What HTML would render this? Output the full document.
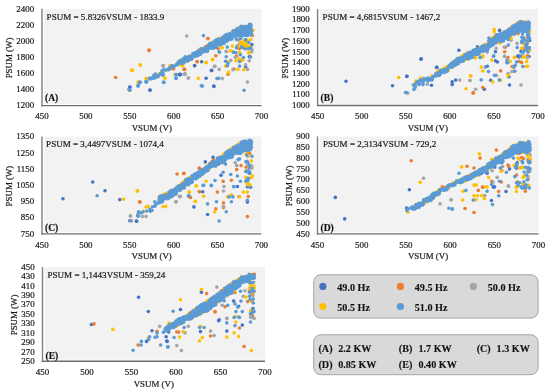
<!DOCTYPE html>
<html><head><meta charset="utf-8"><style>
html,body{margin:0;padding:0;background:#fff;width:550px;height:392px;overflow:hidden}
svg{display:block;will-change:transform}
.t{font-family:"Liberation Serif", serif;font-size:8.9px;fill:#1e1e1e;stroke:#1e1e1e;stroke-width:0.22px}
.lb{font-family:"Liberation Serif", serif;font-size:9.6px;font-weight:bold;fill:#111;stroke:#111;stroke-width:0.15px}
.lg{font-family:"Liberation Serif", serif;font-size:10.15px;font-weight:bold;fill:#111;stroke:#111;stroke-width:0.12px}
</style></head><body>
<svg width="550" height="392" viewBox="0 0 550 392">
<rect x="44.3" y="8.8" width="217.2" height="95.1" fill="#f2f2f2"/>
<circle cx="129.8" cy="87.0" r="1.8" fill="#4472C4"/>
<circle cx="149.9" cy="90.2" r="1.8" fill="#4472C4"/>
<circle cx="179.3" cy="74.6" r="1.8" fill="#4472C4"/>
<circle cx="201.6" cy="61.8" r="1.8" fill="#4472C4"/>
<circle cx="194.6" cy="65.6" r="1.8" fill="#4472C4"/>
<circle cx="211.8" cy="70.4" r="1.8" fill="#4472C4"/>
<circle cx="180.0" cy="74.3" r="1.8" fill="#4472C4"/>
<circle cx="206.1" cy="78.3" r="1.8" fill="#4472C4"/>
<circle cx="213.7" cy="86.0" r="1.8" fill="#4472C4"/>
<circle cx="194.6" cy="65.7" r="1.8" fill="#4472C4"/>
<circle cx="180.7" cy="74.6" r="1.8" fill="#4472C4"/>
<circle cx="214.0" cy="86.5" r="1.8" fill="#4472C4"/>
<circle cx="211.3" cy="70.6" r="1.8" fill="#4472C4"/>
<circle cx="245.6" cy="66.7" r="1.8" fill="#4472C4"/>
<circle cx="249.3" cy="56.7" r="1.8" fill="#4472C4"/>
<circle cx="251.8" cy="44.6" r="1.8" fill="#4472C4"/>
<circle cx="233.5" cy="52.2" r="1.8" fill="#4472C4"/>
<circle cx="240.6" cy="47.7" r="1.8" fill="#4472C4"/>
<circle cx="129.9" cy="87.2" r="1.8" fill="#4472C4"/>
<circle cx="179.5" cy="74.6" r="1.8" fill="#4472C4"/>
<circle cx="183.4" cy="59.9" r="1.8" fill="#4472C4"/>
<circle cx="150.1" cy="90.1" r="1.8" fill="#4472C4"/>
<circle cx="187.3" cy="60.9" r="1.8" fill="#4472C4"/>
<circle cx="205.1" cy="51.2" r="1.8" fill="#4472C4"/>
<circle cx="215.4" cy="47.3" r="1.8" fill="#4472C4"/>
<circle cx="237.3" cy="35.5" r="1.8" fill="#4472C4"/>
<circle cx="243.3" cy="47.2" r="1.8" fill="#4472C4"/>
<circle cx="245.6" cy="39.8" r="1.8" fill="#4472C4"/>
<circle cx="149.2" cy="50.5" r="1.8" fill="#ED7D31"/>
<circle cx="115.6" cy="77.5" r="1.8" fill="#ED7D31"/>
<circle cx="173.5" cy="68.8" r="1.8" fill="#ED7D31"/>
<circle cx="148.9" cy="50.1" r="1.8" fill="#ED7D31"/>
<circle cx="207.8" cy="38.5" r="1.8" fill="#ED7D31"/>
<circle cx="208.0" cy="38.6" r="1.8" fill="#ED7D31"/>
<circle cx="184.4" cy="69.4" r="1.8" fill="#ED7D31"/>
<circle cx="197.2" cy="61.8" r="1.8" fill="#ED7D31"/>
<circle cx="173.6" cy="68.8" r="1.8" fill="#ED7D31"/>
<circle cx="215.8" cy="55.7" r="1.8" fill="#ED7D31"/>
<circle cx="197.1" cy="61.6" r="1.8" fill="#ED7D31"/>
<circle cx="184.2" cy="69.4" r="1.8" fill="#ED7D31"/>
<circle cx="234.0" cy="69.1" r="1.8" fill="#ED7D31"/>
<circle cx="228.0" cy="74.2" r="1.8" fill="#ED7D31"/>
<circle cx="236.7" cy="56.0" r="1.8" fill="#ED7D31"/>
<circle cx="237.6" cy="39.5" r="1.8" fill="#ED7D31"/>
<circle cx="218.2" cy="48.7" r="1.8" fill="#ED7D31"/>
<circle cx="252.3" cy="35.4" r="1.8" fill="#ED7D31"/>
<circle cx="173.0" cy="68.6" r="1.8" fill="#ED7D31"/>
<circle cx="184.5" cy="69.2" r="1.8" fill="#ED7D31"/>
<circle cx="193.2" cy="53.8" r="1.8" fill="#ED7D31"/>
<circle cx="199.0" cy="50.0" r="1.8" fill="#ED7D31"/>
<circle cx="205.3" cy="47.0" r="1.8" fill="#ED7D31"/>
<circle cx="207.2" cy="45.9" r="1.8" fill="#ED7D31"/>
<circle cx="209.3" cy="44.6" r="1.8" fill="#ED7D31"/>
<circle cx="246.1" cy="48.8" r="1.8" fill="#ED7D31"/>
<circle cx="247.0" cy="40.9" r="1.8" fill="#ED7D31"/>
<circle cx="239.0" cy="48.4" r="1.8" fill="#ED7D31"/>
<circle cx="163.0" cy="65.9" r="1.8" fill="#A5A5A5"/>
<circle cx="158.2" cy="75.4" r="1.8" fill="#A5A5A5"/>
<circle cx="186.7" cy="36.0" r="1.8" fill="#A5A5A5"/>
<circle cx="163.4" cy="65.6" r="1.8" fill="#A5A5A5"/>
<circle cx="185.0" cy="73.9" r="1.8" fill="#A5A5A5"/>
<circle cx="214.4" cy="66.2" r="1.8" fill="#A5A5A5"/>
<circle cx="188.2" cy="78.1" r="1.8" fill="#A5A5A5"/>
<circle cx="185.2" cy="74.2" r="1.8" fill="#A5A5A5"/>
<circle cx="188.6" cy="78.0" r="1.8" fill="#A5A5A5"/>
<circle cx="215.0" cy="66.4" r="1.8" fill="#A5A5A5"/>
<circle cx="219.2" cy="69.4" r="1.8" fill="#A5A5A5"/>
<circle cx="222.2" cy="78.6" r="1.8" fill="#A5A5A5"/>
<circle cx="226.2" cy="51.8" r="1.8" fill="#A5A5A5"/>
<circle cx="230.7" cy="60.4" r="1.8" fill="#A5A5A5"/>
<circle cx="232.9" cy="69.7" r="1.8" fill="#A5A5A5"/>
<circle cx="249.3" cy="60.7" r="1.8" fill="#A5A5A5"/>
<circle cx="245.6" cy="64.9" r="1.8" fill="#A5A5A5"/>
<circle cx="247.5" cy="69.4" r="1.8" fill="#A5A5A5"/>
<circle cx="247.4" cy="82.1" r="1.8" fill="#A5A5A5"/>
<circle cx="235.2" cy="57.2" r="1.8" fill="#A5A5A5"/>
<circle cx="251.6" cy="51.8" r="1.8" fill="#A5A5A5"/>
<circle cx="226.3" cy="51.2" r="1.8" fill="#A5A5A5"/>
<circle cx="252.0" cy="50.0" r="1.8" fill="#A5A5A5"/>
<circle cx="157.7" cy="76.8" r="1.8" fill="#A5A5A5"/>
<circle cx="163.2" cy="65.9" r="1.8" fill="#A5A5A5"/>
<circle cx="184.5" cy="74.1" r="1.8" fill="#A5A5A5"/>
<circle cx="180.9" cy="60.4" r="1.8" fill="#A5A5A5"/>
<circle cx="180.9" cy="63.3" r="1.8" fill="#A5A5A5"/>
<circle cx="191.1" cy="59.2" r="1.8" fill="#A5A5A5"/>
<circle cx="195.1" cy="52.7" r="1.8" fill="#A5A5A5"/>
<circle cx="199.0" cy="54.2" r="1.8" fill="#A5A5A5"/>
<circle cx="200.9" cy="49.2" r="1.8" fill="#A5A5A5"/>
<circle cx="201.0" cy="53.7" r="1.8" fill="#A5A5A5"/>
<circle cx="202.7" cy="52.3" r="1.8" fill="#A5A5A5"/>
<circle cx="216.7" cy="39.8" r="1.8" fill="#A5A5A5"/>
<circle cx="218.8" cy="38.6" r="1.8" fill="#A5A5A5"/>
<circle cx="219.4" cy="45.4" r="1.8" fill="#A5A5A5"/>
<circle cx="224.9" cy="35.9" r="1.8" fill="#A5A5A5"/>
<circle cx="228.7" cy="39.8" r="1.8" fill="#A5A5A5"/>
<circle cx="231.4" cy="32.8" r="1.8" fill="#A5A5A5"/>
<circle cx="238.9" cy="27.8" r="1.8" fill="#A5A5A5"/>
<circle cx="241.2" cy="27.1" r="1.8" fill="#A5A5A5"/>
<circle cx="243.1" cy="34.9" r="1.8" fill="#A5A5A5"/>
<circle cx="246.8" cy="35.0" r="1.8" fill="#A5A5A5"/>
<circle cx="250.9" cy="35.2" r="1.8" fill="#A5A5A5"/>
<circle cx="242.6" cy="46.8" r="1.8" fill="#A5A5A5"/>
<circle cx="238.6" cy="40.3" r="1.8" fill="#A5A5A5"/>
<circle cx="237.1" cy="45.9" r="1.8" fill="#A5A5A5"/>
<circle cx="239.4" cy="44.0" r="1.8" fill="#A5A5A5"/>
<circle cx="132.3" cy="70.3" r="1.8" fill="#FFC000"/>
<circle cx="140.4" cy="64.9" r="1.8" fill="#FFC000"/>
<circle cx="129.5" cy="90.3" r="1.8" fill="#FFC000"/>
<circle cx="138.5" cy="81.9" r="1.8" fill="#FFC000"/>
<circle cx="146.3" cy="78.3" r="1.8" fill="#FFC000"/>
<circle cx="165.0" cy="78.3" r="1.8" fill="#FFC000"/>
<circle cx="159.6" cy="73.9" r="1.8" fill="#FFC000"/>
<circle cx="175.0" cy="74.6" r="1.8" fill="#FFC000"/>
<circle cx="131.6" cy="70.0" r="1.8" fill="#FFC000"/>
<circle cx="206.1" cy="62.4" r="1.8" fill="#FFC000"/>
<circle cx="212.5" cy="59.2" r="1.8" fill="#FFC000"/>
<circle cx="182.5" cy="65.6" r="1.8" fill="#FFC000"/>
<circle cx="198.2" cy="78.3" r="1.8" fill="#FFC000"/>
<circle cx="212.5" cy="59.7" r="1.8" fill="#FFC000"/>
<circle cx="206.1" cy="62.7" r="1.8" fill="#FFC000"/>
<circle cx="230.7" cy="50.7" r="1.8" fill="#FFC000"/>
<circle cx="225.5" cy="66.1" r="1.8" fill="#FFC000"/>
<circle cx="235.9" cy="60.7" r="1.8" fill="#FFC000"/>
<circle cx="237.9" cy="69.4" r="1.8" fill="#FFC000"/>
<circle cx="228.5" cy="72.4" r="1.8" fill="#FFC000"/>
<circle cx="242.6" cy="60.4" r="1.8" fill="#FFC000"/>
<circle cx="243.8" cy="69.7" r="1.8" fill="#FFC000"/>
<circle cx="239.6" cy="52.2" r="1.8" fill="#FFC000"/>
<circle cx="238.9" cy="59.0" r="1.8" fill="#FFC000"/>
<circle cx="241.1" cy="59.7" r="1.8" fill="#FFC000"/>
<circle cx="249.0" cy="53.0" r="1.8" fill="#FFC000"/>
<circle cx="246.2" cy="34.9" r="1.8" fill="#FFC000"/>
<circle cx="250.8" cy="39.5" r="1.8" fill="#FFC000"/>
<circle cx="240.6" cy="43.1" r="1.8" fill="#FFC000"/>
<circle cx="242.0" cy="44.0" r="1.8" fill="#FFC000"/>
<circle cx="246.2" cy="45.1" r="1.8" fill="#FFC000"/>
<circle cx="232.4" cy="46.1" r="1.8" fill="#FFC000"/>
<circle cx="230.4" cy="50.7" r="1.8" fill="#FFC000"/>
<circle cx="250.8" cy="47.7" r="1.8" fill="#FFC000"/>
<circle cx="222.2" cy="47.7" r="1.8" fill="#FFC000"/>
<circle cx="248.8" cy="52.8" r="1.8" fill="#FFC000"/>
<circle cx="252.9" cy="30.3" r="1.8" fill="#FFC000"/>
<circle cx="227.7" cy="61.9" r="1.8" fill="#FFC000"/>
<circle cx="138.1" cy="82.3" r="1.8" fill="#FFC000"/>
<circle cx="146.3" cy="78.5" r="1.8" fill="#FFC000"/>
<circle cx="158.8" cy="74.6" r="1.8" fill="#FFC000"/>
<circle cx="161.0" cy="72.5" r="1.8" fill="#FFC000"/>
<circle cx="165.9" cy="70.3" r="1.8" fill="#FFC000"/>
<circle cx="169.7" cy="65.9" r="1.8" fill="#FFC000"/>
<circle cx="181.7" cy="65.4" r="1.8" fill="#FFC000"/>
<circle cx="176.3" cy="74.6" r="1.8" fill="#FFC000"/>
<circle cx="164.8" cy="78.1" r="1.8" fill="#FFC000"/>
<circle cx="140.3" cy="65.0" r="1.8" fill="#FFC000"/>
<circle cx="132.4" cy="70.5" r="1.8" fill="#FFC000"/>
<circle cx="129.5" cy="90.5" r="1.8" fill="#FFC000"/>
<circle cx="178.8" cy="61.4" r="1.8" fill="#FFC000"/>
<circle cx="179.2" cy="63.9" r="1.8" fill="#FFC000"/>
<circle cx="184.8" cy="62.0" r="1.8" fill="#FFC000"/>
<circle cx="188.9" cy="56.0" r="1.8" fill="#FFC000"/>
<circle cx="203.2" cy="48.3" r="1.8" fill="#FFC000"/>
<circle cx="211.1" cy="43.0" r="1.8" fill="#FFC000"/>
<circle cx="212.9" cy="42.1" r="1.8" fill="#FFC000"/>
<circle cx="217.3" cy="46.1" r="1.8" fill="#FFC000"/>
<circle cx="221.1" cy="38.1" r="1.8" fill="#FFC000"/>
<circle cx="223.2" cy="43.0" r="1.8" fill="#FFC000"/>
<circle cx="232.7" cy="31.5" r="1.8" fill="#FFC000"/>
<circle cx="241.1" cy="35.2" r="1.8" fill="#FFC000"/>
<circle cx="243.1" cy="26.4" r="1.8" fill="#FFC000"/>
<circle cx="249.5" cy="24.7" r="1.8" fill="#FFC000"/>
<circle cx="239.9" cy="46.3" r="1.8" fill="#FFC000"/>
<circle cx="245.8" cy="46.1" r="1.8" fill="#FFC000"/>
<circle cx="244.0" cy="40.5" r="1.8" fill="#FFC000"/>
<circle cx="249.1" cy="47.8" r="1.8" fill="#FFC000"/>
<circle cx="248.4" cy="47.0" r="1.8" fill="#FFC000"/>
<circle cx="247.9" cy="41.0" r="1.8" fill="#FFC000"/>
<circle cx="245.8" cy="42.1" r="1.8" fill="#FFC000"/>
<circle cx="246.4" cy="44.7" r="1.8" fill="#FFC000"/>
<circle cx="241.3" cy="42.4" r="1.8" fill="#FFC000"/>
<circle cx="245.1" cy="42.7" r="1.8" fill="#FFC000"/>
<circle cx="244.7" cy="44.6" r="1.8" fill="#FFC000"/>
<circle cx="249.3" cy="46.5" r="1.8" fill="#FFC000"/>
<circle cx="243.8" cy="45.9" r="1.8" fill="#FFC000"/>
<circle cx="129.8" cy="89.9" r="1.8" fill="#5B9BD5"/>
<circle cx="140.0" cy="82.3" r="1.8" fill="#5B9BD5"/>
<circle cx="138.1" cy="85.8" r="1.8" fill="#5B9BD5"/>
<circle cx="146.3" cy="81.9" r="1.8" fill="#5B9BD5"/>
<circle cx="163.6" cy="82.3" r="1.8" fill="#5B9BD5"/>
<circle cx="175.9" cy="78.3" r="1.8" fill="#5B9BD5"/>
<circle cx="175.9" cy="74.6" r="1.8" fill="#5B9BD5"/>
<circle cx="129.0" cy="89.3" r="1.8" fill="#5B9BD5"/>
<circle cx="138.1" cy="85.5" r="1.8" fill="#5B9BD5"/>
<circle cx="139.4" cy="82.9" r="1.8" fill="#5B9BD5"/>
<circle cx="145.8" cy="81.6" r="1.8" fill="#5B9BD5"/>
<circle cx="203.5" cy="35.6" r="1.8" fill="#5B9BD5"/>
<circle cx="163.8" cy="82.4" r="1.8" fill="#5B9BD5"/>
<circle cx="176.1" cy="74.5" r="1.8" fill="#5B9BD5"/>
<circle cx="176.1" cy="78.3" r="1.8" fill="#5B9BD5"/>
<circle cx="217.0" cy="78.6" r="1.8" fill="#5B9BD5"/>
<circle cx="218.5" cy="78.3" r="1.8" fill="#5B9BD5"/>
<circle cx="201.3" cy="85.8" r="1.8" fill="#5B9BD5"/>
<circle cx="202.4" cy="86.1" r="1.8" fill="#5B9BD5"/>
<circle cx="225.5" cy="61.2" r="1.8" fill="#5B9BD5"/>
<circle cx="228.0" cy="63.4" r="1.8" fill="#5B9BD5"/>
<circle cx="227.4" cy="65.7" r="1.8" fill="#5B9BD5"/>
<circle cx="239.6" cy="61.6" r="1.8" fill="#5B9BD5"/>
<circle cx="239.6" cy="66.1" r="1.8" fill="#5B9BD5"/>
<circle cx="244.1" cy="90.3" r="1.8" fill="#5B9BD5"/>
<circle cx="219.5" cy="52.2" r="1.8" fill="#5B9BD5"/>
<circle cx="226.2" cy="56.7" r="1.8" fill="#5B9BD5"/>
<circle cx="233.7" cy="52.2" r="1.8" fill="#5B9BD5"/>
<circle cx="235.9" cy="52.7" r="1.8" fill="#5B9BD5"/>
<circle cx="240.4" cy="54.8" r="1.8" fill="#5B9BD5"/>
<circle cx="243.4" cy="57.5" r="1.8" fill="#5B9BD5"/>
<circle cx="250.5" cy="56.9" r="1.8" fill="#5B9BD5"/>
<circle cx="240.6" cy="38.5" r="1.8" fill="#5B9BD5"/>
<circle cx="241.6" cy="36.5" r="1.8" fill="#5B9BD5"/>
<circle cx="248.8" cy="42.6" r="1.8" fill="#5B9BD5"/>
<circle cx="227.3" cy="47.1" r="1.8" fill="#5B9BD5"/>
<circle cx="236.5" cy="47.7" r="1.8" fill="#5B9BD5"/>
<circle cx="244.7" cy="48.7" r="1.8" fill="#5B9BD5"/>
<circle cx="248.4" cy="48.7" r="1.8" fill="#5B9BD5"/>
<circle cx="219.2" cy="51.7" r="1.8" fill="#5B9BD5"/>
<circle cx="149.5" cy="78.3" r="1.8" fill="#5B9BD5"/>
<circle cx="152.4" cy="77.5" r="1.8" fill="#5B9BD5"/>
<circle cx="155.3" cy="74.6" r="1.8" fill="#5B9BD5"/>
<circle cx="155.3" cy="76.8" r="1.8" fill="#5B9BD5"/>
<circle cx="158.2" cy="76.1" r="1.8" fill="#5B9BD5"/>
<circle cx="161.1" cy="73.9" r="1.8" fill="#5B9BD5"/>
<circle cx="162.5" cy="71.0" r="1.8" fill="#5B9BD5"/>
<circle cx="164.0" cy="69.5" r="1.8" fill="#5B9BD5"/>
<circle cx="168.4" cy="68.8" r="1.8" fill="#5B9BD5"/>
<circle cx="171.3" cy="66.6" r="1.8" fill="#5B9BD5"/>
<circle cx="172.7" cy="65.9" r="1.8" fill="#5B9BD5"/>
<circle cx="177.1" cy="63.7" r="1.8" fill="#5B9BD5"/>
<circle cx="179.3" cy="61.5" r="1.8" fill="#5B9BD5"/>
<circle cx="150.5" cy="79.0" r="1.8" fill="#5B9BD5"/>
<circle cx="153.0" cy="78.0" r="1.8" fill="#5B9BD5"/>
<circle cx="157.0" cy="77.0" r="1.8" fill="#5B9BD5"/>
<circle cx="160.0" cy="74.0" r="1.8" fill="#5B9BD5"/>
<circle cx="166.0" cy="70.0" r="1.8" fill="#5B9BD5"/>
<circle cx="170.0" cy="68.0" r="1.8" fill="#5B9BD5"/>
<circle cx="174.0" cy="66.5" r="1.8" fill="#5B9BD5"/>
<circle cx="176.0" cy="65.0" r="1.8" fill="#5B9BD5"/>
<circle cx="178.0" cy="63.0" r="1.8" fill="#5B9BD5"/>
<circle cx="129.9" cy="89.9" r="1.8" fill="#5B9BD5"/>
<circle cx="140.3" cy="82.3" r="1.8" fill="#5B9BD5"/>
<circle cx="138.1" cy="86.1" r="1.8" fill="#5B9BD5"/>
<circle cx="146.3" cy="82.1" r="1.8" fill="#5B9BD5"/>
<circle cx="146.8" cy="81.2" r="1.8" fill="#5B9BD5"/>
<circle cx="150.1" cy="78.5" r="1.8" fill="#5B9BD5"/>
<circle cx="152.3" cy="78.5" r="1.8" fill="#5B9BD5"/>
<circle cx="154.5" cy="77.9" r="1.8" fill="#5B9BD5"/>
<circle cx="153.9" cy="75.2" r="1.8" fill="#5B9BD5"/>
<circle cx="155.5" cy="74.1" r="1.8" fill="#5B9BD5"/>
<circle cx="162.1" cy="70.8" r="1.8" fill="#5B9BD5"/>
<circle cx="162.6" cy="72.5" r="1.8" fill="#5B9BD5"/>
<circle cx="163.2" cy="74.1" r="1.8" fill="#5B9BD5"/>
<circle cx="162.6" cy="75.2" r="1.8" fill="#5B9BD5"/>
<circle cx="168.6" cy="69.7" r="1.8" fill="#5B9BD5"/>
<circle cx="170.3" cy="68.6" r="1.8" fill="#5B9BD5"/>
<circle cx="171.4" cy="67.0" r="1.8" fill="#5B9BD5"/>
<circle cx="171.9" cy="65.9" r="1.8" fill="#5B9BD5"/>
<circle cx="177.4" cy="64.8" r="1.8" fill="#5B9BD5"/>
<circle cx="178.5" cy="62.6" r="1.8" fill="#5B9BD5"/>
<circle cx="179.5" cy="61.5" r="1.8" fill="#5B9BD5"/>
<circle cx="180.6" cy="60.5" r="1.8" fill="#5B9BD5"/>
<circle cx="176.3" cy="78.1" r="1.8" fill="#5B9BD5"/>
<circle cx="163.7" cy="82.3" r="1.8" fill="#5B9BD5"/>
<circle cx="179.2" cy="61.5" r="1.8" fill="#5B9BD5"/>
<circle cx="179.0" cy="63.2" r="1.8" fill="#5B9BD5"/>
<circle cx="180.3" cy="61.1" r="1.8" fill="#5B9BD5"/>
<circle cx="180.9" cy="63.0" r="1.8" fill="#5B9BD5"/>
<circle cx="180.8" cy="62.7" r="1.8" fill="#5B9BD5"/>
<circle cx="182.0" cy="61.0" r="1.8" fill="#5B9BD5"/>
<circle cx="182.5" cy="61.8" r="1.8" fill="#5B9BD5"/>
<circle cx="181.8" cy="63.1" r="1.8" fill="#5B9BD5"/>
<circle cx="183.6" cy="60.3" r="1.8" fill="#5B9BD5"/>
<circle cx="183.4" cy="61.8" r="1.8" fill="#5B9BD5"/>
<circle cx="183.8" cy="62.7" r="1.8" fill="#5B9BD5"/>
<circle cx="185.2" cy="56.9" r="1.8" fill="#5B9BD5"/>
<circle cx="185.2" cy="58.2" r="1.8" fill="#5B9BD5"/>
<circle cx="185.7" cy="60.0" r="1.8" fill="#5B9BD5"/>
<circle cx="187.4" cy="57.5" r="1.8" fill="#5B9BD5"/>
<circle cx="186.7" cy="58.7" r="1.8" fill="#5B9BD5"/>
<circle cx="187.2" cy="59.8" r="1.8" fill="#5B9BD5"/>
<circle cx="188.9" cy="57.4" r="1.8" fill="#5B9BD5"/>
<circle cx="188.4" cy="59.0" r="1.8" fill="#5B9BD5"/>
<circle cx="188.9" cy="59.9" r="1.8" fill="#5B9BD5"/>
<circle cx="189.8" cy="56.4" r="1.8" fill="#5B9BD5"/>
<circle cx="190.4" cy="58.2" r="1.8" fill="#5B9BD5"/>
<circle cx="189.9" cy="59.4" r="1.8" fill="#5B9BD5"/>
<circle cx="191.7" cy="56.4" r="1.8" fill="#5B9BD5"/>
<circle cx="191.8" cy="58.2" r="1.8" fill="#5B9BD5"/>
<circle cx="191.8" cy="59.0" r="1.8" fill="#5B9BD5"/>
<circle cx="193.0" cy="53.6" r="1.8" fill="#5B9BD5"/>
<circle cx="193.8" cy="55.1" r="1.8" fill="#5B9BD5"/>
<circle cx="193.3" cy="55.5" r="1.8" fill="#5B9BD5"/>
<circle cx="195.2" cy="53.0" r="1.8" fill="#5B9BD5"/>
<circle cx="195.3" cy="54.4" r="1.8" fill="#5B9BD5"/>
<circle cx="195.0" cy="56.5" r="1.8" fill="#5B9BD5"/>
<circle cx="196.4" cy="52.6" r="1.8" fill="#5B9BD5"/>
<circle cx="197.0" cy="53.8" r="1.8" fill="#5B9BD5"/>
<circle cx="196.8" cy="55.5" r="1.8" fill="#5B9BD5"/>
<circle cx="198.4" cy="52.4" r="1.8" fill="#5B9BD5"/>
<circle cx="198.2" cy="53.9" r="1.8" fill="#5B9BD5"/>
<circle cx="197.8" cy="55.4" r="1.8" fill="#5B9BD5"/>
<circle cx="199.8" cy="51.7" r="1.8" fill="#5B9BD5"/>
<circle cx="199.7" cy="53.2" r="1.8" fill="#5B9BD5"/>
<circle cx="199.8" cy="54.4" r="1.8" fill="#5B9BD5"/>
<circle cx="201.0" cy="48.9" r="1.8" fill="#5B9BD5"/>
<circle cx="201.1" cy="50.7" r="1.8" fill="#5B9BD5"/>
<circle cx="201.7" cy="51.9" r="1.8" fill="#5B9BD5"/>
<circle cx="202.8" cy="49.2" r="1.8" fill="#5B9BD5"/>
<circle cx="203.1" cy="50.2" r="1.8" fill="#5B9BD5"/>
<circle cx="202.6" cy="51.3" r="1.8" fill="#5B9BD5"/>
<circle cx="204.3" cy="48.4" r="1.8" fill="#5B9BD5"/>
<circle cx="204.5" cy="49.6" r="1.8" fill="#5B9BD5"/>
<circle cx="204.3" cy="50.9" r="1.8" fill="#5B9BD5"/>
<circle cx="206.4" cy="47.2" r="1.8" fill="#5B9BD5"/>
<circle cx="206.1" cy="48.9" r="1.8" fill="#5B9BD5"/>
<circle cx="205.8" cy="50.4" r="1.8" fill="#5B9BD5"/>
<circle cx="206.1" cy="50.4" r="1.8" fill="#5B9BD5"/>
<circle cx="207.8" cy="46.5" r="1.8" fill="#5B9BD5"/>
<circle cx="207.9" cy="48.5" r="1.8" fill="#5B9BD5"/>
<circle cx="207.4" cy="49.5" r="1.8" fill="#5B9BD5"/>
<circle cx="207.5" cy="51.2" r="1.8" fill="#5B9BD5"/>
<circle cx="209.5" cy="43.8" r="1.8" fill="#5B9BD5"/>
<circle cx="209.2" cy="45.8" r="1.8" fill="#5B9BD5"/>
<circle cx="209.6" cy="47.0" r="1.8" fill="#5B9BD5"/>
<circle cx="209.2" cy="48.3" r="1.8" fill="#5B9BD5"/>
<circle cx="210.9" cy="43.5" r="1.8" fill="#5B9BD5"/>
<circle cx="210.6" cy="44.9" r="1.8" fill="#5B9BD5"/>
<circle cx="211.4" cy="46.9" r="1.8" fill="#5B9BD5"/>
<circle cx="210.8" cy="48.2" r="1.8" fill="#5B9BD5"/>
<circle cx="212.8" cy="42.8" r="1.8" fill="#5B9BD5"/>
<circle cx="212.4" cy="44.0" r="1.8" fill="#5B9BD5"/>
<circle cx="212.9" cy="45.7" r="1.8" fill="#5B9BD5"/>
<circle cx="212.9" cy="48.0" r="1.8" fill="#5B9BD5"/>
<circle cx="212.7" cy="47.8" r="1.8" fill="#5B9BD5"/>
<circle cx="214.4" cy="42.9" r="1.8" fill="#5B9BD5"/>
<circle cx="214.1" cy="44.4" r="1.8" fill="#5B9BD5"/>
<circle cx="214.0" cy="46.2" r="1.8" fill="#5B9BD5"/>
<circle cx="214.1" cy="47.5" r="1.8" fill="#5B9BD5"/>
<circle cx="213.9" cy="48.0" r="1.8" fill="#5B9BD5"/>
<circle cx="215.7" cy="42.3" r="1.8" fill="#5B9BD5"/>
<circle cx="216.1" cy="43.2" r="1.8" fill="#5B9BD5"/>
<circle cx="215.6" cy="45.0" r="1.8" fill="#5B9BD5"/>
<circle cx="216.2" cy="47.0" r="1.8" fill="#5B9BD5"/>
<circle cx="215.7" cy="47.0" r="1.8" fill="#5B9BD5"/>
<circle cx="217.7" cy="39.5" r="1.8" fill="#5B9BD5"/>
<circle cx="217.7" cy="41.3" r="1.8" fill="#5B9BD5"/>
<circle cx="217.4" cy="43.2" r="1.8" fill="#5B9BD5"/>
<circle cx="217.2" cy="44.6" r="1.8" fill="#5B9BD5"/>
<circle cx="217.1" cy="44.6" r="1.8" fill="#5B9BD5"/>
<circle cx="219.2" cy="39.7" r="1.8" fill="#5B9BD5"/>
<circle cx="219.3" cy="41.1" r="1.8" fill="#5B9BD5"/>
<circle cx="218.9" cy="42.6" r="1.8" fill="#5B9BD5"/>
<circle cx="219.3" cy="44.0" r="1.8" fill="#5B9BD5"/>
<circle cx="220.3" cy="39.4" r="1.8" fill="#5B9BD5"/>
<circle cx="220.3" cy="40.6" r="1.8" fill="#5B9BD5"/>
<circle cx="220.3" cy="42.9" r="1.8" fill="#5B9BD5"/>
<circle cx="220.8" cy="44.4" r="1.8" fill="#5B9BD5"/>
<circle cx="222.4" cy="38.4" r="1.8" fill="#5B9BD5"/>
<circle cx="222.3" cy="39.9" r="1.8" fill="#5B9BD5"/>
<circle cx="221.9" cy="41.6" r="1.8" fill="#5B9BD5"/>
<circle cx="222.5" cy="43.4" r="1.8" fill="#5B9BD5"/>
<circle cx="222.5" cy="43.5" r="1.8" fill="#5B9BD5"/>
<circle cx="224.1" cy="37.8" r="1.8" fill="#5B9BD5"/>
<circle cx="223.9" cy="39.4" r="1.8" fill="#5B9BD5"/>
<circle cx="223.5" cy="41.7" r="1.8" fill="#5B9BD5"/>
<circle cx="223.4" cy="42.8" r="1.8" fill="#5B9BD5"/>
<circle cx="224.2" cy="43.3" r="1.8" fill="#5B9BD5"/>
<circle cx="225.2" cy="35.5" r="1.8" fill="#5B9BD5"/>
<circle cx="225.1" cy="37.3" r="1.8" fill="#5B9BD5"/>
<circle cx="225.3" cy="38.9" r="1.8" fill="#5B9BD5"/>
<circle cx="225.7" cy="40.0" r="1.8" fill="#5B9BD5"/>
<circle cx="225.2" cy="40.1" r="1.8" fill="#5B9BD5"/>
<circle cx="226.6" cy="34.6" r="1.8" fill="#5B9BD5"/>
<circle cx="227.4" cy="36.4" r="1.8" fill="#5B9BD5"/>
<circle cx="227.1" cy="38.2" r="1.8" fill="#5B9BD5"/>
<circle cx="226.9" cy="39.5" r="1.8" fill="#5B9BD5"/>
<circle cx="227.3" cy="40.6" r="1.8" fill="#5B9BD5"/>
<circle cx="228.4" cy="35.6" r="1.8" fill="#5B9BD5"/>
<circle cx="229.0" cy="37.1" r="1.8" fill="#5B9BD5"/>
<circle cx="228.8" cy="38.8" r="1.8" fill="#5B9BD5"/>
<circle cx="228.4" cy="39.5" r="1.8" fill="#5B9BD5"/>
<circle cx="229.9" cy="34.4" r="1.8" fill="#5B9BD5"/>
<circle cx="230.6" cy="36.1" r="1.8" fill="#5B9BD5"/>
<circle cx="230.3" cy="37.9" r="1.8" fill="#5B9BD5"/>
<circle cx="230.6" cy="39.1" r="1.8" fill="#5B9BD5"/>
<circle cx="231.7" cy="34.4" r="1.8" fill="#5B9BD5"/>
<circle cx="232.1" cy="35.5" r="1.8" fill="#5B9BD5"/>
<circle cx="231.7" cy="37.3" r="1.8" fill="#5B9BD5"/>
<circle cx="231.9" cy="39.0" r="1.8" fill="#5B9BD5"/>
<circle cx="233.2" cy="30.8" r="1.8" fill="#5B9BD5"/>
<circle cx="233.4" cy="32.4" r="1.8" fill="#5B9BD5"/>
<circle cx="233.1" cy="34.4" r="1.8" fill="#5B9BD5"/>
<circle cx="233.2" cy="36.0" r="1.8" fill="#5B9BD5"/>
<circle cx="234.7" cy="30.9" r="1.8" fill="#5B9BD5"/>
<circle cx="235.2" cy="32.1" r="1.8" fill="#5B9BD5"/>
<circle cx="235.4" cy="33.8" r="1.8" fill="#5B9BD5"/>
<circle cx="235.2" cy="36.0" r="1.8" fill="#5B9BD5"/>
<circle cx="235.3" cy="35.9" r="1.8" fill="#5B9BD5"/>
<circle cx="236.9" cy="29.8" r="1.8" fill="#5B9BD5"/>
<circle cx="236.9" cy="31.3" r="1.8" fill="#5B9BD5"/>
<circle cx="236.9" cy="32.8" r="1.8" fill="#5B9BD5"/>
<circle cx="236.5" cy="35.1" r="1.8" fill="#5B9BD5"/>
<circle cx="236.8" cy="35.7" r="1.8" fill="#5B9BD5"/>
<circle cx="238.4" cy="29.9" r="1.8" fill="#5B9BD5"/>
<circle cx="238.1" cy="31.5" r="1.8" fill="#5B9BD5"/>
<circle cx="238.4" cy="33.5" r="1.8" fill="#5B9BD5"/>
<circle cx="238.0" cy="34.6" r="1.8" fill="#5B9BD5"/>
<circle cx="238.6" cy="35.8" r="1.8" fill="#5B9BD5"/>
<circle cx="240.1" cy="29.3" r="1.8" fill="#5B9BD5"/>
<circle cx="239.7" cy="30.8" r="1.8" fill="#5B9BD5"/>
<circle cx="239.6" cy="32.2" r="1.8" fill="#5B9BD5"/>
<circle cx="239.9" cy="34.1" r="1.8" fill="#5B9BD5"/>
<circle cx="239.9" cy="35.1" r="1.8" fill="#5B9BD5"/>
<circle cx="241.1" cy="26.3" r="1.8" fill="#5B9BD5"/>
<circle cx="241.7" cy="28.1" r="1.8" fill="#5B9BD5"/>
<circle cx="241.3" cy="29.8" r="1.8" fill="#5B9BD5"/>
<circle cx="241.2" cy="30.9" r="1.8" fill="#5B9BD5"/>
<circle cx="241.4" cy="32.9" r="1.8" fill="#5B9BD5"/>
<circle cx="241.5" cy="33.0" r="1.8" fill="#5B9BD5"/>
<circle cx="242.8" cy="26.8" r="1.8" fill="#5B9BD5"/>
<circle cx="243.0" cy="28.2" r="1.8" fill="#5B9BD5"/>
<circle cx="242.9" cy="30.1" r="1.8" fill="#5B9BD5"/>
<circle cx="243.3" cy="31.9" r="1.8" fill="#5B9BD5"/>
<circle cx="242.8" cy="33.3" r="1.8" fill="#5B9BD5"/>
<circle cx="242.6" cy="33.8" r="1.8" fill="#5B9BD5"/>
<circle cx="244.3" cy="26.8" r="1.8" fill="#5B9BD5"/>
<circle cx="244.9" cy="28.1" r="1.8" fill="#5B9BD5"/>
<circle cx="244.8" cy="30.1" r="1.8" fill="#5B9BD5"/>
<circle cx="244.5" cy="31.6" r="1.8" fill="#5B9BD5"/>
<circle cx="244.8" cy="33.1" r="1.8" fill="#5B9BD5"/>
<circle cx="244.9" cy="34.9" r="1.8" fill="#5B9BD5"/>
<circle cx="245.0" cy="34.8" r="1.8" fill="#5B9BD5"/>
<circle cx="246.0" cy="26.4" r="1.8" fill="#5B9BD5"/>
<circle cx="246.4" cy="27.6" r="1.8" fill="#5B9BD5"/>
<circle cx="246.3" cy="29.7" r="1.8" fill="#5B9BD5"/>
<circle cx="246.1" cy="31.2" r="1.8" fill="#5B9BD5"/>
<circle cx="245.9" cy="32.9" r="1.8" fill="#5B9BD5"/>
<circle cx="245.8" cy="34.7" r="1.8" fill="#5B9BD5"/>
<circle cx="246.4" cy="34.7" r="1.8" fill="#5B9BD5"/>
<circle cx="248.2" cy="26.4" r="1.8" fill="#5B9BD5"/>
<circle cx="248.0" cy="28.6" r="1.8" fill="#5B9BD5"/>
<circle cx="247.9" cy="30.1" r="1.8" fill="#5B9BD5"/>
<circle cx="247.8" cy="31.9" r="1.8" fill="#5B9BD5"/>
<circle cx="248.2" cy="33.0" r="1.8" fill="#5B9BD5"/>
<circle cx="248.0" cy="34.7" r="1.8" fill="#5B9BD5"/>
<circle cx="247.5" cy="35.6" r="1.8" fill="#5B9BD5"/>
<circle cx="249.8" cy="24.2" r="1.8" fill="#5B9BD5"/>
<circle cx="249.5" cy="26.0" r="1.8" fill="#5B9BD5"/>
<circle cx="249.1" cy="27.5" r="1.8" fill="#5B9BD5"/>
<circle cx="249.2" cy="29.5" r="1.8" fill="#5B9BD5"/>
<circle cx="249.0" cy="30.6" r="1.8" fill="#5B9BD5"/>
<circle cx="249.4" cy="32.1" r="1.8" fill="#5B9BD5"/>
<circle cx="249.5" cy="33.9" r="1.8" fill="#5B9BD5"/>
<circle cx="250.8" cy="25.4" r="1.8" fill="#5B9BD5"/>
<circle cx="250.8" cy="27.1" r="1.8" fill="#5B9BD5"/>
<circle cx="250.8" cy="28.7" r="1.8" fill="#5B9BD5"/>
<circle cx="251.2" cy="30.4" r="1.8" fill="#5B9BD5"/>
<circle cx="251.4" cy="31.8" r="1.8" fill="#5B9BD5"/>
<circle cx="251.0" cy="33.7" r="1.8" fill="#5B9BD5"/>
<circle cx="251.2" cy="33.7" r="1.8" fill="#5B9BD5"/>
<circle cx="183.2" cy="58.7" r="1.8" fill="#5B9BD5"/>
<circle cx="183.3" cy="62.7" r="1.8" fill="#5B9BD5"/>
<circle cx="185.4" cy="57.4" r="1.8" fill="#5B9BD5"/>
<circle cx="188.5" cy="59.9" r="1.8" fill="#5B9BD5"/>
<circle cx="197.3" cy="51.6" r="1.8" fill="#5B9BD5"/>
<circle cx="197.4" cy="55.8" r="1.8" fill="#5B9BD5"/>
<circle cx="207.2" cy="50.5" r="1.8" fill="#5B9BD5"/>
<circle cx="215.1" cy="40.6" r="1.8" fill="#5B9BD5"/>
<circle cx="223.0" cy="37.1" r="1.8" fill="#5B9BD5"/>
<circle cx="226.8" cy="41.1" r="1.8" fill="#5B9BD5"/>
<circle cx="229.2" cy="33.9" r="1.8" fill="#5B9BD5"/>
<circle cx="234.9" cy="30.7" r="1.8" fill="#5B9BD5"/>
<circle cx="234.9" cy="36.5" r="1.8" fill="#5B9BD5"/>
<circle cx="236.8" cy="28.9" r="1.8" fill="#5B9BD5"/>
<circle cx="245.0" cy="35.0" r="1.8" fill="#5B9BD5"/>
<circle cx="250.6" cy="24.5" r="1.8" fill="#5B9BD5"/>
<circle cx="245.6" cy="40.1" r="1.8" fill="#5B9BD5"/>
<circle cx="236.4" cy="39.4" r="1.8" fill="#5B9BD5"/>
<circle cx="250.9" cy="48.1" r="1.8" fill="#5B9BD5"/>
<circle cx="241.8" cy="46.7" r="1.8" fill="#5B9BD5"/>
<line x1="42" y1="8.8" x2="42" y2="106.3" stroke="#7f7f7f" stroke-width="1.4"/>
<line x1="41.3" y1="105.6" x2="261.5" y2="105.6" stroke="#6f6f6f" stroke-width="1.4"/>
<text x="34.1" y="108.30" text-anchor="end" class="t">1200</text>
<text x="34.1" y="92.17" text-anchor="end" class="t">1400</text>
<text x="34.1" y="76.03" text-anchor="end" class="t">1600</text>
<text x="34.1" y="59.90" text-anchor="end" class="t">1800</text>
<text x="34.1" y="43.77" text-anchor="end" class="t">2000</text>
<text x="34.1" y="27.63" text-anchor="end" class="t">2200</text>
<text x="34.1" y="11.50" text-anchor="end" class="t">2400</text>
<text x="42.00" y="119.20" text-anchor="middle" class="t">450</text>
<text x="85.90" y="119.20" text-anchor="middle" class="t">500</text>
<text x="129.80" y="119.20" text-anchor="middle" class="t">550</text>
<text x="173.70" y="119.20" text-anchor="middle" class="t">600</text>
<text x="217.60" y="119.20" text-anchor="middle" class="t">650</text>
<text x="261.50" y="119.20" text-anchor="middle" class="t">700</text>
<text x="151.75" y="131.10" text-anchor="middle" class="t">VSUM (V)</text>
<text transform="translate(12.20,58.00) rotate(-90)" text-anchor="middle" class="t">PSUM (W)</text>
<text x="46.6" y="19.9" class="t" style="font-size:9.05px" xml:space="preserve">PSUM = 5.8326VSUM - 1833.9</text>
<text x="45" y="101.10" class="lb">(A)</text>
<rect x="319.90000000000003" y="9" width="218.09999999999997" height="94.8" fill="#f2f2f2"/>
<circle cx="346.0" cy="81.2" r="1.8" fill="#4472C4"/>
<circle cx="406.8" cy="76.4" r="1.8" fill="#4472C4"/>
<circle cx="392.5" cy="85.8" r="1.8" fill="#4472C4"/>
<circle cx="420.9" cy="59.1" r="1.8" fill="#4472C4"/>
<circle cx="406.9" cy="76.3" r="1.8" fill="#4472C4"/>
<circle cx="436.9" cy="67.4" r="1.8" fill="#4472C4"/>
<circle cx="419.0" cy="84.3" r="1.8" fill="#4472C4"/>
<circle cx="431.5" cy="85.3" r="1.8" fill="#4472C4"/>
<circle cx="452.2" cy="81.8" r="1.8" fill="#4472C4"/>
<circle cx="452.2" cy="84.6" r="1.8" fill="#4472C4"/>
<circle cx="455.7" cy="80.1" r="1.8" fill="#4472C4"/>
<circle cx="458.9" cy="50.3" r="1.8" fill="#4472C4"/>
<circle cx="421.3" cy="58.9" r="1.8" fill="#4472C4"/>
<circle cx="436.6" cy="67.2" r="1.8" fill="#4472C4"/>
<circle cx="477.4" cy="46.8" r="1.8" fill="#4472C4"/>
<circle cx="499.6" cy="30.4" r="1.8" fill="#4472C4"/>
<circle cx="495.5" cy="51.8" r="1.8" fill="#4472C4"/>
<circle cx="521.0" cy="51.4" r="1.8" fill="#4472C4"/>
<circle cx="518.5" cy="55.9" r="1.8" fill="#4472C4"/>
<circle cx="495.5" cy="60.7" r="1.8" fill="#4472C4"/>
<circle cx="497.4" cy="62.0" r="1.8" fill="#4472C4"/>
<circle cx="487.2" cy="66.2" r="1.8" fill="#4472C4"/>
<circle cx="490.7" cy="80.2" r="1.8" fill="#4472C4"/>
<circle cx="509.5" cy="85.0" r="1.8" fill="#4472C4"/>
<circle cx="484.3" cy="89.2" r="1.8" fill="#4472C4"/>
<circle cx="507.0" cy="62.6" r="1.8" fill="#4472C4"/>
<circle cx="517.8" cy="56.3" r="1.8" fill="#4472C4"/>
<circle cx="519.1" cy="56.9" r="1.8" fill="#4472C4"/>
<circle cx="529.0" cy="56.5" r="1.8" fill="#4472C4"/>
<circle cx="508.9" cy="76.7" r="1.8" fill="#4472C4"/>
<circle cx="440.3" cy="73.8" r="1.8" fill="#4472C4"/>
<circle cx="457.8" cy="63.8" r="1.8" fill="#4472C4"/>
<circle cx="468.4" cy="58.7" r="1.8" fill="#4472C4"/>
<circle cx="478.1" cy="54.3" r="1.8" fill="#4472C4"/>
<circle cx="487.9" cy="48.7" r="1.8" fill="#4472C4"/>
<circle cx="492.1" cy="45.2" r="1.8" fill="#4472C4"/>
<circle cx="495.9" cy="42.8" r="1.8" fill="#4472C4"/>
<circle cx="514.2" cy="33.9" r="1.8" fill="#4472C4"/>
<circle cx="515.6" cy="32.7" r="1.8" fill="#4472C4"/>
<circle cx="526.2" cy="31.3" r="1.8" fill="#4472C4"/>
<circle cx="524.7" cy="49.8" r="1.8" fill="#4472C4"/>
<circle cx="529.6" cy="40.4" r="1.8" fill="#4472C4"/>
<circle cx="473.2" cy="92.9" r="1.8" fill="#ED7D31"/>
<circle cx="518.2" cy="33.6" r="1.8" fill="#ED7D31"/>
<circle cx="505.4" cy="47.2" r="1.8" fill="#ED7D31"/>
<circle cx="504.7" cy="51.8" r="1.8" fill="#ED7D31"/>
<circle cx="527.4" cy="55.9" r="1.8" fill="#ED7D31"/>
<circle cx="500.6" cy="70.9" r="1.8" fill="#ED7D31"/>
<circle cx="482.8" cy="87.5" r="1.8" fill="#ED7D31"/>
<circle cx="473.2" cy="92.9" r="1.8" fill="#ED7D31"/>
<circle cx="508.0" cy="57.6" r="1.8" fill="#ED7D31"/>
<circle cx="519.1" cy="61.4" r="1.8" fill="#ED7D31"/>
<circle cx="521.6" cy="62.6" r="1.8" fill="#ED7D31"/>
<circle cx="512.1" cy="66.5" r="1.8" fill="#ED7D31"/>
<circle cx="439.8" cy="71.2" r="1.8" fill="#ED7D31"/>
<circle cx="442.0" cy="70.4" r="1.8" fill="#ED7D31"/>
<circle cx="444.0" cy="69.3" r="1.8" fill="#ED7D31"/>
<circle cx="446.1" cy="67.8" r="1.8" fill="#ED7D31"/>
<circle cx="467.6" cy="53.1" r="1.8" fill="#ED7D31"/>
<circle cx="474.5" cy="50.4" r="1.8" fill="#ED7D31"/>
<circle cx="504.3" cy="32.3" r="1.8" fill="#ED7D31"/>
<circle cx="510.4" cy="28.5" r="1.8" fill="#ED7D31"/>
<circle cx="517.8" cy="22.9" r="1.8" fill="#ED7D31"/>
<circle cx="527.7" cy="22.2" r="1.8" fill="#ED7D31"/>
<circle cx="528.0" cy="35.1" r="1.8" fill="#ED7D31"/>
<circle cx="524.1" cy="48.9" r="1.8" fill="#ED7D31"/>
<circle cx="527.4" cy="37.2" r="1.8" fill="#ED7D31"/>
<circle cx="524.7" cy="49.3" r="1.8" fill="#ED7D31"/>
<circle cx="522.5" cy="38.3" r="1.8" fill="#ED7D31"/>
<circle cx="407.8" cy="93.1" r="1.8" fill="#A5A5A5"/>
<circle cx="427.3" cy="84.3" r="1.8" fill="#A5A5A5"/>
<circle cx="459.8" cy="80.1" r="1.8" fill="#A5A5A5"/>
<circle cx="469.8" cy="80.5" r="1.8" fill="#A5A5A5"/>
<circle cx="511.0" cy="40.3" r="1.8" fill="#A5A5A5"/>
<circle cx="517.2" cy="43.4" r="1.8" fill="#A5A5A5"/>
<circle cx="504.2" cy="47.0" r="1.8" fill="#A5A5A5"/>
<circle cx="496.1" cy="48.3" r="1.8" fill="#A5A5A5"/>
<circle cx="487.2" cy="52.1" r="1.8" fill="#A5A5A5"/>
<circle cx="504.7" cy="56.2" r="1.8" fill="#A5A5A5"/>
<circle cx="496.5" cy="75.4" r="1.8" fill="#A5A5A5"/>
<circle cx="470.0" cy="80.5" r="1.8" fill="#A5A5A5"/>
<circle cx="521.0" cy="85.0" r="1.8" fill="#A5A5A5"/>
<circle cx="475.7" cy="89.2" r="1.8" fill="#A5A5A5"/>
<circle cx="504.4" cy="56.5" r="1.8" fill="#A5A5A5"/>
<circle cx="527.4" cy="57.6" r="1.8" fill="#A5A5A5"/>
<circle cx="513.9" cy="67.5" r="1.8" fill="#A5A5A5"/>
<circle cx="511.8" cy="71.6" r="1.8" fill="#A5A5A5"/>
<circle cx="513.4" cy="71.3" r="1.8" fill="#A5A5A5"/>
<circle cx="508.2" cy="73.5" r="1.8" fill="#A5A5A5"/>
<circle cx="436.0" cy="73.4" r="1.8" fill="#A5A5A5"/>
<circle cx="437.6" cy="72.4" r="1.8" fill="#A5A5A5"/>
<circle cx="453.6" cy="61.4" r="1.8" fill="#A5A5A5"/>
<circle cx="457.6" cy="59.0" r="1.8" fill="#A5A5A5"/>
<circle cx="460.3" cy="57.7" r="1.8" fill="#A5A5A5"/>
<circle cx="472.4" cy="51.6" r="1.8" fill="#A5A5A5"/>
<circle cx="474.1" cy="55.8" r="1.8" fill="#A5A5A5"/>
<circle cx="483.6" cy="51.4" r="1.8" fill="#A5A5A5"/>
<circle cx="490.5" cy="40.3" r="1.8" fill="#A5A5A5"/>
<circle cx="492.3" cy="38.9" r="1.8" fill="#A5A5A5"/>
<circle cx="495.8" cy="35.5" r="1.8" fill="#A5A5A5"/>
<circle cx="501.9" cy="33.4" r="1.8" fill="#A5A5A5"/>
<circle cx="514.4" cy="25.6" r="1.8" fill="#A5A5A5"/>
<circle cx="519.6" cy="31.4" r="1.8" fill="#A5A5A5"/>
<circle cx="522.0" cy="31.6" r="1.8" fill="#A5A5A5"/>
<circle cx="525.8" cy="22.4" r="1.8" fill="#A5A5A5"/>
<circle cx="526.8" cy="47.4" r="1.8" fill="#A5A5A5"/>
<circle cx="524.4" cy="40.3" r="1.8" fill="#A5A5A5"/>
<circle cx="398.7" cy="77.5" r="1.8" fill="#FFC000"/>
<circle cx="414.6" cy="84.6" r="1.8" fill="#FFC000"/>
<circle cx="413.4" cy="84.9" r="1.8" fill="#FFC000"/>
<circle cx="470.7" cy="75.7" r="1.8" fill="#FFC000"/>
<circle cx="466.0" cy="88.8" r="1.8" fill="#FFC000"/>
<circle cx="494.2" cy="29.4" r="1.8" fill="#FFC000"/>
<circle cx="494.2" cy="31.8" r="1.8" fill="#FFC000"/>
<circle cx="492.0" cy="38.3" r="1.8" fill="#FFC000"/>
<circle cx="524.8" cy="29.4" r="1.8" fill="#FFC000"/>
<circle cx="511.0" cy="38.3" r="1.8" fill="#FFC000"/>
<circle cx="524.2" cy="44.4" r="1.8" fill="#FFC000"/>
<circle cx="528.0" cy="41.9" r="1.8" fill="#FFC000"/>
<circle cx="514.6" cy="57.2" r="1.8" fill="#FFC000"/>
<circle cx="522.9" cy="56.9" r="1.8" fill="#FFC000"/>
<circle cx="482.8" cy="55.9" r="1.8" fill="#FFC000"/>
<circle cx="475.1" cy="57.8" r="1.8" fill="#FFC000"/>
<circle cx="500.0" cy="43.2" r="1.8" fill="#FFC000"/>
<circle cx="475.1" cy="57.6" r="1.8" fill="#FFC000"/>
<circle cx="482.8" cy="56.9" r="1.8" fill="#FFC000"/>
<circle cx="491.7" cy="60.1" r="1.8" fill="#FFC000"/>
<circle cx="481.2" cy="67.1" r="1.8" fill="#FFC000"/>
<circle cx="482.8" cy="70.9" r="1.8" fill="#FFC000"/>
<circle cx="470.6" cy="76.0" r="1.8" fill="#FFC000"/>
<circle cx="492.7" cy="82.0" r="1.8" fill="#FFC000"/>
<circle cx="500.6" cy="80.5" r="1.8" fill="#FFC000"/>
<circle cx="510.2" cy="61.4" r="1.8" fill="#FFC000"/>
<circle cx="514.6" cy="57.6" r="1.8" fill="#FFC000"/>
<circle cx="522.3" cy="57.3" r="1.8" fill="#FFC000"/>
<circle cx="524.2" cy="56.9" r="1.8" fill="#FFC000"/>
<circle cx="526.7" cy="61.4" r="1.8" fill="#FFC000"/>
<circle cx="526.1" cy="66.5" r="1.8" fill="#FFC000"/>
<circle cx="527.6" cy="66.3" r="1.8" fill="#FFC000"/>
<circle cx="508.0" cy="75.4" r="1.8" fill="#FFC000"/>
<circle cx="475.5" cy="57.7" r="1.8" fill="#FFC000"/>
<circle cx="443.0" cy="69.1" r="1.8" fill="#FFC000"/>
<circle cx="451.3" cy="66.0" r="1.8" fill="#FFC000"/>
<circle cx="438.1" cy="70.9" r="1.8" fill="#FFC000"/>
<circle cx="443.3" cy="70.3" r="1.8" fill="#FFC000"/>
<circle cx="436.5" cy="75.4" r="1.8" fill="#FFC000"/>
<circle cx="416.0" cy="81.0" r="1.8" fill="#FFC000"/>
<circle cx="421.0" cy="78.0" r="1.8" fill="#FFC000"/>
<circle cx="432.0" cy="76.0" r="1.8" fill="#FFC000"/>
<circle cx="436.0" cy="74.5" r="1.8" fill="#FFC000"/>
<circle cx="446.0" cy="67.0" r="1.8" fill="#FFC000"/>
<circle cx="455.0" cy="63.0" r="1.8" fill="#FFC000"/>
<circle cx="438.1" cy="75.1" r="1.8" fill="#FFC000"/>
<circle cx="448.3" cy="66.4" r="1.8" fill="#FFC000"/>
<circle cx="448.3" cy="70.2" r="1.8" fill="#FFC000"/>
<circle cx="453.9" cy="65.9" r="1.8" fill="#FFC000"/>
<circle cx="461.5" cy="56.5" r="1.8" fill="#FFC000"/>
<circle cx="463.7" cy="55.0" r="1.8" fill="#FFC000"/>
<circle cx="466.1" cy="59.5" r="1.8" fill="#FFC000"/>
<circle cx="479.8" cy="47.8" r="1.8" fill="#FFC000"/>
<circle cx="482.4" cy="46.2" r="1.8" fill="#FFC000"/>
<circle cx="484.1" cy="45.0" r="1.8" fill="#FFC000"/>
<circle cx="485.8" cy="44.2" r="1.8" fill="#FFC000"/>
<circle cx="493.8" cy="36.6" r="1.8" fill="#FFC000"/>
<circle cx="505.9" cy="31.4" r="1.8" fill="#FFC000"/>
<circle cx="511.7" cy="26.7" r="1.8" fill="#FFC000"/>
<circle cx="512.0" cy="34.6" r="1.8" fill="#FFC000"/>
<circle cx="516.2" cy="24.2" r="1.8" fill="#FFC000"/>
<circle cx="520.0" cy="22.6" r="1.8" fill="#FFC000"/>
<circle cx="521.6" cy="22.4" r="1.8" fill="#FFC000"/>
<circle cx="524.1" cy="22.1" r="1.8" fill="#FFC000"/>
<circle cx="529.7" cy="31.5" r="1.8" fill="#FFC000"/>
<circle cx="529.7" cy="50.2" r="1.8" fill="#FFC000"/>
<circle cx="521.7" cy="48.3" r="1.8" fill="#FFC000"/>
<circle cx="523.6" cy="42.3" r="1.8" fill="#FFC000"/>
<circle cx="405.6" cy="92.5" r="1.8" fill="#5B9BD5"/>
<circle cx="414.6" cy="88.4" r="1.8" fill="#5B9BD5"/>
<circle cx="414.0" cy="89.4" r="1.8" fill="#5B9BD5"/>
<circle cx="406.3" cy="92.6" r="1.8" fill="#5B9BD5"/>
<circle cx="422.2" cy="80.5" r="1.8" fill="#5B9BD5"/>
<circle cx="424.1" cy="79.9" r="1.8" fill="#5B9BD5"/>
<circle cx="426.7" cy="79.9" r="1.8" fill="#5B9BD5"/>
<circle cx="429.9" cy="79.9" r="1.8" fill="#5B9BD5"/>
<circle cx="431.8" cy="79.2" r="1.8" fill="#5B9BD5"/>
<circle cx="422.9" cy="84.6" r="1.8" fill="#5B9BD5"/>
<circle cx="488.9" cy="38.0" r="1.8" fill="#5B9BD5"/>
<circle cx="508.0" cy="39.5" r="1.8" fill="#5B9BD5"/>
<circle cx="508.3" cy="45.1" r="1.8" fill="#5B9BD5"/>
<circle cx="517.2" cy="47.6" r="1.8" fill="#5B9BD5"/>
<circle cx="522.3" cy="41.9" r="1.8" fill="#5B9BD5"/>
<circle cx="526.1" cy="47.0" r="1.8" fill="#5B9BD5"/>
<circle cx="528.0" cy="52.1" r="1.8" fill="#5B9BD5"/>
<circle cx="528.7" cy="36.8" r="1.8" fill="#5B9BD5"/>
<circle cx="493.6" cy="55.9" r="1.8" fill="#5B9BD5"/>
<circle cx="520.5" cy="55.9" r="1.8" fill="#5B9BD5"/>
<circle cx="480.2" cy="57.2" r="1.8" fill="#5B9BD5"/>
<circle cx="472.5" cy="56.9" r="1.8" fill="#5B9BD5"/>
<circle cx="471.0" cy="55.5" r="1.8" fill="#5B9BD5"/>
<circle cx="480.2" cy="57.6" r="1.8" fill="#5B9BD5"/>
<circle cx="493.6" cy="56.3" r="1.8" fill="#5B9BD5"/>
<circle cx="485.3" cy="67.1" r="1.8" fill="#5B9BD5"/>
<circle cx="488.5" cy="71.6" r="1.8" fill="#5B9BD5"/>
<circle cx="494.5" cy="75.4" r="1.8" fill="#5B9BD5"/>
<circle cx="481.2" cy="79.9" r="1.8" fill="#5B9BD5"/>
<circle cx="499.3" cy="79.9" r="1.8" fill="#5B9BD5"/>
<circle cx="507.0" cy="60.1" r="1.8" fill="#5B9BD5"/>
<circle cx="507.6" cy="62.6" r="1.8" fill="#5B9BD5"/>
<circle cx="516.5" cy="62.0" r="1.8" fill="#5B9BD5"/>
<circle cx="515.3" cy="65.2" r="1.8" fill="#5B9BD5"/>
<circle cx="514.0" cy="66.5" r="1.8" fill="#5B9BD5"/>
<circle cx="522.9" cy="66.5" r="1.8" fill="#5B9BD5"/>
<circle cx="514.9" cy="71.3" r="1.8" fill="#5B9BD5"/>
<circle cx="523.5" cy="38.0" r="1.8" fill="#5B9BD5"/>
<circle cx="525.0" cy="40.0" r="1.8" fill="#5B9BD5"/>
<circle cx="527.0" cy="44.0" r="1.8" fill="#5B9BD5"/>
<circle cx="529.0" cy="48.0" r="1.8" fill="#5B9BD5"/>
<circle cx="526.0" cy="50.0" r="1.8" fill="#5B9BD5"/>
<circle cx="523.0" cy="53.0" r="1.8" fill="#5B9BD5"/>
<circle cx="529.5" cy="38.5" r="1.8" fill="#5B9BD5"/>
<circle cx="418.0" cy="81.5" r="1.8" fill="#5B9BD5"/>
<circle cx="420.0" cy="80.0" r="1.8" fill="#5B9BD5"/>
<circle cx="433.0" cy="77.0" r="1.8" fill="#5B9BD5"/>
<circle cx="435.0" cy="76.0" r="1.8" fill="#5B9BD5"/>
<circle cx="424.0" cy="78.5" r="1.8" fill="#5B9BD5"/>
<circle cx="428.0" cy="78.0" r="1.8" fill="#5B9BD5"/>
<circle cx="413.5" cy="85.0" r="1.8" fill="#5B9BD5"/>
<circle cx="416.0" cy="83.0" r="1.8" fill="#5B9BD5"/>
<circle cx="418.5" cy="82.5" r="1.8" fill="#5B9BD5"/>
<circle cx="421.0" cy="81.0" r="1.8" fill="#5B9BD5"/>
<circle cx="424.0" cy="80.0" r="1.8" fill="#5B9BD5"/>
<circle cx="427.0" cy="79.0" r="1.8" fill="#5B9BD5"/>
<circle cx="430.0" cy="78.5" r="1.8" fill="#5B9BD5"/>
<circle cx="433.0" cy="77.0" r="1.8" fill="#5B9BD5"/>
<circle cx="432.0" cy="80.0" r="1.8" fill="#5B9BD5"/>
<circle cx="428.0" cy="81.0" r="1.8" fill="#5B9BD5"/>
<circle cx="423.0" cy="82.5" r="1.8" fill="#5B9BD5"/>
<circle cx="419.0" cy="84.0" r="1.8" fill="#5B9BD5"/>
<circle cx="415.5" cy="86.5" r="1.8" fill="#5B9BD5"/>
<circle cx="438.0" cy="73.0" r="1.8" fill="#5B9BD5"/>
<circle cx="441.0" cy="71.0" r="1.8" fill="#5B9BD5"/>
<circle cx="439.0" cy="75.5" r="1.8" fill="#5B9BD5"/>
<circle cx="435.6" cy="74.4" r="1.8" fill="#5B9BD5"/>
<circle cx="436.3" cy="75.8" r="1.8" fill="#5B9BD5"/>
<circle cx="437.7" cy="74.1" r="1.8" fill="#5B9BD5"/>
<circle cx="437.7" cy="74.5" r="1.8" fill="#5B9BD5"/>
<circle cx="439.4" cy="73.8" r="1.8" fill="#5B9BD5"/>
<circle cx="439.6" cy="74.7" r="1.8" fill="#5B9BD5"/>
<circle cx="440.4" cy="70.2" r="1.8" fill="#5B9BD5"/>
<circle cx="440.8" cy="71.8" r="1.8" fill="#5B9BD5"/>
<circle cx="442.4" cy="70.2" r="1.8" fill="#5B9BD5"/>
<circle cx="442.2" cy="71.4" r="1.8" fill="#5B9BD5"/>
<circle cx="442.3" cy="71.9" r="1.8" fill="#5B9BD5"/>
<circle cx="444.1" cy="69.6" r="1.8" fill="#5B9BD5"/>
<circle cx="444.3" cy="71.7" r="1.8" fill="#5B9BD5"/>
<circle cx="444.2" cy="72.4" r="1.8" fill="#5B9BD5"/>
<circle cx="445.5" cy="69.9" r="1.8" fill="#5B9BD5"/>
<circle cx="446.0" cy="70.9" r="1.8" fill="#5B9BD5"/>
<circle cx="445.8" cy="71.7" r="1.8" fill="#5B9BD5"/>
<circle cx="447.2" cy="68.8" r="1.8" fill="#5B9BD5"/>
<circle cx="447.2" cy="70.3" r="1.8" fill="#5B9BD5"/>
<circle cx="447.1" cy="71.1" r="1.8" fill="#5B9BD5"/>
<circle cx="448.9" cy="66.0" r="1.8" fill="#5B9BD5"/>
<circle cx="449.0" cy="67.2" r="1.8" fill="#5B9BD5"/>
<circle cx="448.6" cy="67.6" r="1.8" fill="#5B9BD5"/>
<circle cx="450.7" cy="64.5" r="1.8" fill="#5B9BD5"/>
<circle cx="450.7" cy="66.1" r="1.8" fill="#5B9BD5"/>
<circle cx="450.8" cy="67.1" r="1.8" fill="#5B9BD5"/>
<circle cx="452.1" cy="63.8" r="1.8" fill="#5B9BD5"/>
<circle cx="451.8" cy="65.1" r="1.8" fill="#5B9BD5"/>
<circle cx="452.0" cy="67.0" r="1.8" fill="#5B9BD5"/>
<circle cx="453.9" cy="63.2" r="1.8" fill="#5B9BD5"/>
<circle cx="453.9" cy="64.4" r="1.8" fill="#5B9BD5"/>
<circle cx="453.8" cy="65.4" r="1.8" fill="#5B9BD5"/>
<circle cx="455.0" cy="62.6" r="1.8" fill="#5B9BD5"/>
<circle cx="454.9" cy="63.9" r="1.8" fill="#5B9BD5"/>
<circle cx="455.5" cy="65.1" r="1.8" fill="#5B9BD5"/>
<circle cx="456.7" cy="59.2" r="1.8" fill="#5B9BD5"/>
<circle cx="456.4" cy="60.5" r="1.8" fill="#5B9BD5"/>
<circle cx="456.5" cy="62.4" r="1.8" fill="#5B9BD5"/>
<circle cx="456.5" cy="63.5" r="1.8" fill="#5B9BD5"/>
<circle cx="458.0" cy="58.2" r="1.8" fill="#5B9BD5"/>
<circle cx="458.7" cy="59.7" r="1.8" fill="#5B9BD5"/>
<circle cx="458.1" cy="61.7" r="1.8" fill="#5B9BD5"/>
<circle cx="458.3" cy="62.3" r="1.8" fill="#5B9BD5"/>
<circle cx="459.6" cy="58.7" r="1.8" fill="#5B9BD5"/>
<circle cx="460.1" cy="60.6" r="1.8" fill="#5B9BD5"/>
<circle cx="459.7" cy="61.7" r="1.8" fill="#5B9BD5"/>
<circle cx="461.8" cy="57.6" r="1.8" fill="#5B9BD5"/>
<circle cx="461.9" cy="59.3" r="1.8" fill="#5B9BD5"/>
<circle cx="461.9" cy="60.8" r="1.8" fill="#5B9BD5"/>
<circle cx="461.6" cy="61.5" r="1.8" fill="#5B9BD5"/>
<circle cx="462.9" cy="57.5" r="1.8" fill="#5B9BD5"/>
<circle cx="463.5" cy="58.9" r="1.8" fill="#5B9BD5"/>
<circle cx="463.3" cy="60.7" r="1.8" fill="#5B9BD5"/>
<circle cx="463.2" cy="61.0" r="1.8" fill="#5B9BD5"/>
<circle cx="464.9" cy="54.9" r="1.8" fill="#5B9BD5"/>
<circle cx="464.4" cy="56.6" r="1.8" fill="#5B9BD5"/>
<circle cx="464.5" cy="57.8" r="1.8" fill="#5B9BD5"/>
<circle cx="464.4" cy="58.2" r="1.8" fill="#5B9BD5"/>
<circle cx="466.4" cy="54.2" r="1.8" fill="#5B9BD5"/>
<circle cx="466.7" cy="55.8" r="1.8" fill="#5B9BD5"/>
<circle cx="466.2" cy="56.9" r="1.8" fill="#5B9BD5"/>
<circle cx="466.2" cy="58.5" r="1.8" fill="#5B9BD5"/>
<circle cx="468.2" cy="53.9" r="1.8" fill="#5B9BD5"/>
<circle cx="467.9" cy="55.7" r="1.8" fill="#5B9BD5"/>
<circle cx="467.6" cy="56.9" r="1.8" fill="#5B9BD5"/>
<circle cx="467.9" cy="58.0" r="1.8" fill="#5B9BD5"/>
<circle cx="469.3" cy="53.7" r="1.8" fill="#5B9BD5"/>
<circle cx="469.4" cy="55.3" r="1.8" fill="#5B9BD5"/>
<circle cx="469.6" cy="57.1" r="1.8" fill="#5B9BD5"/>
<circle cx="469.4" cy="57.6" r="1.8" fill="#5B9BD5"/>
<circle cx="471.6" cy="53.4" r="1.8" fill="#5B9BD5"/>
<circle cx="471.1" cy="54.9" r="1.8" fill="#5B9BD5"/>
<circle cx="471.3" cy="56.1" r="1.8" fill="#5B9BD5"/>
<circle cx="471.1" cy="57.8" r="1.8" fill="#5B9BD5"/>
<circle cx="473.0" cy="50.5" r="1.8" fill="#5B9BD5"/>
<circle cx="472.8" cy="52.6" r="1.8" fill="#5B9BD5"/>
<circle cx="472.9" cy="53.7" r="1.8" fill="#5B9BD5"/>
<circle cx="473.2" cy="54.3" r="1.8" fill="#5B9BD5"/>
<circle cx="474.1" cy="50.1" r="1.8" fill="#5B9BD5"/>
<circle cx="474.7" cy="52.0" r="1.8" fill="#5B9BD5"/>
<circle cx="474.0" cy="53.4" r="1.8" fill="#5B9BD5"/>
<circle cx="474.3" cy="54.6" r="1.8" fill="#5B9BD5"/>
<circle cx="475.7" cy="50.1" r="1.8" fill="#5B9BD5"/>
<circle cx="475.9" cy="52.2" r="1.8" fill="#5B9BD5"/>
<circle cx="475.7" cy="53.6" r="1.8" fill="#5B9BD5"/>
<circle cx="475.8" cy="54.3" r="1.8" fill="#5B9BD5"/>
<circle cx="477.8" cy="49.9" r="1.8" fill="#5B9BD5"/>
<circle cx="477.3" cy="51.3" r="1.8" fill="#5B9BD5"/>
<circle cx="477.3" cy="53.5" r="1.8" fill="#5B9BD5"/>
<circle cx="477.7" cy="54.3" r="1.8" fill="#5B9BD5"/>
<circle cx="479.3" cy="50.0" r="1.8" fill="#5B9BD5"/>
<circle cx="479.4" cy="51.4" r="1.8" fill="#5B9BD5"/>
<circle cx="479.1" cy="53.0" r="1.8" fill="#5B9BD5"/>
<circle cx="479.4" cy="53.1" r="1.8" fill="#5B9BD5"/>
<circle cx="481.2" cy="47.1" r="1.8" fill="#5B9BD5"/>
<circle cx="481.1" cy="48.7" r="1.8" fill="#5B9BD5"/>
<circle cx="480.6" cy="49.8" r="1.8" fill="#5B9BD5"/>
<circle cx="480.8" cy="50.9" r="1.8" fill="#5B9BD5"/>
<circle cx="482.7" cy="46.4" r="1.8" fill="#5B9BD5"/>
<circle cx="482.7" cy="47.6" r="1.8" fill="#5B9BD5"/>
<circle cx="482.3" cy="49.9" r="1.8" fill="#5B9BD5"/>
<circle cx="482.1" cy="50.9" r="1.8" fill="#5B9BD5"/>
<circle cx="484.3" cy="45.9" r="1.8" fill="#5B9BD5"/>
<circle cx="484.1" cy="46.9" r="1.8" fill="#5B9BD5"/>
<circle cx="483.8" cy="48.5" r="1.8" fill="#5B9BD5"/>
<circle cx="484.1" cy="50.4" r="1.8" fill="#5B9BD5"/>
<circle cx="485.3" cy="45.5" r="1.8" fill="#5B9BD5"/>
<circle cx="486.0" cy="47.3" r="1.8" fill="#5B9BD5"/>
<circle cx="485.3" cy="48.7" r="1.8" fill="#5B9BD5"/>
<circle cx="485.8" cy="50.1" r="1.8" fill="#5B9BD5"/>
<circle cx="485.9" cy="50.4" r="1.8" fill="#5B9BD5"/>
<circle cx="487.6" cy="45.1" r="1.8" fill="#5B9BD5"/>
<circle cx="487.3" cy="46.2" r="1.8" fill="#5B9BD5"/>
<circle cx="487.2" cy="47.7" r="1.8" fill="#5B9BD5"/>
<circle cx="487.3" cy="49.9" r="1.8" fill="#5B9BD5"/>
<circle cx="488.8" cy="40.9" r="1.8" fill="#5B9BD5"/>
<circle cx="489.0" cy="43.0" r="1.8" fill="#5B9BD5"/>
<circle cx="489.0" cy="44.2" r="1.8" fill="#5B9BD5"/>
<circle cx="489.2" cy="45.7" r="1.8" fill="#5B9BD5"/>
<circle cx="489.0" cy="46.5" r="1.8" fill="#5B9BD5"/>
<circle cx="490.2" cy="40.6" r="1.8" fill="#5B9BD5"/>
<circle cx="490.3" cy="42.3" r="1.8" fill="#5B9BD5"/>
<circle cx="490.8" cy="43.9" r="1.8" fill="#5B9BD5"/>
<circle cx="490.0" cy="45.3" r="1.8" fill="#5B9BD5"/>
<circle cx="490.6" cy="46.2" r="1.8" fill="#5B9BD5"/>
<circle cx="491.6" cy="39.8" r="1.8" fill="#5B9BD5"/>
<circle cx="492.2" cy="41.2" r="1.8" fill="#5B9BD5"/>
<circle cx="492.3" cy="43.0" r="1.8" fill="#5B9BD5"/>
<circle cx="491.7" cy="44.5" r="1.8" fill="#5B9BD5"/>
<circle cx="492.2" cy="44.7" r="1.8" fill="#5B9BD5"/>
<circle cx="493.4" cy="38.8" r="1.8" fill="#5B9BD5"/>
<circle cx="493.3" cy="40.3" r="1.8" fill="#5B9BD5"/>
<circle cx="493.5" cy="41.6" r="1.8" fill="#5B9BD5"/>
<circle cx="493.7" cy="43.3" r="1.8" fill="#5B9BD5"/>
<circle cx="493.4" cy="44.3" r="1.8" fill="#5B9BD5"/>
<circle cx="495.2" cy="37.4" r="1.8" fill="#5B9BD5"/>
<circle cx="495.3" cy="38.9" r="1.8" fill="#5B9BD5"/>
<circle cx="495.2" cy="40.4" r="1.8" fill="#5B9BD5"/>
<circle cx="495.1" cy="41.7" r="1.8" fill="#5B9BD5"/>
<circle cx="495.2" cy="42.3" r="1.8" fill="#5B9BD5"/>
<circle cx="496.5" cy="34.8" r="1.8" fill="#5B9BD5"/>
<circle cx="497.0" cy="36.1" r="1.8" fill="#5B9BD5"/>
<circle cx="496.9" cy="38.0" r="1.8" fill="#5B9BD5"/>
<circle cx="497.1" cy="39.1" r="1.8" fill="#5B9BD5"/>
<circle cx="496.5" cy="40.8" r="1.8" fill="#5B9BD5"/>
<circle cx="498.0" cy="34.8" r="1.8" fill="#5B9BD5"/>
<circle cx="498.8" cy="36.3" r="1.8" fill="#5B9BD5"/>
<circle cx="498.4" cy="37.9" r="1.8" fill="#5B9BD5"/>
<circle cx="498.4" cy="39.9" r="1.8" fill="#5B9BD5"/>
<circle cx="498.2" cy="40.6" r="1.8" fill="#5B9BD5"/>
<circle cx="500.3" cy="34.3" r="1.8" fill="#5B9BD5"/>
<circle cx="500.3" cy="36.1" r="1.8" fill="#5B9BD5"/>
<circle cx="500.1" cy="38.1" r="1.8" fill="#5B9BD5"/>
<circle cx="500.1" cy="39.4" r="1.8" fill="#5B9BD5"/>
<circle cx="500.3" cy="40.4" r="1.8" fill="#5B9BD5"/>
<circle cx="501.6" cy="35.0" r="1.8" fill="#5B9BD5"/>
<circle cx="501.8" cy="36.4" r="1.8" fill="#5B9BD5"/>
<circle cx="501.4" cy="37.7" r="1.8" fill="#5B9BD5"/>
<circle cx="501.6" cy="39.3" r="1.8" fill="#5B9BD5"/>
<circle cx="501.4" cy="40.9" r="1.8" fill="#5B9BD5"/>
<circle cx="503.1" cy="34.0" r="1.8" fill="#5B9BD5"/>
<circle cx="503.1" cy="35.4" r="1.8" fill="#5B9BD5"/>
<circle cx="503.2" cy="37.0" r="1.8" fill="#5B9BD5"/>
<circle cx="503.2" cy="38.7" r="1.8" fill="#5B9BD5"/>
<circle cx="503.5" cy="40.8" r="1.8" fill="#5B9BD5"/>
<circle cx="503.2" cy="41.0" r="1.8" fill="#5B9BD5"/>
<circle cx="504.5" cy="32.1" r="1.8" fill="#5B9BD5"/>
<circle cx="504.6" cy="34.0" r="1.8" fill="#5B9BD5"/>
<circle cx="504.7" cy="35.4" r="1.8" fill="#5B9BD5"/>
<circle cx="505.0" cy="36.9" r="1.8" fill="#5B9BD5"/>
<circle cx="505.0" cy="38.1" r="1.8" fill="#5B9BD5"/>
<circle cx="506.3" cy="31.5" r="1.8" fill="#5B9BD5"/>
<circle cx="506.7" cy="32.8" r="1.8" fill="#5B9BD5"/>
<circle cx="506.6" cy="34.7" r="1.8" fill="#5B9BD5"/>
<circle cx="506.6" cy="36.2" r="1.8" fill="#5B9BD5"/>
<circle cx="506.7" cy="37.9" r="1.8" fill="#5B9BD5"/>
<circle cx="506.6" cy="38.1" r="1.8" fill="#5B9BD5"/>
<circle cx="508.1" cy="30.3" r="1.8" fill="#5B9BD5"/>
<circle cx="507.9" cy="31.7" r="1.8" fill="#5B9BD5"/>
<circle cx="508.4" cy="33.5" r="1.8" fill="#5B9BD5"/>
<circle cx="508.0" cy="35.5" r="1.8" fill="#5B9BD5"/>
<circle cx="507.7" cy="37.2" r="1.8" fill="#5B9BD5"/>
<circle cx="507.7" cy="36.4" r="1.8" fill="#5B9BD5"/>
<circle cx="509.9" cy="30.0" r="1.8" fill="#5B9BD5"/>
<circle cx="509.8" cy="31.3" r="1.8" fill="#5B9BD5"/>
<circle cx="509.6" cy="32.7" r="1.8" fill="#5B9BD5"/>
<circle cx="509.9" cy="34.4" r="1.8" fill="#5B9BD5"/>
<circle cx="509.4" cy="35.9" r="1.8" fill="#5B9BD5"/>
<circle cx="511.5" cy="28.5" r="1.8" fill="#5B9BD5"/>
<circle cx="510.9" cy="30.2" r="1.8" fill="#5B9BD5"/>
<circle cx="511.0" cy="32.0" r="1.8" fill="#5B9BD5"/>
<circle cx="511.0" cy="33.5" r="1.8" fill="#5B9BD5"/>
<circle cx="511.0" cy="34.8" r="1.8" fill="#5B9BD5"/>
<circle cx="512.7" cy="26.4" r="1.8" fill="#5B9BD5"/>
<circle cx="512.4" cy="27.5" r="1.8" fill="#5B9BD5"/>
<circle cx="513.1" cy="29.4" r="1.8" fill="#5B9BD5"/>
<circle cx="513.0" cy="30.7" r="1.8" fill="#5B9BD5"/>
<circle cx="512.8" cy="32.5" r="1.8" fill="#5B9BD5"/>
<circle cx="514.5" cy="25.3" r="1.8" fill="#5B9BD5"/>
<circle cx="514.8" cy="26.9" r="1.8" fill="#5B9BD5"/>
<circle cx="514.4" cy="28.7" r="1.8" fill="#5B9BD5"/>
<circle cx="514.3" cy="30.5" r="1.8" fill="#5B9BD5"/>
<circle cx="514.5" cy="31.9" r="1.8" fill="#5B9BD5"/>
<circle cx="514.4" cy="33.0" r="1.8" fill="#5B9BD5"/>
<circle cx="516.0" cy="25.3" r="1.8" fill="#5B9BD5"/>
<circle cx="516.0" cy="26.7" r="1.8" fill="#5B9BD5"/>
<circle cx="515.7" cy="29.0" r="1.8" fill="#5B9BD5"/>
<circle cx="515.7" cy="30.6" r="1.8" fill="#5B9BD5"/>
<circle cx="516.1" cy="32.1" r="1.8" fill="#5B9BD5"/>
<circle cx="515.7" cy="32.5" r="1.8" fill="#5B9BD5"/>
<circle cx="517.3" cy="24.6" r="1.8" fill="#5B9BD5"/>
<circle cx="517.3" cy="26.0" r="1.8" fill="#5B9BD5"/>
<circle cx="517.7" cy="27.5" r="1.8" fill="#5B9BD5"/>
<circle cx="518.0" cy="29.6" r="1.8" fill="#5B9BD5"/>
<circle cx="517.2" cy="31.4" r="1.8" fill="#5B9BD5"/>
<circle cx="517.4" cy="31.8" r="1.8" fill="#5B9BD5"/>
<circle cx="519.2" cy="24.0" r="1.8" fill="#5B9BD5"/>
<circle cx="519.0" cy="26.3" r="1.8" fill="#5B9BD5"/>
<circle cx="519.5" cy="27.5" r="1.8" fill="#5B9BD5"/>
<circle cx="519.3" cy="29.4" r="1.8" fill="#5B9BD5"/>
<circle cx="518.9" cy="30.7" r="1.8" fill="#5B9BD5"/>
<circle cx="518.9" cy="31.6" r="1.8" fill="#5B9BD5"/>
<circle cx="520.4" cy="21.6" r="1.8" fill="#5B9BD5"/>
<circle cx="520.7" cy="23.5" r="1.8" fill="#5B9BD5"/>
<circle cx="521.1" cy="25.4" r="1.8" fill="#5B9BD5"/>
<circle cx="521.0" cy="26.6" r="1.8" fill="#5B9BD5"/>
<circle cx="521.1" cy="28.0" r="1.8" fill="#5B9BD5"/>
<circle cx="520.5" cy="29.8" r="1.8" fill="#5B9BD5"/>
<circle cx="522.3" cy="22.4" r="1.8" fill="#5B9BD5"/>
<circle cx="522.3" cy="24.1" r="1.8" fill="#5B9BD5"/>
<circle cx="522.3" cy="26.0" r="1.8" fill="#5B9BD5"/>
<circle cx="522.6" cy="27.5" r="1.8" fill="#5B9BD5"/>
<circle cx="522.4" cy="28.8" r="1.8" fill="#5B9BD5"/>
<circle cx="522.6" cy="30.3" r="1.8" fill="#5B9BD5"/>
<circle cx="524.2" cy="22.7" r="1.8" fill="#5B9BD5"/>
<circle cx="523.6" cy="24.2" r="1.8" fill="#5B9BD5"/>
<circle cx="523.8" cy="25.5" r="1.8" fill="#5B9BD5"/>
<circle cx="524.1" cy="27.5" r="1.8" fill="#5B9BD5"/>
<circle cx="524.1" cy="29.1" r="1.8" fill="#5B9BD5"/>
<circle cx="524.2" cy="30.5" r="1.8" fill="#5B9BD5"/>
<circle cx="523.6" cy="31.1" r="1.8" fill="#5B9BD5"/>
<circle cx="525.7" cy="23.3" r="1.8" fill="#5B9BD5"/>
<circle cx="525.4" cy="24.9" r="1.8" fill="#5B9BD5"/>
<circle cx="525.7" cy="26.9" r="1.8" fill="#5B9BD5"/>
<circle cx="525.3" cy="28.8" r="1.8" fill="#5B9BD5"/>
<circle cx="526.0" cy="30.4" r="1.8" fill="#5B9BD5"/>
<circle cx="525.6" cy="31.3" r="1.8" fill="#5B9BD5"/>
<circle cx="527.4" cy="23.5" r="1.8" fill="#5B9BD5"/>
<circle cx="527.5" cy="25.3" r="1.8" fill="#5B9BD5"/>
<circle cx="527.1" cy="26.8" r="1.8" fill="#5B9BD5"/>
<circle cx="527.4" cy="28.4" r="1.8" fill="#5B9BD5"/>
<circle cx="527.3" cy="29.8" r="1.8" fill="#5B9BD5"/>
<circle cx="527.4" cy="31.5" r="1.8" fill="#5B9BD5"/>
<circle cx="527.5" cy="31.7" r="1.8" fill="#5B9BD5"/>
<circle cx="528.7" cy="22.0" r="1.8" fill="#5B9BD5"/>
<circle cx="529.1" cy="23.3" r="1.8" fill="#5B9BD5"/>
<circle cx="529.0" cy="25.3" r="1.8" fill="#5B9BD5"/>
<circle cx="529.0" cy="26.7" r="1.8" fill="#5B9BD5"/>
<circle cx="528.8" cy="28.2" r="1.8" fill="#5B9BD5"/>
<circle cx="528.8" cy="29.5" r="1.8" fill="#5B9BD5"/>
<circle cx="443.6" cy="72.1" r="1.8" fill="#5B9BD5"/>
<circle cx="450.2" cy="64.8" r="1.8" fill="#5B9BD5"/>
<circle cx="451.9" cy="63.1" r="1.8" fill="#5B9BD5"/>
<circle cx="452.2" cy="67.1" r="1.8" fill="#5B9BD5"/>
<circle cx="456.0" cy="60.2" r="1.8" fill="#5B9BD5"/>
<circle cx="469.6" cy="52.3" r="1.8" fill="#5B9BD5"/>
<circle cx="475.6" cy="49.8" r="1.8" fill="#5B9BD5"/>
<circle cx="477.7" cy="48.5" r="1.8" fill="#5B9BD5"/>
<circle cx="486.5" cy="50.7" r="1.8" fill="#5B9BD5"/>
<circle cx="498.5" cy="35.0" r="1.8" fill="#5B9BD5"/>
<circle cx="500.4" cy="33.7" r="1.8" fill="#5B9BD5"/>
<circle cx="499.8" cy="41.3" r="1.8" fill="#5B9BD5"/>
<circle cx="508.5" cy="29.6" r="1.8" fill="#5B9BD5"/>
<circle cx="508.0" cy="37.1" r="1.8" fill="#5B9BD5"/>
<circle cx="521.7" cy="42.4" r="1.8" fill="#5B9BD5"/>
<circle cx="527.0" cy="50.4" r="1.8" fill="#5B9BD5"/>
<circle cx="526.1" cy="44.4" r="1.8" fill="#5B9BD5"/>
<circle cx="527.7" cy="41.3" r="1.8" fill="#5B9BD5"/>
<circle cx="529.3" cy="47.9" r="1.8" fill="#5B9BD5"/>
<circle cx="522.6" cy="33.8" r="1.8" fill="#5B9BD5"/>
<circle cx="523.3" cy="37.8" r="1.8" fill="#5B9BD5"/>
<circle cx="528.9" cy="39.1" r="1.8" fill="#5B9BD5"/>
<circle cx="526.1" cy="46.3" r="1.8" fill="#5B9BD5"/>
<circle cx="523.0" cy="51.6" r="1.8" fill="#5B9BD5"/>
<circle cx="521.7" cy="41.4" r="1.8" fill="#5B9BD5"/>
<circle cx="523.7" cy="39.9" r="1.8" fill="#5B9BD5"/>
<circle cx="526.6" cy="46.8" r="1.8" fill="#5B9BD5"/>
<circle cx="527.5" cy="34.8" r="1.8" fill="#5B9BD5"/>
<circle cx="521.9" cy="37.1" r="1.8" fill="#5B9BD5"/>
<circle cx="528.8" cy="34.5" r="1.8" fill="#5B9BD5"/>
<line x1="317.6" y1="9" x2="317.6" y2="106.2" stroke="#7f7f7f" stroke-width="1.4"/>
<line x1="316.90000000000003" y1="105.5" x2="538" y2="105.5" stroke="#6f6f6f" stroke-width="1.4"/>
<text x="309.70000000000005" y="108.20" text-anchor="end" class="t">1000</text>
<text x="309.70000000000005" y="97.48" text-anchor="end" class="t">1100</text>
<text x="309.70000000000005" y="86.76" text-anchor="end" class="t">1200</text>
<text x="309.70000000000005" y="76.03" text-anchor="end" class="t">1300</text>
<text x="309.70000000000005" y="65.31" text-anchor="end" class="t">1400</text>
<text x="309.70000000000005" y="54.59" text-anchor="end" class="t">1500</text>
<text x="309.70000000000005" y="43.87" text-anchor="end" class="t">1600</text>
<text x="309.70000000000005" y="33.14" text-anchor="end" class="t">1700</text>
<text x="309.70000000000005" y="22.42" text-anchor="end" class="t">1800</text>
<text x="309.70000000000005" y="11.70" text-anchor="end" class="t">1900</text>
<text x="317.60" y="119.10" text-anchor="middle" class="t">450</text>
<text x="361.68" y="119.10" text-anchor="middle" class="t">500</text>
<text x="405.76" y="119.10" text-anchor="middle" class="t">550</text>
<text x="449.84" y="119.10" text-anchor="middle" class="t">600</text>
<text x="493.92" y="119.10" text-anchor="middle" class="t">650</text>
<text x="538.00" y="119.10" text-anchor="middle" class="t">700</text>
<text x="427.80" y="131.00" text-anchor="middle" class="t">VSUM (V)</text>
<text transform="translate(287.80,58.05) rotate(-90)" text-anchor="middle" class="t">PSUM (W)</text>
<text x="322.6" y="20" class="t" style="font-size:9.05px" xml:space="preserve">PSUM = 4,6815VSUM - 1467,2</text>
<text x="320.6" y="101.10" class="lb">(B)</text>
<rect x="44.3" y="136.6" width="217.09999999999997" height="95.60000000000001" fill="#f2f2f2"/>
<circle cx="63.0" cy="198.8" r="1.8" fill="#4472C4"/>
<circle cx="92.7" cy="182.0" r="1.8" fill="#4472C4"/>
<circle cx="105.0" cy="190.7" r="1.8" fill="#4472C4"/>
<circle cx="119.8" cy="199.6" r="1.8" fill="#4472C4"/>
<circle cx="136.4" cy="221.1" r="1.8" fill="#4472C4"/>
<circle cx="136.6" cy="221.2" r="1.8" fill="#4472C4"/>
<circle cx="150.4" cy="211.0" r="1.8" fill="#4472C4"/>
<circle cx="213.1" cy="157.4" r="1.8" fill="#4472C4"/>
<circle cx="205.3" cy="161.9" r="1.8" fill="#4472C4"/>
<circle cx="221.0" cy="175.3" r="1.8" fill="#4472C4"/>
<circle cx="237.4" cy="186.5" r="1.8" fill="#4472C4"/>
<circle cx="247.4" cy="186.8" r="1.8" fill="#4472C4"/>
<circle cx="202.7" cy="191.7" r="1.8" fill="#4472C4"/>
<circle cx="247.4" cy="202.1" r="1.8" fill="#4472C4"/>
<circle cx="193.9" cy="206.9" r="1.8" fill="#4472C4"/>
<circle cx="207.6" cy="214.5" r="1.8" fill="#4472C4"/>
<circle cx="162.1" cy="199.8" r="1.8" fill="#4472C4"/>
<circle cx="172.2" cy="195.8" r="1.8" fill="#4472C4"/>
<circle cx="190.4" cy="182.7" r="1.8" fill="#4472C4"/>
<circle cx="192.0" cy="181.5" r="1.8" fill="#4472C4"/>
<circle cx="195.8" cy="178.7" r="1.8" fill="#4472C4"/>
<circle cx="199.9" cy="176.0" r="1.8" fill="#4472C4"/>
<circle cx="218.5" cy="164.0" r="1.8" fill="#4472C4"/>
<circle cx="248.3" cy="149.9" r="1.8" fill="#4472C4"/>
<circle cx="249.4" cy="173.3" r="1.8" fill="#4472C4"/>
<circle cx="246.1" cy="161.7" r="1.8" fill="#4472C4"/>
<circle cx="247.9" cy="163.5" r="1.8" fill="#4472C4"/>
<circle cx="249.9" cy="186.9" r="1.8" fill="#4472C4"/>
<circle cx="248.3" cy="184.2" r="1.8" fill="#4472C4"/>
<circle cx="139.5" cy="202.0" r="1.8" fill="#ED7D31"/>
<circle cx="131.4" cy="220.7" r="1.8" fill="#ED7D31"/>
<circle cx="140.0" cy="201.9" r="1.8" fill="#ED7D31"/>
<circle cx="159.1" cy="198.0" r="1.8" fill="#ED7D31"/>
<circle cx="170.8" cy="190.7" r="1.8" fill="#ED7D31"/>
<circle cx="199.4" cy="168.6" r="1.8" fill="#ED7D31"/>
<circle cx="183.7" cy="173.5" r="1.8" fill="#ED7D31"/>
<circle cx="241.1" cy="165.6" r="1.8" fill="#ED7D31"/>
<circle cx="236.7" cy="169.6" r="1.8" fill="#ED7D31"/>
<circle cx="223.2" cy="181.2" r="1.8" fill="#ED7D31"/>
<circle cx="231.4" cy="180.2" r="1.8" fill="#ED7D31"/>
<circle cx="199.4" cy="191.7" r="1.8" fill="#ED7D31"/>
<circle cx="217.3" cy="192.1" r="1.8" fill="#ED7D31"/>
<circle cx="190.4" cy="197.2" r="1.8" fill="#ED7D31"/>
<circle cx="248.3" cy="196.5" r="1.8" fill="#ED7D31"/>
<circle cx="223.5" cy="202.9" r="1.8" fill="#ED7D31"/>
<circle cx="223.5" cy="207.6" r="1.8" fill="#ED7D31"/>
<circle cx="215.8" cy="208.8" r="1.8" fill="#ED7D31"/>
<circle cx="247.4" cy="216.6" r="1.8" fill="#ED7D31"/>
<circle cx="177.1" cy="174.0" r="1.8" fill="#ED7D31"/>
<circle cx="184.0" cy="173.4" r="1.8" fill="#ED7D31"/>
<circle cx="199.3" cy="168.1" r="1.8" fill="#ED7D31"/>
<circle cx="199.3" cy="191.5" r="1.8" fill="#ED7D31"/>
<circle cx="190.4" cy="197.4" r="1.8" fill="#ED7D31"/>
<circle cx="162.5" cy="196.3" r="1.8" fill="#ED7D31"/>
<circle cx="182.4" cy="183.2" r="1.8" fill="#ED7D31"/>
<circle cx="194.2" cy="175.0" r="1.8" fill="#ED7D31"/>
<circle cx="201.9" cy="169.8" r="1.8" fill="#ED7D31"/>
<circle cx="209.5" cy="163.7" r="1.8" fill="#ED7D31"/>
<circle cx="211.8" cy="161.7" r="1.8" fill="#ED7D31"/>
<circle cx="213.7" cy="160.4" r="1.8" fill="#ED7D31"/>
<circle cx="220.0" cy="157.2" r="1.8" fill="#ED7D31"/>
<circle cx="225.9" cy="152.9" r="1.8" fill="#ED7D31"/>
<circle cx="236.3" cy="146.0" r="1.8" fill="#ED7D31"/>
<circle cx="248.1" cy="152.9" r="1.8" fill="#ED7D31"/>
<circle cx="249.7" cy="153.5" r="1.8" fill="#ED7D31"/>
<circle cx="246.1" cy="167.2" r="1.8" fill="#ED7D31"/>
<circle cx="130.5" cy="215.9" r="1.8" fill="#A5A5A5"/>
<circle cx="130.4" cy="216.1" r="1.8" fill="#A5A5A5"/>
<circle cx="142.4" cy="216.4" r="1.8" fill="#A5A5A5"/>
<circle cx="146.1" cy="216.4" r="1.8" fill="#A5A5A5"/>
<circle cx="158.4" cy="201.9" r="1.8" fill="#A5A5A5"/>
<circle cx="179.5" cy="196.5" r="1.8" fill="#A5A5A5"/>
<circle cx="175.8" cy="201.9" r="1.8" fill="#A5A5A5"/>
<circle cx="235.2" cy="162.6" r="1.8" fill="#A5A5A5"/>
<circle cx="236.7" cy="165.6" r="1.8" fill="#A5A5A5"/>
<circle cx="224.0" cy="186.5" r="1.8" fill="#A5A5A5"/>
<circle cx="223.5" cy="191.0" r="1.8" fill="#A5A5A5"/>
<circle cx="180.4" cy="196.6" r="1.8" fill="#A5A5A5"/>
<circle cx="238.9" cy="196.5" r="1.8" fill="#A5A5A5"/>
<circle cx="223.5" cy="206.6" r="1.8" fill="#A5A5A5"/>
<circle cx="179.9" cy="196.4" r="1.8" fill="#A5A5A5"/>
<circle cx="176.1" cy="201.7" r="1.8" fill="#A5A5A5"/>
<circle cx="247.1" cy="181.2" r="1.8" fill="#A5A5A5"/>
<circle cx="163.8" cy="194.7" r="1.8" fill="#A5A5A5"/>
<circle cx="168.4" cy="192.6" r="1.8" fill="#A5A5A5"/>
<circle cx="168.0" cy="197.7" r="1.8" fill="#A5A5A5"/>
<circle cx="170.3" cy="191.8" r="1.8" fill="#A5A5A5"/>
<circle cx="169.8" cy="197.2" r="1.8" fill="#A5A5A5"/>
<circle cx="172.0" cy="190.4" r="1.8" fill="#A5A5A5"/>
<circle cx="180.1" cy="190.5" r="1.8" fill="#A5A5A5"/>
<circle cx="207.7" cy="169.8" r="1.8" fill="#A5A5A5"/>
<circle cx="217.7" cy="158.0" r="1.8" fill="#A5A5A5"/>
<circle cx="227.7" cy="150.7" r="1.8" fill="#A5A5A5"/>
<circle cx="230.1" cy="149.6" r="1.8" fill="#A5A5A5"/>
<circle cx="235.8" cy="153.1" r="1.8" fill="#A5A5A5"/>
<circle cx="237.6" cy="144.8" r="1.8" fill="#A5A5A5"/>
<circle cx="248.1" cy="141.1" r="1.8" fill="#A5A5A5"/>
<circle cx="247.8" cy="156.3" r="1.8" fill="#A5A5A5"/>
<circle cx="248.4" cy="170.5" r="1.8" fill="#A5A5A5"/>
<circle cx="251.9" cy="166.1" r="1.8" fill="#A5A5A5"/>
<circle cx="251.9" cy="168.1" r="1.8" fill="#A5A5A5"/>
<circle cx="247.5" cy="164.8" r="1.8" fill="#A5A5A5"/>
<circle cx="123.4" cy="199.3" r="1.8" fill="#FFC000"/>
<circle cx="137.3" cy="190.9" r="1.8" fill="#FFC000"/>
<circle cx="137.6" cy="191.0" r="1.8" fill="#FFC000"/>
<circle cx="143.2" cy="211.3" r="1.8" fill="#FFC000"/>
<circle cx="146.1" cy="207.0" r="1.8" fill="#FFC000"/>
<circle cx="148.2" cy="206.2" r="1.8" fill="#FFC000"/>
<circle cx="163.1" cy="206.7" r="1.8" fill="#FFC000"/>
<circle cx="165.7" cy="206.2" r="1.8" fill="#FFC000"/>
<circle cx="162.8" cy="196.1" r="1.8" fill="#FFC000"/>
<circle cx="175.1" cy="189.5" r="1.8" fill="#FFC000"/>
<circle cx="206.1" cy="181.2" r="1.8" fill="#FFC000"/>
<circle cx="196.4" cy="185.7" r="1.8" fill="#FFC000"/>
<circle cx="249.8" cy="185.0" r="1.8" fill="#FFC000"/>
<circle cx="189.2" cy="192.1" r="1.8" fill="#FFC000"/>
<circle cx="243.4" cy="192.1" r="1.8" fill="#FFC000"/>
<circle cx="247.4" cy="192.1" r="1.8" fill="#FFC000"/>
<circle cx="203.6" cy="196.2" r="1.8" fill="#FFC000"/>
<circle cx="231.4" cy="194.7" r="1.8" fill="#FFC000"/>
<circle cx="227.7" cy="196.9" r="1.8" fill="#FFC000"/>
<circle cx="239.6" cy="196.9" r="1.8" fill="#FFC000"/>
<circle cx="195.4" cy="201.4" r="1.8" fill="#FFC000"/>
<circle cx="214.7" cy="211.8" r="1.8" fill="#FFC000"/>
<circle cx="196.2" cy="185.9" r="1.8" fill="#FFC000"/>
<circle cx="189.3" cy="192.0" r="1.8" fill="#FFC000"/>
<circle cx="195.2" cy="201.2" r="1.8" fill="#FFC000"/>
<circle cx="162.0" cy="195.6" r="1.8" fill="#FFC000"/>
<circle cx="138.0" cy="214.0" r="1.8" fill="#FFC000"/>
<circle cx="159.8" cy="196.9" r="1.8" fill="#FFC000"/>
<circle cx="165.5" cy="193.6" r="1.8" fill="#FFC000"/>
<circle cx="166.0" cy="198.5" r="1.8" fill="#FFC000"/>
<circle cx="178.4" cy="186.1" r="1.8" fill="#FFC000"/>
<circle cx="180.0" cy="185.0" r="1.8" fill="#FFC000"/>
<circle cx="183.7" cy="181.8" r="1.8" fill="#FFC000"/>
<circle cx="183.8" cy="187.4" r="1.8" fill="#FFC000"/>
<circle cx="185.5" cy="179.9" r="1.8" fill="#FFC000"/>
<circle cx="185.5" cy="185.9" r="1.8" fill="#FFC000"/>
<circle cx="189.6" cy="177.6" r="1.8" fill="#FFC000"/>
<circle cx="208.4" cy="165.0" r="1.8" fill="#FFC000"/>
<circle cx="209.5" cy="168.4" r="1.8" fill="#FFC000"/>
<circle cx="221.5" cy="162.6" r="1.8" fill="#FFC000"/>
<circle cx="223.7" cy="154.0" r="1.8" fill="#FFC000"/>
<circle cx="231.8" cy="148.0" r="1.8" fill="#FFC000"/>
<circle cx="234.4" cy="147.3" r="1.8" fill="#FFC000"/>
<circle cx="240.1" cy="142.8" r="1.8" fill="#FFC000"/>
<circle cx="247.0" cy="153.9" r="1.8" fill="#FFC000"/>
<circle cx="246.1" cy="154.1" r="1.8" fill="#FFC000"/>
<circle cx="245.9" cy="182.0" r="1.8" fill="#FFC000"/>
<circle cx="250.2" cy="166.4" r="1.8" fill="#FFC000"/>
<circle cx="248.7" cy="184.4" r="1.8" fill="#FFC000"/>
<circle cx="251.5" cy="177.4" r="1.8" fill="#FFC000"/>
<circle cx="246.1" cy="171.1" r="1.8" fill="#FFC000"/>
<circle cx="246.0" cy="177.4" r="1.8" fill="#FFC000"/>
<circle cx="247.9" cy="185.0" r="1.8" fill="#FFC000"/>
<circle cx="247.5" cy="155.8" r="1.8" fill="#FFC000"/>
<circle cx="251.4" cy="160.9" r="1.8" fill="#FFC000"/>
<circle cx="252.2" cy="175.7" r="1.8" fill="#FFC000"/>
<circle cx="97.1" cy="195.7" r="1.8" fill="#5B9BD5"/>
<circle cx="129.6" cy="220.7" r="1.8" fill="#5B9BD5"/>
<circle cx="138.6" cy="211.8" r="1.8" fill="#5B9BD5"/>
<circle cx="137.7" cy="215.4" r="1.8" fill="#5B9BD5"/>
<circle cx="130.1" cy="220.8" r="1.8" fill="#5B9BD5"/>
<circle cx="138.1" cy="216.4" r="1.8" fill="#5B9BD5"/>
<circle cx="138.8" cy="212.8" r="1.8" fill="#5B9BD5"/>
<circle cx="146.8" cy="211.0" r="1.8" fill="#5B9BD5"/>
<circle cx="152.6" cy="206.7" r="1.8" fill="#5B9BD5"/>
<circle cx="154.8" cy="206.2" r="1.8" fill="#5B9BD5"/>
<circle cx="154.8" cy="201.9" r="1.8" fill="#5B9BD5"/>
<circle cx="162.5" cy="201.6" r="1.8" fill="#5B9BD5"/>
<circle cx="165.0" cy="196.8" r="1.8" fill="#5B9BD5"/>
<circle cx="168.6" cy="196.1" r="1.8" fill="#5B9BD5"/>
<circle cx="171.5" cy="196.8" r="1.8" fill="#5B9BD5"/>
<circle cx="225.5" cy="164.1" r="1.8" fill="#5B9BD5"/>
<circle cx="238.1" cy="159.6" r="1.8" fill="#5B9BD5"/>
<circle cx="239.6" cy="158.9" r="1.8" fill="#5B9BD5"/>
<circle cx="223.2" cy="172.3" r="1.8" fill="#5B9BD5"/>
<circle cx="230.7" cy="174.5" r="1.8" fill="#5B9BD5"/>
<circle cx="237.4" cy="176.0" r="1.8" fill="#5B9BD5"/>
<circle cx="215.0" cy="180.5" r="1.8" fill="#5B9BD5"/>
<circle cx="240.4" cy="181.2" r="1.8" fill="#5B9BD5"/>
<circle cx="203.1" cy="185.4" r="1.8" fill="#5B9BD5"/>
<circle cx="211.3" cy="185.7" r="1.8" fill="#5B9BD5"/>
<circle cx="233.7" cy="186.5" r="1.8" fill="#5B9BD5"/>
<circle cx="239.6" cy="152.9" r="1.8" fill="#5B9BD5"/>
<circle cx="241.0" cy="152.9" r="1.8" fill="#5B9BD5"/>
<circle cx="203.6" cy="185.3" r="1.8" fill="#5B9BD5"/>
<circle cx="211.3" cy="185.3" r="1.8" fill="#5B9BD5"/>
<circle cx="234.0" cy="186.8" r="1.8" fill="#5B9BD5"/>
<circle cx="250.8" cy="187.2" r="1.8" fill="#5B9BD5"/>
<circle cx="188.6" cy="196.2" r="1.8" fill="#5B9BD5"/>
<circle cx="229.2" cy="196.9" r="1.8" fill="#5B9BD5"/>
<circle cx="232.9" cy="196.9" r="1.8" fill="#5B9BD5"/>
<circle cx="247.4" cy="200.2" r="1.8" fill="#5B9BD5"/>
<circle cx="216.5" cy="201.7" r="1.8" fill="#5B9BD5"/>
<circle cx="231.4" cy="201.8" r="1.8" fill="#5B9BD5"/>
<circle cx="207.6" cy="203.9" r="1.8" fill="#5B9BD5"/>
<circle cx="226.2" cy="211.8" r="1.8" fill="#5B9BD5"/>
<circle cx="219.1" cy="221.1" r="1.8" fill="#5B9BD5"/>
<circle cx="188.6" cy="195.6" r="1.8" fill="#5B9BD5"/>
<circle cx="140.5" cy="213.0" r="1.8" fill="#5B9BD5"/>
<circle cx="143.0" cy="212.0" r="1.8" fill="#5B9BD5"/>
<circle cx="150.0" cy="209.0" r="1.8" fill="#5B9BD5"/>
<circle cx="152.0" cy="210.5" r="1.8" fill="#5B9BD5"/>
<circle cx="156.0" cy="204.5" r="1.8" fill="#5B9BD5"/>
<circle cx="158.5" cy="203.0" r="1.8" fill="#5B9BD5"/>
<circle cx="160.5" cy="202.5" r="1.8" fill="#5B9BD5"/>
<circle cx="161.0" cy="199.0" r="1.8" fill="#5B9BD5"/>
<circle cx="159.9" cy="196.3" r="1.8" fill="#5B9BD5"/>
<circle cx="160.1" cy="197.5" r="1.8" fill="#5B9BD5"/>
<circle cx="159.6" cy="199.2" r="1.8" fill="#5B9BD5"/>
<circle cx="162.0" cy="195.9" r="1.8" fill="#5B9BD5"/>
<circle cx="161.9" cy="197.5" r="1.8" fill="#5B9BD5"/>
<circle cx="161.7" cy="198.3" r="1.8" fill="#5B9BD5"/>
<circle cx="163.2" cy="196.1" r="1.8" fill="#5B9BD5"/>
<circle cx="163.3" cy="197.2" r="1.8" fill="#5B9BD5"/>
<circle cx="163.4" cy="199.1" r="1.8" fill="#5B9BD5"/>
<circle cx="165.1" cy="195.3" r="1.8" fill="#5B9BD5"/>
<circle cx="165.0" cy="197.2" r="1.8" fill="#5B9BD5"/>
<circle cx="165.0" cy="198.5" r="1.8" fill="#5B9BD5"/>
<circle cx="166.4" cy="195.4" r="1.8" fill="#5B9BD5"/>
<circle cx="166.7" cy="196.3" r="1.8" fill="#5B9BD5"/>
<circle cx="166.1" cy="198.0" r="1.8" fill="#5B9BD5"/>
<circle cx="166.8" cy="198.7" r="1.8" fill="#5B9BD5"/>
<circle cx="168.0" cy="194.8" r="1.8" fill="#5B9BD5"/>
<circle cx="167.9" cy="196.6" r="1.8" fill="#5B9BD5"/>
<circle cx="168.1" cy="198.4" r="1.8" fill="#5B9BD5"/>
<circle cx="168.1" cy="198.5" r="1.8" fill="#5B9BD5"/>
<circle cx="169.7" cy="191.9" r="1.8" fill="#5B9BD5"/>
<circle cx="169.9" cy="194.1" r="1.8" fill="#5B9BD5"/>
<circle cx="169.9" cy="195.4" r="1.8" fill="#5B9BD5"/>
<circle cx="169.8" cy="195.9" r="1.8" fill="#5B9BD5"/>
<circle cx="171.0" cy="191.3" r="1.8" fill="#5B9BD5"/>
<circle cx="171.5" cy="193.7" r="1.8" fill="#5B9BD5"/>
<circle cx="170.9" cy="195.1" r="1.8" fill="#5B9BD5"/>
<circle cx="171.1" cy="195.1" r="1.8" fill="#5B9BD5"/>
<circle cx="173.1" cy="190.3" r="1.8" fill="#5B9BD5"/>
<circle cx="172.9" cy="191.9" r="1.8" fill="#5B9BD5"/>
<circle cx="173.0" cy="193.7" r="1.8" fill="#5B9BD5"/>
<circle cx="173.1" cy="195.3" r="1.8" fill="#5B9BD5"/>
<circle cx="174.2" cy="189.9" r="1.8" fill="#5B9BD5"/>
<circle cx="174.5" cy="191.5" r="1.8" fill="#5B9BD5"/>
<circle cx="174.2" cy="193.4" r="1.8" fill="#5B9BD5"/>
<circle cx="174.5" cy="194.3" r="1.8" fill="#5B9BD5"/>
<circle cx="175.9" cy="189.7" r="1.8" fill="#5B9BD5"/>
<circle cx="176.3" cy="190.8" r="1.8" fill="#5B9BD5"/>
<circle cx="176.0" cy="192.5" r="1.8" fill="#5B9BD5"/>
<circle cx="176.1" cy="194.0" r="1.8" fill="#5B9BD5"/>
<circle cx="178.0" cy="186.6" r="1.8" fill="#5B9BD5"/>
<circle cx="177.5" cy="188.4" r="1.8" fill="#5B9BD5"/>
<circle cx="177.4" cy="189.7" r="1.8" fill="#5B9BD5"/>
<circle cx="178.0" cy="190.6" r="1.8" fill="#5B9BD5"/>
<circle cx="179.1" cy="186.0" r="1.8" fill="#5B9BD5"/>
<circle cx="178.8" cy="187.6" r="1.8" fill="#5B9BD5"/>
<circle cx="179.3" cy="188.8" r="1.8" fill="#5B9BD5"/>
<circle cx="179.3" cy="189.4" r="1.8" fill="#5B9BD5"/>
<circle cx="181.0" cy="185.5" r="1.8" fill="#5B9BD5"/>
<circle cx="180.4" cy="186.5" r="1.8" fill="#5B9BD5"/>
<circle cx="180.9" cy="188.9" r="1.8" fill="#5B9BD5"/>
<circle cx="180.6" cy="189.1" r="1.8" fill="#5B9BD5"/>
<circle cx="182.3" cy="184.3" r="1.8" fill="#5B9BD5"/>
<circle cx="182.3" cy="186.1" r="1.8" fill="#5B9BD5"/>
<circle cx="182.2" cy="187.6" r="1.8" fill="#5B9BD5"/>
<circle cx="182.6" cy="188.1" r="1.8" fill="#5B9BD5"/>
<circle cx="183.8" cy="183.4" r="1.8" fill="#5B9BD5"/>
<circle cx="184.2" cy="185.1" r="1.8" fill="#5B9BD5"/>
<circle cx="183.7" cy="186.8" r="1.8" fill="#5B9BD5"/>
<circle cx="184.2" cy="187.9" r="1.8" fill="#5B9BD5"/>
<circle cx="185.9" cy="180.0" r="1.8" fill="#5B9BD5"/>
<circle cx="185.9" cy="181.4" r="1.8" fill="#5B9BD5"/>
<circle cx="185.5" cy="183.4" r="1.8" fill="#5B9BD5"/>
<circle cx="185.9" cy="184.7" r="1.8" fill="#5B9BD5"/>
<circle cx="187.2" cy="179.2" r="1.8" fill="#5B9BD5"/>
<circle cx="187.4" cy="181.3" r="1.8" fill="#5B9BD5"/>
<circle cx="186.9" cy="182.5" r="1.8" fill="#5B9BD5"/>
<circle cx="187.4" cy="183.9" r="1.8" fill="#5B9BD5"/>
<circle cx="188.5" cy="179.3" r="1.8" fill="#5B9BD5"/>
<circle cx="189.0" cy="180.9" r="1.8" fill="#5B9BD5"/>
<circle cx="188.7" cy="182.6" r="1.8" fill="#5B9BD5"/>
<circle cx="188.7" cy="183.2" r="1.8" fill="#5B9BD5"/>
<circle cx="190.0" cy="179.3" r="1.8" fill="#5B9BD5"/>
<circle cx="190.7" cy="181.0" r="1.8" fill="#5B9BD5"/>
<circle cx="190.3" cy="182.6" r="1.8" fill="#5B9BD5"/>
<circle cx="190.7" cy="182.2" r="1.8" fill="#5B9BD5"/>
<circle cx="192.1" cy="178.3" r="1.8" fill="#5B9BD5"/>
<circle cx="191.8" cy="179.8" r="1.8" fill="#5B9BD5"/>
<circle cx="191.8" cy="181.1" r="1.8" fill="#5B9BD5"/>
<circle cx="192.1" cy="182.2" r="1.8" fill="#5B9BD5"/>
<circle cx="193.9" cy="175.4" r="1.8" fill="#5B9BD5"/>
<circle cx="193.9" cy="177.2" r="1.8" fill="#5B9BD5"/>
<circle cx="193.9" cy="178.4" r="1.8" fill="#5B9BD5"/>
<circle cx="194.9" cy="174.0" r="1.8" fill="#5B9BD5"/>
<circle cx="195.3" cy="175.8" r="1.8" fill="#5B9BD5"/>
<circle cx="195.1" cy="177.7" r="1.8" fill="#5B9BD5"/>
<circle cx="195.3" cy="178.3" r="1.8" fill="#5B9BD5"/>
<circle cx="196.8" cy="174.3" r="1.8" fill="#5B9BD5"/>
<circle cx="196.7" cy="175.4" r="1.8" fill="#5B9BD5"/>
<circle cx="196.8" cy="177.5" r="1.8" fill="#5B9BD5"/>
<circle cx="196.5" cy="178.1" r="1.8" fill="#5B9BD5"/>
<circle cx="198.7" cy="173.9" r="1.8" fill="#5B9BD5"/>
<circle cx="198.5" cy="176.1" r="1.8" fill="#5B9BD5"/>
<circle cx="198.0" cy="177.1" r="1.8" fill="#5B9BD5"/>
<circle cx="199.9" cy="173.2" r="1.8" fill="#5B9BD5"/>
<circle cx="200.2" cy="174.4" r="1.8" fill="#5B9BD5"/>
<circle cx="199.6" cy="176.1" r="1.8" fill="#5B9BD5"/>
<circle cx="202.0" cy="170.1" r="1.8" fill="#5B9BD5"/>
<circle cx="201.3" cy="171.4" r="1.8" fill="#5B9BD5"/>
<circle cx="201.5" cy="172.5" r="1.8" fill="#5B9BD5"/>
<circle cx="203.3" cy="169.3" r="1.8" fill="#5B9BD5"/>
<circle cx="203.0" cy="170.8" r="1.8" fill="#5B9BD5"/>
<circle cx="202.9" cy="172.4" r="1.8" fill="#5B9BD5"/>
<circle cx="204.5" cy="168.7" r="1.8" fill="#5B9BD5"/>
<circle cx="204.7" cy="170.7" r="1.8" fill="#5B9BD5"/>
<circle cx="205.0" cy="171.4" r="1.8" fill="#5B9BD5"/>
<circle cx="206.3" cy="168.2" r="1.8" fill="#5B9BD5"/>
<circle cx="206.4" cy="170.0" r="1.8" fill="#5B9BD5"/>
<circle cx="206.3" cy="171.3" r="1.8" fill="#5B9BD5"/>
<circle cx="208.0" cy="167.3" r="1.8" fill="#5B9BD5"/>
<circle cx="207.7" cy="168.7" r="1.8" fill="#5B9BD5"/>
<circle cx="207.9" cy="170.5" r="1.8" fill="#5B9BD5"/>
<circle cx="209.9" cy="164.4" r="1.8" fill="#5B9BD5"/>
<circle cx="209.4" cy="165.8" r="1.8" fill="#5B9BD5"/>
<circle cx="209.3" cy="167.3" r="1.8" fill="#5B9BD5"/>
<circle cx="211.4" cy="163.3" r="1.8" fill="#5B9BD5"/>
<circle cx="211.4" cy="164.8" r="1.8" fill="#5B9BD5"/>
<circle cx="210.9" cy="166.4" r="1.8" fill="#5B9BD5"/>
<circle cx="210.8" cy="166.7" r="1.8" fill="#5B9BD5"/>
<circle cx="212.5" cy="162.1" r="1.8" fill="#5B9BD5"/>
<circle cx="213.1" cy="163.8" r="1.8" fill="#5B9BD5"/>
<circle cx="212.4" cy="165.9" r="1.8" fill="#5B9BD5"/>
<circle cx="212.5" cy="165.9" r="1.8" fill="#5B9BD5"/>
<circle cx="214.8" cy="161.9" r="1.8" fill="#5B9BD5"/>
<circle cx="214.6" cy="163.1" r="1.8" fill="#5B9BD5"/>
<circle cx="214.6" cy="165.0" r="1.8" fill="#5B9BD5"/>
<circle cx="214.6" cy="165.8" r="1.8" fill="#5B9BD5"/>
<circle cx="215.6" cy="161.4" r="1.8" fill="#5B9BD5"/>
<circle cx="216.1" cy="163.4" r="1.8" fill="#5B9BD5"/>
<circle cx="215.8" cy="164.4" r="1.8" fill="#5B9BD5"/>
<circle cx="215.8" cy="166.1" r="1.8" fill="#5B9BD5"/>
<circle cx="217.5" cy="158.4" r="1.8" fill="#5B9BD5"/>
<circle cx="217.5" cy="160.0" r="1.8" fill="#5B9BD5"/>
<circle cx="217.3" cy="161.7" r="1.8" fill="#5B9BD5"/>
<circle cx="218.0" cy="162.7" r="1.8" fill="#5B9BD5"/>
<circle cx="219.4" cy="158.3" r="1.8" fill="#5B9BD5"/>
<circle cx="219.3" cy="159.7" r="1.8" fill="#5B9BD5"/>
<circle cx="219.2" cy="161.4" r="1.8" fill="#5B9BD5"/>
<circle cx="219.5" cy="162.1" r="1.8" fill="#5B9BD5"/>
<circle cx="221.1" cy="157.1" r="1.8" fill="#5B9BD5"/>
<circle cx="220.8" cy="158.8" r="1.8" fill="#5B9BD5"/>
<circle cx="220.5" cy="160.1" r="1.8" fill="#5B9BD5"/>
<circle cx="220.6" cy="161.9" r="1.8" fill="#5B9BD5"/>
<circle cx="220.7" cy="162.6" r="1.8" fill="#5B9BD5"/>
<circle cx="222.2" cy="157.3" r="1.8" fill="#5B9BD5"/>
<circle cx="222.3" cy="159.1" r="1.8" fill="#5B9BD5"/>
<circle cx="222.5" cy="160.2" r="1.8" fill="#5B9BD5"/>
<circle cx="222.2" cy="161.6" r="1.8" fill="#5B9BD5"/>
<circle cx="222.4" cy="162.7" r="1.8" fill="#5B9BD5"/>
<circle cx="223.9" cy="156.2" r="1.8" fill="#5B9BD5"/>
<circle cx="223.7" cy="157.9" r="1.8" fill="#5B9BD5"/>
<circle cx="224.0" cy="159.2" r="1.8" fill="#5B9BD5"/>
<circle cx="224.0" cy="161.0" r="1.8" fill="#5B9BD5"/>
<circle cx="224.3" cy="161.8" r="1.8" fill="#5B9BD5"/>
<circle cx="225.9" cy="152.8" r="1.8" fill="#5B9BD5"/>
<circle cx="225.8" cy="154.8" r="1.8" fill="#5B9BD5"/>
<circle cx="225.6" cy="155.8" r="1.8" fill="#5B9BD5"/>
<circle cx="225.4" cy="157.8" r="1.8" fill="#5B9BD5"/>
<circle cx="225.7" cy="159.4" r="1.8" fill="#5B9BD5"/>
<circle cx="227.0" cy="152.2" r="1.8" fill="#5B9BD5"/>
<circle cx="226.9" cy="154.2" r="1.8" fill="#5B9BD5"/>
<circle cx="227.5" cy="155.9" r="1.8" fill="#5B9BD5"/>
<circle cx="227.0" cy="157.5" r="1.8" fill="#5B9BD5"/>
<circle cx="227.1" cy="158.0" r="1.8" fill="#5B9BD5"/>
<circle cx="228.5" cy="151.8" r="1.8" fill="#5B9BD5"/>
<circle cx="228.6" cy="153.0" r="1.8" fill="#5B9BD5"/>
<circle cx="228.9" cy="154.9" r="1.8" fill="#5B9BD5"/>
<circle cx="228.4" cy="156.2" r="1.8" fill="#5B9BD5"/>
<circle cx="228.7" cy="157.4" r="1.8" fill="#5B9BD5"/>
<circle cx="230.8" cy="150.3" r="1.8" fill="#5B9BD5"/>
<circle cx="230.4" cy="151.7" r="1.8" fill="#5B9BD5"/>
<circle cx="230.2" cy="153.7" r="1.8" fill="#5B9BD5"/>
<circle cx="230.1" cy="155.5" r="1.8" fill="#5B9BD5"/>
<circle cx="230.7" cy="156.5" r="1.8" fill="#5B9BD5"/>
<circle cx="230.8" cy="157.3" r="1.8" fill="#5B9BD5"/>
<circle cx="231.8" cy="150.7" r="1.8" fill="#5B9BD5"/>
<circle cx="232.1" cy="152.4" r="1.8" fill="#5B9BD5"/>
<circle cx="231.8" cy="153.9" r="1.8" fill="#5B9BD5"/>
<circle cx="232.4" cy="155.5" r="1.8" fill="#5B9BD5"/>
<circle cx="232.0" cy="156.6" r="1.8" fill="#5B9BD5"/>
<circle cx="232.0" cy="156.9" r="1.8" fill="#5B9BD5"/>
<circle cx="233.7" cy="147.2" r="1.8" fill="#5B9BD5"/>
<circle cx="233.7" cy="149.2" r="1.8" fill="#5B9BD5"/>
<circle cx="233.3" cy="151.0" r="1.8" fill="#5B9BD5"/>
<circle cx="233.7" cy="152.0" r="1.8" fill="#5B9BD5"/>
<circle cx="233.9" cy="153.4" r="1.8" fill="#5B9BD5"/>
<circle cx="235.3" cy="146.8" r="1.8" fill="#5B9BD5"/>
<circle cx="235.3" cy="148.3" r="1.8" fill="#5B9BD5"/>
<circle cx="235.0" cy="149.7" r="1.8" fill="#5B9BD5"/>
<circle cx="234.9" cy="151.7" r="1.8" fill="#5B9BD5"/>
<circle cx="235.4" cy="153.2" r="1.8" fill="#5B9BD5"/>
<circle cx="236.6" cy="146.6" r="1.8" fill="#5B9BD5"/>
<circle cx="237.1" cy="147.9" r="1.8" fill="#5B9BD5"/>
<circle cx="236.8" cy="149.7" r="1.8" fill="#5B9BD5"/>
<circle cx="237.0" cy="151.4" r="1.8" fill="#5B9BD5"/>
<circle cx="236.7" cy="152.2" r="1.8" fill="#5B9BD5"/>
<circle cx="238.3" cy="146.0" r="1.8" fill="#5B9BD5"/>
<circle cx="238.1" cy="147.2" r="1.8" fill="#5B9BD5"/>
<circle cx="238.1" cy="148.7" r="1.8" fill="#5B9BD5"/>
<circle cx="238.6" cy="150.7" r="1.8" fill="#5B9BD5"/>
<circle cx="238.1" cy="151.9" r="1.8" fill="#5B9BD5"/>
<circle cx="238.3" cy="153.0" r="1.8" fill="#5B9BD5"/>
<circle cx="240.1" cy="145.0" r="1.8" fill="#5B9BD5"/>
<circle cx="239.9" cy="146.6" r="1.8" fill="#5B9BD5"/>
<circle cx="240.0" cy="148.5" r="1.8" fill="#5B9BD5"/>
<circle cx="239.8" cy="149.8" r="1.8" fill="#5B9BD5"/>
<circle cx="240.2" cy="151.3" r="1.8" fill="#5B9BD5"/>
<circle cx="240.2" cy="153.3" r="1.8" fill="#5B9BD5"/>
<circle cx="241.6" cy="142.2" r="1.8" fill="#5B9BD5"/>
<circle cx="241.7" cy="144.2" r="1.8" fill="#5B9BD5"/>
<circle cx="241.7" cy="145.2" r="1.8" fill="#5B9BD5"/>
<circle cx="241.9" cy="147.0" r="1.8" fill="#5B9BD5"/>
<circle cx="241.7" cy="148.8" r="1.8" fill="#5B9BD5"/>
<circle cx="241.2" cy="150.4" r="1.8" fill="#5B9BD5"/>
<circle cx="241.7" cy="150.2" r="1.8" fill="#5B9BD5"/>
<circle cx="243.0" cy="142.1" r="1.8" fill="#5B9BD5"/>
<circle cx="242.8" cy="143.7" r="1.8" fill="#5B9BD5"/>
<circle cx="243.3" cy="145.2" r="1.8" fill="#5B9BD5"/>
<circle cx="243.3" cy="147.2" r="1.8" fill="#5B9BD5"/>
<circle cx="243.5" cy="148.2" r="1.8" fill="#5B9BD5"/>
<circle cx="243.4" cy="150.2" r="1.8" fill="#5B9BD5"/>
<circle cx="242.8" cy="150.0" r="1.8" fill="#5B9BD5"/>
<circle cx="244.8" cy="142.4" r="1.8" fill="#5B9BD5"/>
<circle cx="244.7" cy="144.0" r="1.8" fill="#5B9BD5"/>
<circle cx="245.0" cy="145.0" r="1.8" fill="#5B9BD5"/>
<circle cx="245.1" cy="147.0" r="1.8" fill="#5B9BD5"/>
<circle cx="245.1" cy="148.7" r="1.8" fill="#5B9BD5"/>
<circle cx="245.0" cy="149.5" r="1.8" fill="#5B9BD5"/>
<circle cx="246.7" cy="142.8" r="1.8" fill="#5B9BD5"/>
<circle cx="246.6" cy="144.5" r="1.8" fill="#5B9BD5"/>
<circle cx="246.1" cy="145.7" r="1.8" fill="#5B9BD5"/>
<circle cx="246.1" cy="147.4" r="1.8" fill="#5B9BD5"/>
<circle cx="246.1" cy="149.3" r="1.8" fill="#5B9BD5"/>
<circle cx="246.6" cy="150.4" r="1.8" fill="#5B9BD5"/>
<circle cx="247.8" cy="143.0" r="1.8" fill="#5B9BD5"/>
<circle cx="248.2" cy="144.6" r="1.8" fill="#5B9BD5"/>
<circle cx="247.7" cy="146.5" r="1.8" fill="#5B9BD5"/>
<circle cx="248.2" cy="147.7" r="1.8" fill="#5B9BD5"/>
<circle cx="247.9" cy="149.5" r="1.8" fill="#5B9BD5"/>
<circle cx="248.1" cy="150.2" r="1.8" fill="#5B9BD5"/>
<circle cx="249.8" cy="140.3" r="1.8" fill="#5B9BD5"/>
<circle cx="249.6" cy="141.9" r="1.8" fill="#5B9BD5"/>
<circle cx="249.4" cy="143.5" r="1.8" fill="#5B9BD5"/>
<circle cx="249.5" cy="145.1" r="1.8" fill="#5B9BD5"/>
<circle cx="249.2" cy="146.7" r="1.8" fill="#5B9BD5"/>
<circle cx="249.3" cy="147.8" r="1.8" fill="#5B9BD5"/>
<circle cx="251.2" cy="141.1" r="1.8" fill="#5B9BD5"/>
<circle cx="251.4" cy="142.4" r="1.8" fill="#5B9BD5"/>
<circle cx="251.1" cy="144.3" r="1.8" fill="#5B9BD5"/>
<circle cx="250.8" cy="146.3" r="1.8" fill="#5B9BD5"/>
<circle cx="251.0" cy="147.2" r="1.8" fill="#5B9BD5"/>
<circle cx="251.2" cy="147.8" r="1.8" fill="#5B9BD5"/>
<circle cx="173.9" cy="194.2" r="1.8" fill="#5B9BD5"/>
<circle cx="176.3" cy="187.7" r="1.8" fill="#5B9BD5"/>
<circle cx="188.1" cy="178.7" r="1.8" fill="#5B9BD5"/>
<circle cx="188.4" cy="184.7" r="1.8" fill="#5B9BD5"/>
<circle cx="192.0" cy="175.9" r="1.8" fill="#5B9BD5"/>
<circle cx="196.3" cy="173.6" r="1.8" fill="#5B9BD5"/>
<circle cx="198.0" cy="172.4" r="1.8" fill="#5B9BD5"/>
<circle cx="200.3" cy="171.2" r="1.8" fill="#5B9BD5"/>
<circle cx="202.4" cy="174.3" r="1.8" fill="#5B9BD5"/>
<circle cx="203.9" cy="172.8" r="1.8" fill="#5B9BD5"/>
<circle cx="206.3" cy="166.8" r="1.8" fill="#5B9BD5"/>
<circle cx="229.7" cy="157.7" r="1.8" fill="#5B9BD5"/>
<circle cx="238.2" cy="152.9" r="1.8" fill="#5B9BD5"/>
<circle cx="241.9" cy="151.5" r="1.8" fill="#5B9BD5"/>
<circle cx="243.8" cy="141.4" r="1.8" fill="#5B9BD5"/>
<circle cx="243.8" cy="150.8" r="1.8" fill="#5B9BD5"/>
<circle cx="245.7" cy="141.2" r="1.8" fill="#5B9BD5"/>
<circle cx="250.2" cy="141.0" r="1.8" fill="#5B9BD5"/>
<circle cx="250.3" cy="149.8" r="1.8" fill="#5B9BD5"/>
<circle cx="245.9" cy="180.7" r="1.8" fill="#5B9BD5"/>
<circle cx="246.0" cy="171.4" r="1.8" fill="#5B9BD5"/>
<circle cx="249.8" cy="172.0" r="1.8" fill="#5B9BD5"/>
<circle cx="249.5" cy="165.2" r="1.8" fill="#5B9BD5"/>
<circle cx="247.7" cy="180.5" r="1.8" fill="#5B9BD5"/>
<circle cx="246.3" cy="171.6" r="1.8" fill="#5B9BD5"/>
<circle cx="248.1" cy="170.7" r="1.8" fill="#5B9BD5"/>
<circle cx="247.6" cy="179.7" r="1.8" fill="#5B9BD5"/>
<circle cx="248.4" cy="178.4" r="1.8" fill="#5B9BD5"/>
<circle cx="249.5" cy="167.4" r="1.8" fill="#5B9BD5"/>
<circle cx="246.7" cy="155.1" r="1.8" fill="#5B9BD5"/>
<circle cx="247.1" cy="161.3" r="1.8" fill="#5B9BD5"/>
<circle cx="252.0" cy="156.3" r="1.8" fill="#5B9BD5"/>
<line x1="42" y1="136.6" x2="42" y2="234.6" stroke="#7f7f7f" stroke-width="1.4"/>
<line x1="41.3" y1="233.9" x2="261.4" y2="233.9" stroke="#6f6f6f" stroke-width="1.4"/>
<text x="34.1" y="236.60" text-anchor="end" class="t">750</text>
<text x="34.1" y="220.38" text-anchor="end" class="t">850</text>
<text x="34.1" y="204.17" text-anchor="end" class="t">950</text>
<text x="34.1" y="187.95" text-anchor="end" class="t">1050</text>
<text x="34.1" y="171.73" text-anchor="end" class="t">1150</text>
<text x="34.1" y="155.52" text-anchor="end" class="t">1250</text>
<text x="34.1" y="139.30" text-anchor="end" class="t">1350</text>
<text x="42.00" y="247.50" text-anchor="middle" class="t">450</text>
<text x="85.88" y="247.50" text-anchor="middle" class="t">500</text>
<text x="129.76" y="247.50" text-anchor="middle" class="t">550</text>
<text x="173.64" y="247.50" text-anchor="middle" class="t">600</text>
<text x="217.52" y="247.50" text-anchor="middle" class="t">650</text>
<text x="261.40" y="247.50" text-anchor="middle" class="t">700</text>
<text x="151.70" y="259.40" text-anchor="middle" class="t">VSUM (V)</text>
<text transform="translate(12.20,186.05) rotate(-90)" text-anchor="middle" class="t">PSUM (W)</text>
<text x="46.1" y="147" class="t" style="font-size:9.05px" xml:space="preserve">PSUM = 3,4497VSUM - 1074,4</text>
<text x="45" y="230.60" class="lb">(C)</text>
<rect x="319.8" y="136.4" width="218.7" height="95.8" fill="#f2f2f2"/>
<circle cx="335.3" cy="197.4" r="1.8" fill="#4472C4"/>
<circle cx="344.7" cy="218.9" r="1.8" fill="#4472C4"/>
<circle cx="409.4" cy="189.8" r="1.8" fill="#4472C4"/>
<circle cx="406.6" cy="208.0" r="1.8" fill="#4472C4"/>
<circle cx="475.5" cy="175.4" r="1.8" fill="#4472C4"/>
<circle cx="487.1" cy="173.2" r="1.8" fill="#4472C4"/>
<circle cx="494.8" cy="167.1" r="1.8" fill="#4472C4"/>
<circle cx="501.8" cy="162.7" r="1.8" fill="#4472C4"/>
<circle cx="509.5" cy="168.9" r="1.8" fill="#4472C4"/>
<circle cx="516.5" cy="168.1" r="1.8" fill="#4472C4"/>
<circle cx="493.3" cy="187.1" r="1.8" fill="#4472C4"/>
<circle cx="527.3" cy="151.1" r="1.8" fill="#4472C4"/>
<circle cx="494.5" cy="186.9" r="1.8" fill="#4472C4"/>
<circle cx="525.7" cy="188.1" r="1.8" fill="#4472C4"/>
<circle cx="506.0" cy="191.5" r="1.8" fill="#4472C4"/>
<circle cx="491.4" cy="200.5" r="1.8" fill="#4472C4"/>
<circle cx="419.1" cy="207.1" r="1.8" fill="#4472C4"/>
<circle cx="422.7" cy="204.6" r="1.8" fill="#4472C4"/>
<circle cx="433.2" cy="197.9" r="1.8" fill="#4472C4"/>
<circle cx="460.5" cy="182.6" r="1.8" fill="#4472C4"/>
<circle cx="466.5" cy="180.0" r="1.8" fill="#4472C4"/>
<circle cx="481.2" cy="173.4" r="1.8" fill="#4472C4"/>
<circle cx="509.2" cy="156.5" r="1.8" fill="#4472C4"/>
<circle cx="520.6" cy="152.4" r="1.8" fill="#4472C4"/>
<circle cx="528.0" cy="160.5" r="1.8" fill="#4472C4"/>
<circle cx="522.0" cy="167.5" r="1.8" fill="#4472C4"/>
<circle cx="517.1" cy="162.9" r="1.8" fill="#4472C4"/>
<circle cx="411.2" cy="160.8" r="1.8" fill="#ED7D31"/>
<circle cx="442.2" cy="186.8" r="1.8" fill="#ED7D31"/>
<circle cx="496.4" cy="150.1" r="1.8" fill="#ED7D31"/>
<circle cx="480.1" cy="158.1" r="1.8" fill="#ED7D31"/>
<circle cx="467.0" cy="166.3" r="1.8" fill="#ED7D31"/>
<circle cx="474.0" cy="168.1" r="1.8" fill="#ED7D31"/>
<circle cx="501.8" cy="170.8" r="1.8" fill="#ED7D31"/>
<circle cx="508.0" cy="165.0" r="1.8" fill="#ED7D31"/>
<circle cx="508.7" cy="166.6" r="1.8" fill="#ED7D31"/>
<circle cx="518.8" cy="153.5" r="1.8" fill="#ED7D31"/>
<circle cx="516.5" cy="175.1" r="1.8" fill="#ED7D31"/>
<circle cx="501.3" cy="182.0" r="1.8" fill="#ED7D31"/>
<circle cx="491.7" cy="181.3" r="1.8" fill="#ED7D31"/>
<circle cx="482.5" cy="187.1" r="1.8" fill="#ED7D31"/>
<circle cx="482.8" cy="187.3" r="1.8" fill="#ED7D31"/>
<circle cx="478.3" cy="190.4" r="1.8" fill="#ED7D31"/>
<circle cx="498.7" cy="191.5" r="1.8" fill="#ED7D31"/>
<circle cx="525.3" cy="191.2" r="1.8" fill="#ED7D31"/>
<circle cx="465.0" cy="208.5" r="1.8" fill="#ED7D31"/>
<circle cx="474.0" cy="212.5" r="1.8" fill="#ED7D31"/>
<circle cx="423.5" cy="200.8" r="1.8" fill="#ED7D31"/>
<circle cx="425.0" cy="199.7" r="1.8" fill="#ED7D31"/>
<circle cx="445.2" cy="187.6" r="1.8" fill="#ED7D31"/>
<circle cx="447.1" cy="186.7" r="1.8" fill="#ED7D31"/>
<circle cx="468.9" cy="175.7" r="1.8" fill="#ED7D31"/>
<circle cx="504.8" cy="152.0" r="1.8" fill="#ED7D31"/>
<circle cx="523.6" cy="158.5" r="1.8" fill="#ED7D31"/>
<circle cx="521.6" cy="157.6" r="1.8" fill="#ED7D31"/>
<circle cx="517.6" cy="182.1" r="1.8" fill="#ED7D31"/>
<circle cx="423.5" cy="178.2" r="1.8" fill="#A5A5A5"/>
<circle cx="451.0" cy="199.7" r="1.8" fill="#A5A5A5"/>
<circle cx="440.1" cy="203.9" r="1.8" fill="#A5A5A5"/>
<circle cx="418.2" cy="206.4" r="1.8" fill="#A5A5A5"/>
<circle cx="492.0" cy="170.8" r="1.8" fill="#A5A5A5"/>
<circle cx="502.6" cy="166.6" r="1.8" fill="#A5A5A5"/>
<circle cx="497.1" cy="177.4" r="1.8" fill="#A5A5A5"/>
<circle cx="493.0" cy="182.0" r="1.8" fill="#A5A5A5"/>
<circle cx="508.4" cy="185.9" r="1.8" fill="#A5A5A5"/>
<circle cx="528.0" cy="176.6" r="1.8" fill="#A5A5A5"/>
<circle cx="508.4" cy="186.2" r="1.8" fill="#A5A5A5"/>
<circle cx="484.8" cy="195.5" r="1.8" fill="#A5A5A5"/>
<circle cx="451.2" cy="200.0" r="1.8" fill="#A5A5A5"/>
<circle cx="412.8" cy="209.3" r="1.8" fill="#A5A5A5"/>
<circle cx="427.5" cy="201.6" r="1.8" fill="#A5A5A5"/>
<circle cx="431.1" cy="195.9" r="1.8" fill="#A5A5A5"/>
<circle cx="430.6" cy="199.6" r="1.8" fill="#A5A5A5"/>
<circle cx="441.2" cy="190.0" r="1.8" fill="#A5A5A5"/>
<circle cx="443.3" cy="188.7" r="1.8" fill="#A5A5A5"/>
<circle cx="448.9" cy="187.7" r="1.8" fill="#A5A5A5"/>
<circle cx="451.4" cy="184.2" r="1.8" fill="#A5A5A5"/>
<circle cx="455.3" cy="182.2" r="1.8" fill="#A5A5A5"/>
<circle cx="463.3" cy="181.7" r="1.8" fill="#A5A5A5"/>
<circle cx="473.2" cy="174.0" r="1.8" fill="#A5A5A5"/>
<circle cx="477.3" cy="171.7" r="1.8" fill="#A5A5A5"/>
<circle cx="516.8" cy="153.0" r="1.8" fill="#A5A5A5"/>
<circle cx="518.6" cy="143.7" r="1.8" fill="#A5A5A5"/>
<circle cx="523.2" cy="143.3" r="1.8" fill="#A5A5A5"/>
<circle cx="525.2" cy="152.6" r="1.8" fill="#A5A5A5"/>
<circle cx="528.7" cy="142.4" r="1.8" fill="#A5A5A5"/>
<circle cx="529.0" cy="152.7" r="1.8" fill="#A5A5A5"/>
<circle cx="530.1" cy="154.9" r="1.8" fill="#A5A5A5"/>
<circle cx="529.7" cy="171.5" r="1.8" fill="#A5A5A5"/>
<circle cx="527.7" cy="159.7" r="1.8" fill="#A5A5A5"/>
<circle cx="528.1" cy="179.4" r="1.8" fill="#A5A5A5"/>
<circle cx="530.0" cy="162.7" r="1.8" fill="#A5A5A5"/>
<circle cx="420.2" cy="182.3" r="1.8" fill="#FFC000"/>
<circle cx="407.9" cy="212.2" r="1.8" fill="#FFC000"/>
<circle cx="424.0" cy="199.7" r="1.8" fill="#FFC000"/>
<circle cx="428.2" cy="199.7" r="1.8" fill="#FFC000"/>
<circle cx="479.4" cy="153.9" r="1.8" fill="#FFC000"/>
<circle cx="491.7" cy="159.2" r="1.8" fill="#FFC000"/>
<circle cx="461.6" cy="166.9" r="1.8" fill="#FFC000"/>
<circle cx="501.0" cy="171.2" r="1.8" fill="#FFC000"/>
<circle cx="518.0" cy="158.1" r="1.8" fill="#FFC000"/>
<circle cx="518.8" cy="159.6" r="1.8" fill="#FFC000"/>
<circle cx="522.6" cy="167.4" r="1.8" fill="#FFC000"/>
<circle cx="488.6" cy="177.4" r="1.8" fill="#FFC000"/>
<circle cx="474.0" cy="185.1" r="1.8" fill="#FFC000"/>
<circle cx="476.3" cy="185.1" r="1.8" fill="#FFC000"/>
<circle cx="487.1" cy="187.1" r="1.8" fill="#FFC000"/>
<circle cx="527.3" cy="168.9" r="1.8" fill="#FFC000"/>
<circle cx="524.2" cy="175.9" r="1.8" fill="#FFC000"/>
<circle cx="523.4" cy="184.4" r="1.8" fill="#FFC000"/>
<circle cx="516.5" cy="187.5" r="1.8" fill="#FFC000"/>
<circle cx="525.7" cy="149.6" r="1.8" fill="#FFC000"/>
<circle cx="486.3" cy="186.9" r="1.8" fill="#FFC000"/>
<circle cx="516.5" cy="186.9" r="1.8" fill="#FFC000"/>
<circle cx="525.0" cy="186.5" r="1.8" fill="#FFC000"/>
<circle cx="463.1" cy="191.2" r="1.8" fill="#FFC000"/>
<circle cx="516.5" cy="191.5" r="1.8" fill="#FFC000"/>
<circle cx="474.0" cy="195.8" r="1.8" fill="#FFC000"/>
<circle cx="477.5" cy="195.8" r="1.8" fill="#FFC000"/>
<circle cx="481.7" cy="195.5" r="1.8" fill="#FFC000"/>
<circle cx="484.3" cy="198.6" r="1.8" fill="#FFC000"/>
<circle cx="462.7" cy="200.1" r="1.8" fill="#FFC000"/>
<circle cx="476.0" cy="199.7" r="1.8" fill="#FFC000"/>
<circle cx="415.1" cy="205.9" r="1.8" fill="#FFC000"/>
<circle cx="417.1" cy="204.8" r="1.8" fill="#FFC000"/>
<circle cx="425.2" cy="202.8" r="1.8" fill="#FFC000"/>
<circle cx="426.8" cy="198.5" r="1.8" fill="#FFC000"/>
<circle cx="432.9" cy="194.2" r="1.8" fill="#FFC000"/>
<circle cx="434.8" cy="193.0" r="1.8" fill="#FFC000"/>
<circle cx="434.6" cy="196.3" r="1.8" fill="#FFC000"/>
<circle cx="437.4" cy="191.6" r="1.8" fill="#FFC000"/>
<circle cx="436.6" cy="194.8" r="1.8" fill="#FFC000"/>
<circle cx="438.6" cy="190.4" r="1.8" fill="#FFC000"/>
<circle cx="447.0" cy="188.9" r="1.8" fill="#FFC000"/>
<circle cx="453.2" cy="182.7" r="1.8" fill="#FFC000"/>
<circle cx="457.0" cy="181.2" r="1.8" fill="#FFC000"/>
<circle cx="458.8" cy="180.3" r="1.8" fill="#FFC000"/>
<circle cx="465.2" cy="177.8" r="1.8" fill="#FFC000"/>
<circle cx="465.0" cy="180.8" r="1.8" fill="#FFC000"/>
<circle cx="466.5" cy="176.7" r="1.8" fill="#FFC000"/>
<circle cx="471.1" cy="174.7" r="1.8" fill="#FFC000"/>
<circle cx="475.4" cy="172.8" r="1.8" fill="#FFC000"/>
<circle cx="476.9" cy="175.6" r="1.8" fill="#FFC000"/>
<circle cx="481.1" cy="169.0" r="1.8" fill="#FFC000"/>
<circle cx="486.9" cy="165.6" r="1.8" fill="#FFC000"/>
<circle cx="489.4" cy="164.1" r="1.8" fill="#FFC000"/>
<circle cx="490.8" cy="167.9" r="1.8" fill="#FFC000"/>
<circle cx="494.9" cy="159.6" r="1.8" fill="#FFC000"/>
<circle cx="497.2" cy="158.4" r="1.8" fill="#FFC000"/>
<circle cx="498.7" cy="156.9" r="1.8" fill="#FFC000"/>
<circle cx="502.9" cy="153.6" r="1.8" fill="#FFC000"/>
<circle cx="509.0" cy="149.5" r="1.8" fill="#FFC000"/>
<circle cx="510.7" cy="147.7" r="1.8" fill="#FFC000"/>
<circle cx="512.5" cy="146.3" r="1.8" fill="#FFC000"/>
<circle cx="514.8" cy="145.3" r="1.8" fill="#FFC000"/>
<circle cx="517.3" cy="144.3" r="1.8" fill="#FFC000"/>
<circle cx="520.9" cy="143.2" r="1.8" fill="#FFC000"/>
<circle cx="522.9" cy="152.4" r="1.8" fill="#FFC000"/>
<circle cx="525.1" cy="142.7" r="1.8" fill="#FFC000"/>
<circle cx="523.2" cy="177.4" r="1.8" fill="#FFC000"/>
<circle cx="528.4" cy="185.2" r="1.8" fill="#FFC000"/>
<circle cx="527.8" cy="155.0" r="1.8" fill="#FFC000"/>
<circle cx="523.3" cy="183.3" r="1.8" fill="#FFC000"/>
<circle cx="525.9" cy="185.6" r="1.8" fill="#FFC000"/>
<circle cx="527.9" cy="156.2" r="1.8" fill="#FFC000"/>
<circle cx="530.4" cy="158.9" r="1.8" fill="#FFC000"/>
<circle cx="514.2" cy="165.5" r="1.8" fill="#FFC000"/>
<circle cx="519.5" cy="168.0" r="1.8" fill="#FFC000"/>
<circle cx="448.9" cy="208.3" r="1.8" fill="#5B9BD5"/>
<circle cx="452.2" cy="208.8" r="1.8" fill="#5B9BD5"/>
<circle cx="406.9" cy="210.5" r="1.8" fill="#5B9BD5"/>
<circle cx="414.9" cy="207.2" r="1.8" fill="#5B9BD5"/>
<circle cx="423.2" cy="203.9" r="1.8" fill="#5B9BD5"/>
<circle cx="430.6" cy="198.1" r="1.8" fill="#5B9BD5"/>
<circle cx="434.0" cy="194.8" r="1.8" fill="#5B9BD5"/>
<circle cx="459.0" cy="173.2" r="1.8" fill="#5B9BD5"/>
<circle cx="478.0" cy="173.0" r="1.8" fill="#5B9BD5"/>
<circle cx="500.2" cy="168.1" r="1.8" fill="#5B9BD5"/>
<circle cx="506.4" cy="172.3" r="1.8" fill="#5B9BD5"/>
<circle cx="513.4" cy="158.1" r="1.8" fill="#5B9BD5"/>
<circle cx="516.5" cy="163.5" r="1.8" fill="#5B9BD5"/>
<circle cx="514.9" cy="176.6" r="1.8" fill="#5B9BD5"/>
<circle cx="499.5" cy="181.3" r="1.8" fill="#5B9BD5"/>
<circle cx="491.7" cy="184.4" r="1.8" fill="#5B9BD5"/>
<circle cx="516.5" cy="182.8" r="1.8" fill="#5B9BD5"/>
<circle cx="519.6" cy="182.8" r="1.8" fill="#5B9BD5"/>
<circle cx="524.2" cy="172.0" r="1.8" fill="#5B9BD5"/>
<circle cx="528.0" cy="172.0" r="1.8" fill="#5B9BD5"/>
<circle cx="527.3" cy="179.7" r="1.8" fill="#5B9BD5"/>
<circle cx="525.7" cy="187.5" r="1.8" fill="#5B9BD5"/>
<circle cx="522.6" cy="188.2" r="1.8" fill="#5B9BD5"/>
<circle cx="528.8" cy="162.7" r="1.8" fill="#5B9BD5"/>
<circle cx="521.1" cy="186.9" r="1.8" fill="#5B9BD5"/>
<circle cx="465.9" cy="190.4" r="1.8" fill="#5B9BD5"/>
<circle cx="487.1" cy="191.2" r="1.8" fill="#5B9BD5"/>
<circle cx="498.7" cy="195.8" r="1.8" fill="#5B9BD5"/>
<circle cx="473.2" cy="200.1" r="1.8" fill="#5B9BD5"/>
<circle cx="492.5" cy="204.6" r="1.8" fill="#5B9BD5"/>
<circle cx="452.3" cy="209.3" r="1.8" fill="#5B9BD5"/>
<circle cx="408.0" cy="209.0" r="1.8" fill="#5B9BD5"/>
<circle cx="410.5" cy="208.0" r="1.8" fill="#5B9BD5"/>
<circle cx="412.0" cy="207.5" r="1.8" fill="#5B9BD5"/>
<circle cx="412.9" cy="207.6" r="1.8" fill="#5B9BD5"/>
<circle cx="412.7" cy="208.6" r="1.8" fill="#5B9BD5"/>
<circle cx="414.8" cy="207.8" r="1.8" fill="#5B9BD5"/>
<circle cx="414.6" cy="209.0" r="1.8" fill="#5B9BD5"/>
<circle cx="416.0" cy="204.6" r="1.8" fill="#5B9BD5"/>
<circle cx="416.5" cy="206.0" r="1.8" fill="#5B9BD5"/>
<circle cx="417.6" cy="204.4" r="1.8" fill="#5B9BD5"/>
<circle cx="418.0" cy="205.9" r="1.8" fill="#5B9BD5"/>
<circle cx="419.5" cy="204.0" r="1.8" fill="#5B9BD5"/>
<circle cx="419.4" cy="205.1" r="1.8" fill="#5B9BD5"/>
<circle cx="421.3" cy="203.3" r="1.8" fill="#5B9BD5"/>
<circle cx="421.0" cy="204.4" r="1.8" fill="#5B9BD5"/>
<circle cx="421.3" cy="205.0" r="1.8" fill="#5B9BD5"/>
<circle cx="422.6" cy="202.9" r="1.8" fill="#5B9BD5"/>
<circle cx="422.7" cy="204.5" r="1.8" fill="#5B9BD5"/>
<circle cx="422.3" cy="204.9" r="1.8" fill="#5B9BD5"/>
<circle cx="423.8" cy="199.9" r="1.8" fill="#5B9BD5"/>
<circle cx="424.0" cy="201.1" r="1.8" fill="#5B9BD5"/>
<circle cx="426.2" cy="198.8" r="1.8" fill="#5B9BD5"/>
<circle cx="425.7" cy="200.4" r="1.8" fill="#5B9BD5"/>
<circle cx="425.9" cy="200.7" r="1.8" fill="#5B9BD5"/>
<circle cx="427.3" cy="198.4" r="1.8" fill="#5B9BD5"/>
<circle cx="427.7" cy="199.7" r="1.8" fill="#5B9BD5"/>
<circle cx="427.0" cy="200.6" r="1.8" fill="#5B9BD5"/>
<circle cx="428.8" cy="198.1" r="1.8" fill="#5B9BD5"/>
<circle cx="428.7" cy="199.8" r="1.8" fill="#5B9BD5"/>
<circle cx="428.6" cy="200.5" r="1.8" fill="#5B9BD5"/>
<circle cx="430.8" cy="198.1" r="1.8" fill="#5B9BD5"/>
<circle cx="430.2" cy="199.2" r="1.8" fill="#5B9BD5"/>
<circle cx="431.0" cy="200.4" r="1.8" fill="#5B9BD5"/>
<circle cx="432.3" cy="194.4" r="1.8" fill="#5B9BD5"/>
<circle cx="432.0" cy="195.5" r="1.8" fill="#5B9BD5"/>
<circle cx="432.2" cy="196.7" r="1.8" fill="#5B9BD5"/>
<circle cx="433.7" cy="193.2" r="1.8" fill="#5B9BD5"/>
<circle cx="433.4" cy="194.9" r="1.8" fill="#5B9BD5"/>
<circle cx="434.0" cy="196.2" r="1.8" fill="#5B9BD5"/>
<circle cx="435.8" cy="192.9" r="1.8" fill="#5B9BD5"/>
<circle cx="435.2" cy="194.2" r="1.8" fill="#5B9BD5"/>
<circle cx="435.0" cy="194.6" r="1.8" fill="#5B9BD5"/>
<circle cx="436.6" cy="192.8" r="1.8" fill="#5B9BD5"/>
<circle cx="436.8" cy="194.6" r="1.8" fill="#5B9BD5"/>
<circle cx="438.8" cy="192.0" r="1.8" fill="#5B9BD5"/>
<circle cx="439.0" cy="193.6" r="1.8" fill="#5B9BD5"/>
<circle cx="438.4" cy="194.0" r="1.8" fill="#5B9BD5"/>
<circle cx="440.0" cy="189.5" r="1.8" fill="#5B9BD5"/>
<circle cx="440.5" cy="190.8" r="1.8" fill="#5B9BD5"/>
<circle cx="439.8" cy="190.6" r="1.8" fill="#5B9BD5"/>
<circle cx="441.6" cy="189.4" r="1.8" fill="#5B9BD5"/>
<circle cx="441.5" cy="189.7" r="1.8" fill="#5B9BD5"/>
<circle cx="443.8" cy="189.4" r="1.8" fill="#5B9BD5"/>
<circle cx="443.7" cy="190.1" r="1.8" fill="#5B9BD5"/>
<circle cx="445.0" cy="188.6" r="1.8" fill="#5B9BD5"/>
<circle cx="444.8" cy="190.1" r="1.8" fill="#5B9BD5"/>
<circle cx="446.5" cy="188.7" r="1.8" fill="#5B9BD5"/>
<circle cx="446.8" cy="189.7" r="1.8" fill="#5B9BD5"/>
<circle cx="448.3" cy="185.6" r="1.8" fill="#5B9BD5"/>
<circle cx="448.0" cy="186.6" r="1.8" fill="#5B9BD5"/>
<circle cx="450.2" cy="185.5" r="1.8" fill="#5B9BD5"/>
<circle cx="449.9" cy="185.2" r="1.8" fill="#5B9BD5"/>
<circle cx="451.8" cy="184.8" r="1.8" fill="#5B9BD5"/>
<circle cx="451.0" cy="185.0" r="1.8" fill="#5B9BD5"/>
<circle cx="453.2" cy="184.3" r="1.8" fill="#5B9BD5"/>
<circle cx="452.8" cy="184.9" r="1.8" fill="#5B9BD5"/>
<circle cx="454.9" cy="183.7" r="1.8" fill="#5B9BD5"/>
<circle cx="454.8" cy="184.9" r="1.8" fill="#5B9BD5"/>
<circle cx="456.5" cy="181.0" r="1.8" fill="#5B9BD5"/>
<circle cx="456.3" cy="182.3" r="1.8" fill="#5B9BD5"/>
<circle cx="457.8" cy="181.1" r="1.8" fill="#5B9BD5"/>
<circle cx="457.4" cy="182.1" r="1.8" fill="#5B9BD5"/>
<circle cx="459.7" cy="180.7" r="1.8" fill="#5B9BD5"/>
<circle cx="459.1" cy="182.0" r="1.8" fill="#5B9BD5"/>
<circle cx="460.6" cy="180.9" r="1.8" fill="#5B9BD5"/>
<circle cx="461.3" cy="181.7" r="1.8" fill="#5B9BD5"/>
<circle cx="462.8" cy="180.1" r="1.8" fill="#5B9BD5"/>
<circle cx="462.4" cy="181.8" r="1.8" fill="#5B9BD5"/>
<circle cx="463.9" cy="178.0" r="1.8" fill="#5B9BD5"/>
<circle cx="464.5" cy="178.8" r="1.8" fill="#5B9BD5"/>
<circle cx="466.0" cy="176.9" r="1.8" fill="#5B9BD5"/>
<circle cx="466.1" cy="178.6" r="1.8" fill="#5B9BD5"/>
<circle cx="465.6" cy="179.7" r="1.8" fill="#5B9BD5"/>
<circle cx="467.1" cy="177.4" r="1.8" fill="#5B9BD5"/>
<circle cx="467.1" cy="178.4" r="1.8" fill="#5B9BD5"/>
<circle cx="467.4" cy="179.1" r="1.8" fill="#5B9BD5"/>
<circle cx="469.2" cy="176.6" r="1.8" fill="#5B9BD5"/>
<circle cx="468.8" cy="178.6" r="1.8" fill="#5B9BD5"/>
<circle cx="469.0" cy="179.3" r="1.8" fill="#5B9BD5"/>
<circle cx="470.4" cy="176.9" r="1.8" fill="#5B9BD5"/>
<circle cx="470.5" cy="178.4" r="1.8" fill="#5B9BD5"/>
<circle cx="471.0" cy="178.3" r="1.8" fill="#5B9BD5"/>
<circle cx="472.1" cy="174.1" r="1.8" fill="#5B9BD5"/>
<circle cx="472.2" cy="175.7" r="1.8" fill="#5B9BD5"/>
<circle cx="472.0" cy="176.1" r="1.8" fill="#5B9BD5"/>
<circle cx="473.8" cy="173.3" r="1.8" fill="#5B9BD5"/>
<circle cx="474.0" cy="175.0" r="1.8" fill="#5B9BD5"/>
<circle cx="473.9" cy="175.3" r="1.8" fill="#5B9BD5"/>
<circle cx="475.6" cy="172.3" r="1.8" fill="#5B9BD5"/>
<circle cx="475.7" cy="174.1" r="1.8" fill="#5B9BD5"/>
<circle cx="475.5" cy="174.8" r="1.8" fill="#5B9BD5"/>
<circle cx="476.9" cy="173.1" r="1.8" fill="#5B9BD5"/>
<circle cx="476.7" cy="174.4" r="1.8" fill="#5B9BD5"/>
<circle cx="476.9" cy="174.5" r="1.8" fill="#5B9BD5"/>
<circle cx="479.0" cy="172.0" r="1.8" fill="#5B9BD5"/>
<circle cx="478.8" cy="173.6" r="1.8" fill="#5B9BD5"/>
<circle cx="479.0" cy="174.1" r="1.8" fill="#5B9BD5"/>
<circle cx="480.3" cy="169.6" r="1.8" fill="#5B9BD5"/>
<circle cx="480.4" cy="171.2" r="1.8" fill="#5B9BD5"/>
<circle cx="479.9" cy="172.1" r="1.8" fill="#5B9BD5"/>
<circle cx="481.9" cy="169.1" r="1.8" fill="#5B9BD5"/>
<circle cx="481.6" cy="170.8" r="1.8" fill="#5B9BD5"/>
<circle cx="481.7" cy="172.0" r="1.8" fill="#5B9BD5"/>
<circle cx="483.2" cy="168.4" r="1.8" fill="#5B9BD5"/>
<circle cx="483.3" cy="170.3" r="1.8" fill="#5B9BD5"/>
<circle cx="483.8" cy="172.0" r="1.8" fill="#5B9BD5"/>
<circle cx="485.3" cy="167.5" r="1.8" fill="#5B9BD5"/>
<circle cx="484.9" cy="168.9" r="1.8" fill="#5B9BD5"/>
<circle cx="484.7" cy="170.9" r="1.8" fill="#5B9BD5"/>
<circle cx="485.2" cy="171.3" r="1.8" fill="#5B9BD5"/>
<circle cx="486.7" cy="166.9" r="1.8" fill="#5B9BD5"/>
<circle cx="486.3" cy="169.2" r="1.8" fill="#5B9BD5"/>
<circle cx="487.0" cy="170.7" r="1.8" fill="#5B9BD5"/>
<circle cx="486.7" cy="171.3" r="1.8" fill="#5B9BD5"/>
<circle cx="488.0" cy="164.1" r="1.8" fill="#5B9BD5"/>
<circle cx="488.5" cy="165.6" r="1.8" fill="#5B9BD5"/>
<circle cx="487.9" cy="166.8" r="1.8" fill="#5B9BD5"/>
<circle cx="488.0" cy="168.2" r="1.8" fill="#5B9BD5"/>
<circle cx="489.9" cy="163.2" r="1.8" fill="#5B9BD5"/>
<circle cx="490.2" cy="164.6" r="1.8" fill="#5B9BD5"/>
<circle cx="489.8" cy="166.1" r="1.8" fill="#5B9BD5"/>
<circle cx="489.5" cy="167.3" r="1.8" fill="#5B9BD5"/>
<circle cx="491.0" cy="163.0" r="1.8" fill="#5B9BD5"/>
<circle cx="491.2" cy="164.5" r="1.8" fill="#5B9BD5"/>
<circle cx="491.6" cy="166.0" r="1.8" fill="#5B9BD5"/>
<circle cx="491.5" cy="166.9" r="1.8" fill="#5B9BD5"/>
<circle cx="493.0" cy="162.6" r="1.8" fill="#5B9BD5"/>
<circle cx="493.2" cy="164.1" r="1.8" fill="#5B9BD5"/>
<circle cx="493.0" cy="165.4" r="1.8" fill="#5B9BD5"/>
<circle cx="493.3" cy="166.5" r="1.8" fill="#5B9BD5"/>
<circle cx="494.9" cy="160.8" r="1.8" fill="#5B9BD5"/>
<circle cx="494.5" cy="162.8" r="1.8" fill="#5B9BD5"/>
<circle cx="494.9" cy="164.1" r="1.8" fill="#5B9BD5"/>
<circle cx="494.5" cy="165.3" r="1.8" fill="#5B9BD5"/>
<circle cx="495.8" cy="158.1" r="1.8" fill="#5B9BD5"/>
<circle cx="495.9" cy="159.0" r="1.8" fill="#5B9BD5"/>
<circle cx="496.5" cy="161.2" r="1.8" fill="#5B9BD5"/>
<circle cx="496.0" cy="162.6" r="1.8" fill="#5B9BD5"/>
<circle cx="496.2" cy="163.0" r="1.8" fill="#5B9BD5"/>
<circle cx="498.2" cy="157.4" r="1.8" fill="#5B9BD5"/>
<circle cx="498.1" cy="159.2" r="1.8" fill="#5B9BD5"/>
<circle cx="497.7" cy="160.7" r="1.8" fill="#5B9BD5"/>
<circle cx="498.1" cy="162.1" r="1.8" fill="#5B9BD5"/>
<circle cx="497.5" cy="162.5" r="1.8" fill="#5B9BD5"/>
<circle cx="499.5" cy="157.5" r="1.8" fill="#5B9BD5"/>
<circle cx="499.5" cy="158.5" r="1.8" fill="#5B9BD5"/>
<circle cx="499.5" cy="160.2" r="1.8" fill="#5B9BD5"/>
<circle cx="499.7" cy="161.7" r="1.8" fill="#5B9BD5"/>
<circle cx="501.1" cy="155.9" r="1.8" fill="#5B9BD5"/>
<circle cx="501.3" cy="158.0" r="1.8" fill="#5B9BD5"/>
<circle cx="501.3" cy="159.5" r="1.8" fill="#5B9BD5"/>
<circle cx="501.1" cy="161.0" r="1.8" fill="#5B9BD5"/>
<circle cx="501.1" cy="161.7" r="1.8" fill="#5B9BD5"/>
<circle cx="502.3" cy="156.2" r="1.8" fill="#5B9BD5"/>
<circle cx="502.6" cy="157.6" r="1.8" fill="#5B9BD5"/>
<circle cx="502.7" cy="159.0" r="1.8" fill="#5B9BD5"/>
<circle cx="502.4" cy="160.5" r="1.8" fill="#5B9BD5"/>
<circle cx="502.8" cy="161.2" r="1.8" fill="#5B9BD5"/>
<circle cx="504.6" cy="152.7" r="1.8" fill="#5B9BD5"/>
<circle cx="504.2" cy="153.7" r="1.8" fill="#5B9BD5"/>
<circle cx="504.5" cy="155.8" r="1.8" fill="#5B9BD5"/>
<circle cx="504.3" cy="156.9" r="1.8" fill="#5B9BD5"/>
<circle cx="504.4" cy="157.2" r="1.8" fill="#5B9BD5"/>
<circle cx="505.7" cy="151.9" r="1.8" fill="#5B9BD5"/>
<circle cx="506.0" cy="153.4" r="1.8" fill="#5B9BD5"/>
<circle cx="505.6" cy="154.7" r="1.8" fill="#5B9BD5"/>
<circle cx="505.9" cy="156.0" r="1.8" fill="#5B9BD5"/>
<circle cx="505.7" cy="157.4" r="1.8" fill="#5B9BD5"/>
<circle cx="507.2" cy="151.3" r="1.8" fill="#5B9BD5"/>
<circle cx="507.6" cy="152.9" r="1.8" fill="#5B9BD5"/>
<circle cx="507.3" cy="154.1" r="1.8" fill="#5B9BD5"/>
<circle cx="507.0" cy="156.3" r="1.8" fill="#5B9BD5"/>
<circle cx="507.7" cy="157.0" r="1.8" fill="#5B9BD5"/>
<circle cx="509.1" cy="150.7" r="1.8" fill="#5B9BD5"/>
<circle cx="508.9" cy="152.2" r="1.8" fill="#5B9BD5"/>
<circle cx="508.8" cy="153.7" r="1.8" fill="#5B9BD5"/>
<circle cx="508.6" cy="155.1" r="1.8" fill="#5B9BD5"/>
<circle cx="508.8" cy="156.6" r="1.8" fill="#5B9BD5"/>
<circle cx="510.3" cy="149.6" r="1.8" fill="#5B9BD5"/>
<circle cx="510.3" cy="150.5" r="1.8" fill="#5B9BD5"/>
<circle cx="510.4" cy="152.8" r="1.8" fill="#5B9BD5"/>
<circle cx="510.7" cy="154.3" r="1.8" fill="#5B9BD5"/>
<circle cx="510.6" cy="155.3" r="1.8" fill="#5B9BD5"/>
<circle cx="510.5" cy="156.0" r="1.8" fill="#5B9BD5"/>
<circle cx="512.0" cy="147.1" r="1.8" fill="#5B9BD5"/>
<circle cx="511.9" cy="148.8" r="1.8" fill="#5B9BD5"/>
<circle cx="512.0" cy="150.0" r="1.8" fill="#5B9BD5"/>
<circle cx="512.3" cy="151.9" r="1.8" fill="#5B9BD5"/>
<circle cx="511.9" cy="152.8" r="1.8" fill="#5B9BD5"/>
<circle cx="513.4" cy="145.9" r="1.8" fill="#5B9BD5"/>
<circle cx="513.5" cy="147.1" r="1.8" fill="#5B9BD5"/>
<circle cx="513.4" cy="148.8" r="1.8" fill="#5B9BD5"/>
<circle cx="513.7" cy="150.9" r="1.8" fill="#5B9BD5"/>
<circle cx="513.9" cy="152.0" r="1.8" fill="#5B9BD5"/>
<circle cx="514.2" cy="152.6" r="1.8" fill="#5B9BD5"/>
<circle cx="515.8" cy="145.5" r="1.8" fill="#5B9BD5"/>
<circle cx="515.8" cy="146.6" r="1.8" fill="#5B9BD5"/>
<circle cx="515.7" cy="148.7" r="1.8" fill="#5B9BD5"/>
<circle cx="515.5" cy="150.4" r="1.8" fill="#5B9BD5"/>
<circle cx="515.1" cy="151.5" r="1.8" fill="#5B9BD5"/>
<circle cx="515.1" cy="152.9" r="1.8" fill="#5B9BD5"/>
<circle cx="516.9" cy="145.5" r="1.8" fill="#5B9BD5"/>
<circle cx="517.3" cy="147.1" r="1.8" fill="#5B9BD5"/>
<circle cx="516.6" cy="148.2" r="1.8" fill="#5B9BD5"/>
<circle cx="516.8" cy="149.9" r="1.8" fill="#5B9BD5"/>
<circle cx="517.1" cy="151.5" r="1.8" fill="#5B9BD5"/>
<circle cx="517.1" cy="152.3" r="1.8" fill="#5B9BD5"/>
<circle cx="519.0" cy="144.8" r="1.8" fill="#5B9BD5"/>
<circle cx="518.5" cy="147.0" r="1.8" fill="#5B9BD5"/>
<circle cx="518.4" cy="147.9" r="1.8" fill="#5B9BD5"/>
<circle cx="518.4" cy="150.1" r="1.8" fill="#5B9BD5"/>
<circle cx="518.8" cy="151.8" r="1.8" fill="#5B9BD5"/>
<circle cx="518.6" cy="152.4" r="1.8" fill="#5B9BD5"/>
<circle cx="520.1" cy="142.4" r="1.8" fill="#5B9BD5"/>
<circle cx="520.1" cy="144.3" r="1.8" fill="#5B9BD5"/>
<circle cx="520.1" cy="145.8" r="1.8" fill="#5B9BD5"/>
<circle cx="519.9" cy="147.1" r="1.8" fill="#5B9BD5"/>
<circle cx="520.4" cy="149.3" r="1.8" fill="#5B9BD5"/>
<circle cx="520.1" cy="150.4" r="1.8" fill="#5B9BD5"/>
<circle cx="522.1" cy="143.0" r="1.8" fill="#5B9BD5"/>
<circle cx="522.2" cy="144.6" r="1.8" fill="#5B9BD5"/>
<circle cx="521.5" cy="146.3" r="1.8" fill="#5B9BD5"/>
<circle cx="521.9" cy="147.9" r="1.8" fill="#5B9BD5"/>
<circle cx="522.0" cy="149.0" r="1.8" fill="#5B9BD5"/>
<circle cx="521.7" cy="151.2" r="1.8" fill="#5B9BD5"/>
<circle cx="521.5" cy="150.7" r="1.8" fill="#5B9BD5"/>
<circle cx="523.3" cy="143.0" r="1.8" fill="#5B9BD5"/>
<circle cx="523.5" cy="144.5" r="1.8" fill="#5B9BD5"/>
<circle cx="523.3" cy="146.5" r="1.8" fill="#5B9BD5"/>
<circle cx="523.4" cy="148.3" r="1.8" fill="#5B9BD5"/>
<circle cx="523.7" cy="149.4" r="1.8" fill="#5B9BD5"/>
<circle cx="523.3" cy="151.2" r="1.8" fill="#5B9BD5"/>
<circle cx="523.4" cy="151.2" r="1.8" fill="#5B9BD5"/>
<circle cx="525.0" cy="143.8" r="1.8" fill="#5B9BD5"/>
<circle cx="525.3" cy="145.8" r="1.8" fill="#5B9BD5"/>
<circle cx="525.4" cy="147.0" r="1.8" fill="#5B9BD5"/>
<circle cx="525.2" cy="149.0" r="1.8" fill="#5B9BD5"/>
<circle cx="524.6" cy="150.7" r="1.8" fill="#5B9BD5"/>
<circle cx="525.3" cy="151.4" r="1.8" fill="#5B9BD5"/>
<circle cx="526.7" cy="144.5" r="1.8" fill="#5B9BD5"/>
<circle cx="526.4" cy="145.7" r="1.8" fill="#5B9BD5"/>
<circle cx="526.6" cy="147.9" r="1.8" fill="#5B9BD5"/>
<circle cx="526.4" cy="149.2" r="1.8" fill="#5B9BD5"/>
<circle cx="526.4" cy="151.0" r="1.8" fill="#5B9BD5"/>
<circle cx="527.0" cy="152.8" r="1.8" fill="#5B9BD5"/>
<circle cx="526.4" cy="152.7" r="1.8" fill="#5B9BD5"/>
<circle cx="528.5" cy="141.6" r="1.8" fill="#5B9BD5"/>
<circle cx="527.9" cy="142.8" r="1.8" fill="#5B9BD5"/>
<circle cx="527.9" cy="144.4" r="1.8" fill="#5B9BD5"/>
<circle cx="528.5" cy="145.9" r="1.8" fill="#5B9BD5"/>
<circle cx="528.5" cy="148.1" r="1.8" fill="#5B9BD5"/>
<circle cx="528.5" cy="149.1" r="1.8" fill="#5B9BD5"/>
<circle cx="528.5" cy="150.8" r="1.8" fill="#5B9BD5"/>
<circle cx="529.4" cy="142.8" r="1.8" fill="#5B9BD5"/>
<circle cx="529.8" cy="144.5" r="1.8" fill="#5B9BD5"/>
<circle cx="529.5" cy="146.3" r="1.8" fill="#5B9BD5"/>
<circle cx="529.9" cy="147.9" r="1.8" fill="#5B9BD5"/>
<circle cx="529.8" cy="149.4" r="1.8" fill="#5B9BD5"/>
<circle cx="530.0" cy="150.2" r="1.8" fill="#5B9BD5"/>
<circle cx="412.6" cy="206.9" r="1.8" fill="#5B9BD5"/>
<circle cx="415.3" cy="208.6" r="1.8" fill="#5B9BD5"/>
<circle cx="417.0" cy="207.5" r="1.8" fill="#5B9BD5"/>
<circle cx="419.0" cy="203.3" r="1.8" fill="#5B9BD5"/>
<circle cx="429.4" cy="197.2" r="1.8" fill="#5B9BD5"/>
<circle cx="429.4" cy="200.5" r="1.8" fill="#5B9BD5"/>
<circle cx="439.2" cy="193.7" r="1.8" fill="#5B9BD5"/>
<circle cx="449.3" cy="185.1" r="1.8" fill="#5B9BD5"/>
<circle cx="452.7" cy="185.6" r="1.8" fill="#5B9BD5"/>
<circle cx="461.3" cy="179.4" r="1.8" fill="#5B9BD5"/>
<circle cx="463.3" cy="178.7" r="1.8" fill="#5B9BD5"/>
<circle cx="473.2" cy="177.0" r="1.8" fill="#5B9BD5"/>
<circle cx="478.7" cy="170.4" r="1.8" fill="#5B9BD5"/>
<circle cx="478.9" cy="174.8" r="1.8" fill="#5B9BD5"/>
<circle cx="483.2" cy="167.7" r="1.8" fill="#5B9BD5"/>
<circle cx="491.0" cy="162.7" r="1.8" fill="#5B9BD5"/>
<circle cx="492.8" cy="161.0" r="1.8" fill="#5B9BD5"/>
<circle cx="498.5" cy="162.7" r="1.8" fill="#5B9BD5"/>
<circle cx="501.1" cy="161.9" r="1.8" fill="#5B9BD5"/>
<circle cx="512.7" cy="154.4" r="1.8" fill="#5B9BD5"/>
<circle cx="525.6" cy="167.3" r="1.8" fill="#5B9BD5"/>
<circle cx="526.0" cy="184.8" r="1.8" fill="#5B9BD5"/>
<circle cx="524.5" cy="186.1" r="1.8" fill="#5B9BD5"/>
<circle cx="530.0" cy="168.9" r="1.8" fill="#5B9BD5"/>
<circle cx="529.3" cy="187.9" r="1.8" fill="#5B9BD5"/>
<circle cx="528.4" cy="167.6" r="1.8" fill="#5B9BD5"/>
<circle cx="529.7" cy="161.6" r="1.8" fill="#5B9BD5"/>
<circle cx="528.0" cy="168.9" r="1.8" fill="#5B9BD5"/>
<circle cx="524.0" cy="181.8" r="1.8" fill="#5B9BD5"/>
<circle cx="522.7" cy="162.7" r="1.8" fill="#5B9BD5"/>
<circle cx="522.1" cy="161.2" r="1.8" fill="#5B9BD5"/>
<circle cx="526.4" cy="175.1" r="1.8" fill="#5B9BD5"/>
<circle cx="515.5" cy="167.4" r="1.8" fill="#5B9BD5"/>
<circle cx="518.1" cy="185.3" r="1.8" fill="#5B9BD5"/>
<circle cx="516.9" cy="165.5" r="1.8" fill="#5B9BD5"/>
<line x1="317.5" y1="136.4" x2="317.5" y2="234.6" stroke="#7f7f7f" stroke-width="1.4"/>
<line x1="316.8" y1="233.9" x2="538.5" y2="233.9" stroke="#6f6f6f" stroke-width="1.4"/>
<text x="309.6" y="236.60" text-anchor="end" class="t">450</text>
<text x="309.6" y="225.77" text-anchor="end" class="t">500</text>
<text x="309.6" y="214.93" text-anchor="end" class="t">550</text>
<text x="309.6" y="204.10" text-anchor="end" class="t">600</text>
<text x="309.6" y="193.27" text-anchor="end" class="t">650</text>
<text x="309.6" y="182.43" text-anchor="end" class="t">700</text>
<text x="309.6" y="171.60" text-anchor="end" class="t">750</text>
<text x="309.6" y="160.77" text-anchor="end" class="t">800</text>
<text x="309.6" y="149.93" text-anchor="end" class="t">850</text>
<text x="309.6" y="139.10" text-anchor="end" class="t">900</text>
<text x="317.50" y="247.50" text-anchor="middle" class="t">450</text>
<text x="361.70" y="247.50" text-anchor="middle" class="t">500</text>
<text x="405.90" y="247.50" text-anchor="middle" class="t">550</text>
<text x="450.10" y="247.50" text-anchor="middle" class="t">600</text>
<text x="494.30" y="247.50" text-anchor="middle" class="t">650</text>
<text x="538.50" y="247.50" text-anchor="middle" class="t">700</text>
<text x="428.00" y="259.40" text-anchor="middle" class="t">VSUM (V)</text>
<text transform="translate(291.80,185.95) rotate(-90)" text-anchor="middle" class="t">PSUM (W)</text>
<text x="323" y="147.3" class="t" style="font-size:9.05px" xml:space="preserve">PSUM = 2,3134VSUM - 729,2</text>
<text x="320.5" y="230.90" class="lb">(D)</text>
<rect x="44.8" y="267" width="220.2" height="92.60000000000001" fill="#f2f2f2"/>
<circle cx="91.5" cy="324.5" r="1.8" fill="#4472C4"/>
<circle cx="138.6" cy="297.3" r="1.8" fill="#4472C4"/>
<circle cx="148.3" cy="311.5" r="1.8" fill="#4472C4"/>
<circle cx="146.5" cy="341.4" r="1.8" fill="#4472C4"/>
<circle cx="152.0" cy="330.7" r="1.8" fill="#4472C4"/>
<circle cx="166.1" cy="336.8" r="1.8" fill="#4472C4"/>
<circle cx="167.1" cy="341.4" r="1.8" fill="#4472C4"/>
<circle cx="201.4" cy="292.2" r="1.8" fill="#4472C4"/>
<circle cx="180.5" cy="309.5" r="1.8" fill="#4472C4"/>
<circle cx="210.5" cy="308.4" r="1.8" fill="#4472C4"/>
<circle cx="233.7" cy="301.1" r="1.8" fill="#4472C4"/>
<circle cx="238.6" cy="306.2" r="1.8" fill="#4472C4"/>
<circle cx="219.2" cy="319.8" r="1.8" fill="#4472C4"/>
<circle cx="252.3" cy="316.2" r="1.8" fill="#4472C4"/>
<circle cx="168.6" cy="332.0" r="1.8" fill="#4472C4"/>
<circle cx="166.8" cy="341.1" r="1.8" fill="#4472C4"/>
<circle cx="200.5" cy="331.6" r="1.8" fill="#4472C4"/>
<circle cx="218.6" cy="320.7" r="1.8" fill="#4472C4"/>
<circle cx="226.8" cy="331.1" r="1.8" fill="#4472C4"/>
<circle cx="242.3" cy="325.1" r="1.8" fill="#4472C4"/>
<circle cx="165.5" cy="330.2" r="1.8" fill="#4472C4"/>
<circle cx="200.3" cy="313.7" r="1.8" fill="#4472C4"/>
<circle cx="227.8" cy="294.8" r="1.8" fill="#4472C4"/>
<circle cx="249.6" cy="279.1" r="1.8" fill="#4472C4"/>
<circle cx="252.9" cy="308.6" r="1.8" fill="#4472C4"/>
<circle cx="94.0" cy="323.9" r="1.8" fill="#ED7D31"/>
<circle cx="138.1" cy="345.0" r="1.8" fill="#ED7D31"/>
<circle cx="157.0" cy="331.3" r="1.8" fill="#ED7D31"/>
<circle cx="206.5" cy="293.5" r="1.8" fill="#ED7D31"/>
<circle cx="215.0" cy="311.6" r="1.8" fill="#ED7D31"/>
<circle cx="225.0" cy="306.7" r="1.8" fill="#ED7D31"/>
<circle cx="235.0" cy="292.5" r="1.8" fill="#ED7D31"/>
<circle cx="247.7" cy="301.6" r="1.8" fill="#ED7D31"/>
<circle cx="249.5" cy="291.3" r="1.8" fill="#ED7D31"/>
<circle cx="176.8" cy="332.0" r="1.8" fill="#ED7D31"/>
<circle cx="178.6" cy="332.0" r="1.8" fill="#ED7D31"/>
<circle cx="210.5" cy="336.0" r="1.8" fill="#ED7D31"/>
<circle cx="239.5" cy="328.0" r="1.8" fill="#ED7D31"/>
<circle cx="244.1" cy="346.5" r="1.8" fill="#ED7D31"/>
<circle cx="215.0" cy="312.0" r="1.8" fill="#ED7D31"/>
<circle cx="167.9" cy="326.0" r="1.8" fill="#ED7D31"/>
<circle cx="176.1" cy="321.9" r="1.8" fill="#ED7D31"/>
<circle cx="189.8" cy="313.0" r="1.8" fill="#ED7D31"/>
<circle cx="221.7" cy="290.6" r="1.8" fill="#ED7D31"/>
<circle cx="243.6" cy="276.8" r="1.8" fill="#ED7D31"/>
<circle cx="252.2" cy="274.6" r="1.8" fill="#ED7D31"/>
<circle cx="254.3" cy="274.2" r="1.8" fill="#ED7D31"/>
<circle cx="251.6" cy="310.9" r="1.8" fill="#ED7D31"/>
<circle cx="252.1" cy="315.5" r="1.8" fill="#ED7D31"/>
<circle cx="251.0" cy="282.3" r="1.8" fill="#ED7D31"/>
<circle cx="251.7" cy="295.0" r="1.8" fill="#ED7D31"/>
<circle cx="159.7" cy="326.3" r="1.8" fill="#A5A5A5"/>
<circle cx="216.8" cy="287.1" r="1.8" fill="#A5A5A5"/>
<circle cx="222.3" cy="305.3" r="1.8" fill="#A5A5A5"/>
<circle cx="245.0" cy="290.7" r="1.8" fill="#A5A5A5"/>
<circle cx="243.2" cy="296.2" r="1.8" fill="#A5A5A5"/>
<circle cx="226.8" cy="318.5" r="1.8" fill="#A5A5A5"/>
<circle cx="250.5" cy="317.1" r="1.8" fill="#A5A5A5"/>
<circle cx="185.0" cy="332.9" r="1.8" fill="#A5A5A5"/>
<circle cx="188.3" cy="326.2" r="1.8" fill="#A5A5A5"/>
<circle cx="176.8" cy="345.6" r="1.8" fill="#A5A5A5"/>
<circle cx="181.4" cy="350.5" r="1.8" fill="#A5A5A5"/>
<circle cx="210.5" cy="331.1" r="1.8" fill="#A5A5A5"/>
<circle cx="214.1" cy="335.6" r="1.8" fill="#A5A5A5"/>
<circle cx="226.8" cy="318.4" r="1.8" fill="#A5A5A5"/>
<circle cx="251.4" cy="317.5" r="1.8" fill="#A5A5A5"/>
<circle cx="254.1" cy="318.4" r="1.8" fill="#A5A5A5"/>
<circle cx="169.7" cy="328.8" r="1.8" fill="#A5A5A5"/>
<circle cx="191.8" cy="311.8" r="1.8" fill="#A5A5A5"/>
<circle cx="210.3" cy="307.9" r="1.8" fill="#A5A5A5"/>
<circle cx="212.1" cy="298.0" r="1.8" fill="#A5A5A5"/>
<circle cx="214.3" cy="304.7" r="1.8" fill="#A5A5A5"/>
<circle cx="216.4" cy="295.4" r="1.8" fill="#A5A5A5"/>
<circle cx="218.5" cy="301.8" r="1.8" fill="#A5A5A5"/>
<circle cx="219.7" cy="292.2" r="1.8" fill="#A5A5A5"/>
<circle cx="220.4" cy="300.7" r="1.8" fill="#A5A5A5"/>
<circle cx="226.1" cy="296.1" r="1.8" fill="#A5A5A5"/>
<circle cx="229.8" cy="284.5" r="1.8" fill="#A5A5A5"/>
<circle cx="232.4" cy="292.0" r="1.8" fill="#A5A5A5"/>
<circle cx="239.7" cy="278.7" r="1.8" fill="#A5A5A5"/>
<circle cx="251.9" cy="301.1" r="1.8" fill="#A5A5A5"/>
<circle cx="252.9" cy="295.4" r="1.8" fill="#A5A5A5"/>
<circle cx="253.6" cy="282.2" r="1.8" fill="#A5A5A5"/>
<circle cx="112.9" cy="329.4" r="1.8" fill="#FFC000"/>
<circle cx="168.9" cy="323.0" r="1.8" fill="#FFC000"/>
<circle cx="148.5" cy="338.0" r="1.8" fill="#FFC000"/>
<circle cx="201.4" cy="289.5" r="1.8" fill="#FFC000"/>
<circle cx="180.5" cy="299.8" r="1.8" fill="#FFC000"/>
<circle cx="245.9" cy="297.1" r="1.8" fill="#FFC000"/>
<circle cx="250.5" cy="285.3" r="1.8" fill="#FFC000"/>
<circle cx="235.0" cy="316.7" r="1.8" fill="#FFC000"/>
<circle cx="250.5" cy="310.7" r="1.8" fill="#FFC000"/>
<circle cx="183.2" cy="331.6" r="1.8" fill="#FFC000"/>
<circle cx="179.5" cy="337.1" r="1.8" fill="#FFC000"/>
<circle cx="200.5" cy="326.2" r="1.8" fill="#FFC000"/>
<circle cx="202.3" cy="337.5" r="1.8" fill="#FFC000"/>
<circle cx="199.5" cy="340.7" r="1.8" fill="#FFC000"/>
<circle cx="226.8" cy="337.1" r="1.8" fill="#FFC000"/>
<circle cx="235.9" cy="322.0" r="1.8" fill="#FFC000"/>
<circle cx="235.0" cy="316.5" r="1.8" fill="#FFC000"/>
<circle cx="234.1" cy="332.9" r="1.8" fill="#FFC000"/>
<circle cx="238.6" cy="336.5" r="1.8" fill="#FFC000"/>
<circle cx="251.4" cy="350.5" r="1.8" fill="#FFC000"/>
<circle cx="172.1" cy="323.8" r="1.8" fill="#FFC000"/>
<circle cx="177.7" cy="320.8" r="1.8" fill="#FFC000"/>
<circle cx="177.7" cy="325.4" r="1.8" fill="#FFC000"/>
<circle cx="186.4" cy="316.2" r="1.8" fill="#FFC000"/>
<circle cx="187.9" cy="314.6" r="1.8" fill="#FFC000"/>
<circle cx="192.0" cy="318.1" r="1.8" fill="#FFC000"/>
<circle cx="194.2" cy="310.1" r="1.8" fill="#FFC000"/>
<circle cx="196.1" cy="308.3" r="1.8" fill="#FFC000"/>
<circle cx="195.8" cy="316.0" r="1.8" fill="#FFC000"/>
<circle cx="197.9" cy="314.8" r="1.8" fill="#FFC000"/>
<circle cx="202.1" cy="304.9" r="1.8" fill="#FFC000"/>
<circle cx="202.4" cy="312.7" r="1.8" fill="#FFC000"/>
<circle cx="206.1" cy="302.3" r="1.8" fill="#FFC000"/>
<circle cx="206.1" cy="310.9" r="1.8" fill="#FFC000"/>
<circle cx="207.7" cy="300.7" r="1.8" fill="#FFC000"/>
<circle cx="210.1" cy="299.3" r="1.8" fill="#FFC000"/>
<circle cx="216.0" cy="303.4" r="1.8" fill="#FFC000"/>
<circle cx="217.6" cy="294.2" r="1.8" fill="#FFC000"/>
<circle cx="221.6" cy="299.0" r="1.8" fill="#FFC000"/>
<circle cx="224.2" cy="289.1" r="1.8" fill="#FFC000"/>
<circle cx="226.0" cy="287.8" r="1.8" fill="#FFC000"/>
<circle cx="231.7" cy="283.4" r="1.8" fill="#FFC000"/>
<circle cx="233.8" cy="282.1" r="1.8" fill="#FFC000"/>
<circle cx="234.5" cy="290.6" r="1.8" fill="#FFC000"/>
<circle cx="235.6" cy="280.7" r="1.8" fill="#FFC000"/>
<circle cx="238.3" cy="279.4" r="1.8" fill="#FFC000"/>
<circle cx="249.8" cy="274.6" r="1.8" fill="#FFC000"/>
<circle cx="251.9" cy="311.2" r="1.8" fill="#FFC000"/>
<circle cx="249.4" cy="288.3" r="1.8" fill="#FFC000"/>
<circle cx="251.9" cy="310.8" r="1.8" fill="#FFC000"/>
<circle cx="253.6" cy="292.6" r="1.8" fill="#FFC000"/>
<circle cx="251.7" cy="301.3" r="1.8" fill="#FFC000"/>
<circle cx="253.9" cy="285.9" r="1.8" fill="#FFC000"/>
<circle cx="254.2" cy="287.9" r="1.8" fill="#FFC000"/>
<circle cx="251.7" cy="289.1" r="1.8" fill="#FFC000"/>
<circle cx="133.1" cy="350.2" r="1.8" fill="#5B9BD5"/>
<circle cx="141.0" cy="345.0" r="1.8" fill="#5B9BD5"/>
<circle cx="141.4" cy="341.4" r="1.8" fill="#5B9BD5"/>
<circle cx="148.7" cy="339.5" r="1.8" fill="#5B9BD5"/>
<circle cx="149.6" cy="336.8" r="1.8" fill="#5B9BD5"/>
<circle cx="157.0" cy="333.1" r="1.8" fill="#5B9BD5"/>
<circle cx="155.1" cy="337.3" r="1.8" fill="#5B9BD5"/>
<circle cx="157.0" cy="336.8" r="1.8" fill="#5B9BD5"/>
<circle cx="163.4" cy="332.2" r="1.8" fill="#5B9BD5"/>
<circle cx="165.2" cy="328.5" r="1.8" fill="#5B9BD5"/>
<circle cx="167.1" cy="327.6" r="1.8" fill="#5B9BD5"/>
<circle cx="168.9" cy="329.4" r="1.8" fill="#5B9BD5"/>
<circle cx="160.6" cy="345.0" r="1.8" fill="#5B9BD5"/>
<circle cx="168.0" cy="346.9" r="1.8" fill="#5B9BD5"/>
<circle cx="173.2" cy="311.3" r="1.8" fill="#5B9BD5"/>
<circle cx="227.7" cy="305.3" r="1.8" fill="#5B9BD5"/>
<circle cx="224.1" cy="300.7" r="1.8" fill="#5B9BD5"/>
<circle cx="235.0" cy="304.0" r="1.8" fill="#5B9BD5"/>
<circle cx="241.0" cy="301.1" r="1.8" fill="#5B9BD5"/>
<circle cx="237.7" cy="307.1" r="1.8" fill="#5B9BD5"/>
<circle cx="240.5" cy="291.3" r="1.8" fill="#5B9BD5"/>
<circle cx="249.5" cy="296.2" r="1.8" fill="#5B9BD5"/>
<circle cx="235.9" cy="311.6" r="1.8" fill="#5B9BD5"/>
<circle cx="242.3" cy="311.6" r="1.8" fill="#5B9BD5"/>
<circle cx="238.6" cy="317.1" r="1.8" fill="#5B9BD5"/>
<circle cx="254.1" cy="311.6" r="1.8" fill="#5B9BD5"/>
<circle cx="184.1" cy="327.5" r="1.8" fill="#5B9BD5"/>
<circle cx="174.1" cy="337.5" r="1.8" fill="#5B9BD5"/>
<circle cx="167.7" cy="346.9" r="1.8" fill="#5B9BD5"/>
<circle cx="199.5" cy="327.5" r="1.8" fill="#5B9BD5"/>
<circle cx="204.1" cy="327.5" r="1.8" fill="#5B9BD5"/>
<circle cx="226.8" cy="322.9" r="1.8" fill="#5B9BD5"/>
<circle cx="235.0" cy="325.6" r="1.8" fill="#5B9BD5"/>
<circle cx="234.1" cy="317.5" r="1.8" fill="#5B9BD5"/>
<circle cx="239.5" cy="317.5" r="1.8" fill="#5B9BD5"/>
<circle cx="250.5" cy="322.0" r="1.8" fill="#5B9BD5"/>
<circle cx="166.0" cy="328.0" r="1.8" fill="#5B9BD5"/>
<circle cx="168.0" cy="327.0" r="1.8" fill="#5B9BD5"/>
<circle cx="170.5" cy="326.5" r="1.8" fill="#5B9BD5"/>
<circle cx="172.0" cy="324.0" r="1.8" fill="#5B9BD5"/>
<circle cx="174.5" cy="323.0" r="1.8" fill="#5B9BD5"/>
<circle cx="176.0" cy="321.0" r="1.8" fill="#5B9BD5"/>
<circle cx="178.0" cy="319.5" r="1.8" fill="#5B9BD5"/>
<circle cx="180.0" cy="318.5" r="1.8" fill="#5B9BD5"/>
<circle cx="166.0" cy="328.5" r="1.8" fill="#5B9BD5"/>
<circle cx="165.6" cy="330.4" r="1.8" fill="#5B9BD5"/>
<circle cx="166.0" cy="330.8" r="1.8" fill="#5B9BD5"/>
<circle cx="167.4" cy="328.3" r="1.8" fill="#5B9BD5"/>
<circle cx="167.8" cy="329.6" r="1.8" fill="#5B9BD5"/>
<circle cx="167.6" cy="330.7" r="1.8" fill="#5B9BD5"/>
<circle cx="169.4" cy="324.8" r="1.8" fill="#5B9BD5"/>
<circle cx="169.4" cy="326.8" r="1.8" fill="#5B9BD5"/>
<circle cx="169.5" cy="327.5" r="1.8" fill="#5B9BD5"/>
<circle cx="171.0" cy="324.6" r="1.8" fill="#5B9BD5"/>
<circle cx="170.5" cy="326.0" r="1.8" fill="#5B9BD5"/>
<circle cx="170.9" cy="327.6" r="1.8" fill="#5B9BD5"/>
<circle cx="172.2" cy="325.3" r="1.8" fill="#5B9BD5"/>
<circle cx="172.3" cy="327.1" r="1.8" fill="#5B9BD5"/>
<circle cx="172.7" cy="327.5" r="1.8" fill="#5B9BD5"/>
<circle cx="174.2" cy="325.0" r="1.8" fill="#5B9BD5"/>
<circle cx="173.6" cy="326.1" r="1.8" fill="#5B9BD5"/>
<circle cx="174.1" cy="327.3" r="1.8" fill="#5B9BD5"/>
<circle cx="175.9" cy="324.2" r="1.8" fill="#5B9BD5"/>
<circle cx="175.3" cy="325.9" r="1.8" fill="#5B9BD5"/>
<circle cx="175.4" cy="326.5" r="1.8" fill="#5B9BD5"/>
<circle cx="177.0" cy="321.2" r="1.8" fill="#5B9BD5"/>
<circle cx="177.4" cy="322.1" r="1.8" fill="#5B9BD5"/>
<circle cx="177.4" cy="323.5" r="1.8" fill="#5B9BD5"/>
<circle cx="178.9" cy="320.0" r="1.8" fill="#5B9BD5"/>
<circle cx="178.7" cy="321.7" r="1.8" fill="#5B9BD5"/>
<circle cx="178.5" cy="323.8" r="1.8" fill="#5B9BD5"/>
<circle cx="178.4" cy="324.1" r="1.8" fill="#5B9BD5"/>
<circle cx="180.8" cy="319.7" r="1.8" fill="#5B9BD5"/>
<circle cx="180.8" cy="321.9" r="1.8" fill="#5B9BD5"/>
<circle cx="180.5" cy="323.5" r="1.8" fill="#5B9BD5"/>
<circle cx="180.4" cy="323.4" r="1.8" fill="#5B9BD5"/>
<circle cx="182.0" cy="319.6" r="1.8" fill="#5B9BD5"/>
<circle cx="181.9" cy="320.7" r="1.8" fill="#5B9BD5"/>
<circle cx="182.2" cy="322.4" r="1.8" fill="#5B9BD5"/>
<circle cx="182.0" cy="323.0" r="1.8" fill="#5B9BD5"/>
<circle cx="183.3" cy="318.8" r="1.8" fill="#5B9BD5"/>
<circle cx="183.5" cy="320.1" r="1.8" fill="#5B9BD5"/>
<circle cx="183.6" cy="322.2" r="1.8" fill="#5B9BD5"/>
<circle cx="183.4" cy="321.9" r="1.8" fill="#5B9BD5"/>
<circle cx="185.0" cy="316.5" r="1.8" fill="#5B9BD5"/>
<circle cx="185.2" cy="317.9" r="1.8" fill="#5B9BD5"/>
<circle cx="185.1" cy="319.5" r="1.8" fill="#5B9BD5"/>
<circle cx="186.9" cy="316.5" r="1.8" fill="#5B9BD5"/>
<circle cx="187.1" cy="317.6" r="1.8" fill="#5B9BD5"/>
<circle cx="186.9" cy="318.9" r="1.8" fill="#5B9BD5"/>
<circle cx="188.6" cy="315.2" r="1.8" fill="#5B9BD5"/>
<circle cx="188.2" cy="316.0" r="1.8" fill="#5B9BD5"/>
<circle cx="188.4" cy="317.7" r="1.8" fill="#5B9BD5"/>
<circle cx="188.0" cy="319.1" r="1.8" fill="#5B9BD5"/>
<circle cx="189.9" cy="314.2" r="1.8" fill="#5B9BD5"/>
<circle cx="190.3" cy="315.1" r="1.8" fill="#5B9BD5"/>
<circle cx="189.8" cy="317.4" r="1.8" fill="#5B9BD5"/>
<circle cx="190.1" cy="318.5" r="1.8" fill="#5B9BD5"/>
<circle cx="190.2" cy="319.1" r="1.8" fill="#5B9BD5"/>
<circle cx="191.3" cy="313.6" r="1.8" fill="#5B9BD5"/>
<circle cx="191.3" cy="315.4" r="1.8" fill="#5B9BD5"/>
<circle cx="191.7" cy="316.7" r="1.8" fill="#5B9BD5"/>
<circle cx="191.7" cy="318.2" r="1.8" fill="#5B9BD5"/>
<circle cx="193.2" cy="310.7" r="1.8" fill="#5B9BD5"/>
<circle cx="193.3" cy="312.2" r="1.8" fill="#5B9BD5"/>
<circle cx="192.9" cy="313.9" r="1.8" fill="#5B9BD5"/>
<circle cx="192.9" cy="315.3" r="1.8" fill="#5B9BD5"/>
<circle cx="193.5" cy="316.3" r="1.8" fill="#5B9BD5"/>
<circle cx="195.0" cy="310.5" r="1.8" fill="#5B9BD5"/>
<circle cx="194.5" cy="312.2" r="1.8" fill="#5B9BD5"/>
<circle cx="195.1" cy="313.4" r="1.8" fill="#5B9BD5"/>
<circle cx="195.0" cy="315.0" r="1.8" fill="#5B9BD5"/>
<circle cx="194.6" cy="315.6" r="1.8" fill="#5B9BD5"/>
<circle cx="196.8" cy="308.5" r="1.8" fill="#5B9BD5"/>
<circle cx="196.8" cy="309.9" r="1.8" fill="#5B9BD5"/>
<circle cx="196.7" cy="311.7" r="1.8" fill="#5B9BD5"/>
<circle cx="196.8" cy="313.4" r="1.8" fill="#5B9BD5"/>
<circle cx="196.7" cy="314.7" r="1.8" fill="#5B9BD5"/>
<circle cx="196.1" cy="315.7" r="1.8" fill="#5B9BD5"/>
<circle cx="197.6" cy="308.4" r="1.8" fill="#5B9BD5"/>
<circle cx="197.9" cy="309.9" r="1.8" fill="#5B9BD5"/>
<circle cx="198.4" cy="312.0" r="1.8" fill="#5B9BD5"/>
<circle cx="198.4" cy="313.6" r="1.8" fill="#5B9BD5"/>
<circle cx="197.9" cy="314.6" r="1.8" fill="#5B9BD5"/>
<circle cx="199.6" cy="308.4" r="1.8" fill="#5B9BD5"/>
<circle cx="199.6" cy="309.7" r="1.8" fill="#5B9BD5"/>
<circle cx="199.3" cy="311.6" r="1.8" fill="#5B9BD5"/>
<circle cx="199.2" cy="313.2" r="1.8" fill="#5B9BD5"/>
<circle cx="199.3" cy="314.1" r="1.8" fill="#5B9BD5"/>
<circle cx="201.1" cy="304.7" r="1.8" fill="#5B9BD5"/>
<circle cx="201.0" cy="306.6" r="1.8" fill="#5B9BD5"/>
<circle cx="201.5" cy="308.1" r="1.8" fill="#5B9BD5"/>
<circle cx="200.9" cy="309.6" r="1.8" fill="#5B9BD5"/>
<circle cx="201.0" cy="311.4" r="1.8" fill="#5B9BD5"/>
<circle cx="201.4" cy="311.8" r="1.8" fill="#5B9BD5"/>
<circle cx="202.7" cy="304.3" r="1.8" fill="#5B9BD5"/>
<circle cx="202.7" cy="306.3" r="1.8" fill="#5B9BD5"/>
<circle cx="202.8" cy="307.7" r="1.8" fill="#5B9BD5"/>
<circle cx="203.0" cy="309.3" r="1.8" fill="#5B9BD5"/>
<circle cx="203.0" cy="310.6" r="1.8" fill="#5B9BD5"/>
<circle cx="202.9" cy="311.6" r="1.8" fill="#5B9BD5"/>
<circle cx="204.3" cy="303.4" r="1.8" fill="#5B9BD5"/>
<circle cx="204.0" cy="305.5" r="1.8" fill="#5B9BD5"/>
<circle cx="204.1" cy="307.1" r="1.8" fill="#5B9BD5"/>
<circle cx="204.1" cy="308.4" r="1.8" fill="#5B9BD5"/>
<circle cx="204.0" cy="310.1" r="1.8" fill="#5B9BD5"/>
<circle cx="204.6" cy="310.9" r="1.8" fill="#5B9BD5"/>
<circle cx="205.8" cy="303.5" r="1.8" fill="#5B9BD5"/>
<circle cx="206.2" cy="305.5" r="1.8" fill="#5B9BD5"/>
<circle cx="205.7" cy="306.9" r="1.8" fill="#5B9BD5"/>
<circle cx="205.7" cy="308.0" r="1.8" fill="#5B9BD5"/>
<circle cx="206.4" cy="309.6" r="1.8" fill="#5B9BD5"/>
<circle cx="206.3" cy="311.2" r="1.8" fill="#5B9BD5"/>
<circle cx="207.7" cy="303.0" r="1.8" fill="#5B9BD5"/>
<circle cx="207.6" cy="304.5" r="1.8" fill="#5B9BD5"/>
<circle cx="207.9" cy="306.6" r="1.8" fill="#5B9BD5"/>
<circle cx="207.8" cy="307.7" r="1.8" fill="#5B9BD5"/>
<circle cx="207.7" cy="309.4" r="1.8" fill="#5B9BD5"/>
<circle cx="207.8" cy="310.5" r="1.8" fill="#5B9BD5"/>
<circle cx="209.3" cy="300.5" r="1.8" fill="#5B9BD5"/>
<circle cx="208.9" cy="302.0" r="1.8" fill="#5B9BD5"/>
<circle cx="208.8" cy="303.4" r="1.8" fill="#5B9BD5"/>
<circle cx="208.9" cy="305.5" r="1.8" fill="#5B9BD5"/>
<circle cx="208.8" cy="307.0" r="1.8" fill="#5B9BD5"/>
<circle cx="209.6" cy="307.0" r="1.8" fill="#5B9BD5"/>
<circle cx="210.5" cy="299.2" r="1.8" fill="#5B9BD5"/>
<circle cx="210.5" cy="300.8" r="1.8" fill="#5B9BD5"/>
<circle cx="211.1" cy="302.4" r="1.8" fill="#5B9BD5"/>
<circle cx="210.9" cy="304.2" r="1.8" fill="#5B9BD5"/>
<circle cx="210.5" cy="305.7" r="1.8" fill="#5B9BD5"/>
<circle cx="212.3" cy="298.4" r="1.8" fill="#5B9BD5"/>
<circle cx="212.5" cy="300.1" r="1.8" fill="#5B9BD5"/>
<circle cx="212.4" cy="301.4" r="1.8" fill="#5B9BD5"/>
<circle cx="212.1" cy="303.5" r="1.8" fill="#5B9BD5"/>
<circle cx="212.2" cy="304.7" r="1.8" fill="#5B9BD5"/>
<circle cx="212.6" cy="306.0" r="1.8" fill="#5B9BD5"/>
<circle cx="214.0" cy="298.2" r="1.8" fill="#5B9BD5"/>
<circle cx="214.1" cy="300.0" r="1.8" fill="#5B9BD5"/>
<circle cx="214.3" cy="301.7" r="1.8" fill="#5B9BD5"/>
<circle cx="214.2" cy="303.5" r="1.8" fill="#5B9BD5"/>
<circle cx="214.0" cy="305.1" r="1.8" fill="#5B9BD5"/>
<circle cx="214.3" cy="304.9" r="1.8" fill="#5B9BD5"/>
<circle cx="215.9" cy="297.7" r="1.8" fill="#5B9BD5"/>
<circle cx="215.4" cy="299.2" r="1.8" fill="#5B9BD5"/>
<circle cx="215.5" cy="301.3" r="1.8" fill="#5B9BD5"/>
<circle cx="215.5" cy="302.3" r="1.8" fill="#5B9BD5"/>
<circle cx="215.4" cy="303.9" r="1.8" fill="#5B9BD5"/>
<circle cx="215.7" cy="304.8" r="1.8" fill="#5B9BD5"/>
<circle cx="217.1" cy="294.4" r="1.8" fill="#5B9BD5"/>
<circle cx="217.5" cy="296.5" r="1.8" fill="#5B9BD5"/>
<circle cx="217.2" cy="298.2" r="1.8" fill="#5B9BD5"/>
<circle cx="217.2" cy="299.7" r="1.8" fill="#5B9BD5"/>
<circle cx="217.2" cy="300.5" r="1.8" fill="#5B9BD5"/>
<circle cx="218.9" cy="294.4" r="1.8" fill="#5B9BD5"/>
<circle cx="218.9" cy="296.0" r="1.8" fill="#5B9BD5"/>
<circle cx="218.5" cy="297.0" r="1.8" fill="#5B9BD5"/>
<circle cx="218.5" cy="299.0" r="1.8" fill="#5B9BD5"/>
<circle cx="219.0" cy="300.3" r="1.8" fill="#5B9BD5"/>
<circle cx="218.8" cy="300.3" r="1.8" fill="#5B9BD5"/>
<circle cx="220.1" cy="293.6" r="1.8" fill="#5B9BD5"/>
<circle cx="220.5" cy="294.5" r="1.8" fill="#5B9BD5"/>
<circle cx="220.3" cy="296.1" r="1.8" fill="#5B9BD5"/>
<circle cx="220.6" cy="298.3" r="1.8" fill="#5B9BD5"/>
<circle cx="220.1" cy="299.3" r="1.8" fill="#5B9BD5"/>
<circle cx="220.5" cy="300.2" r="1.8" fill="#5B9BD5"/>
<circle cx="221.7" cy="292.6" r="1.8" fill="#5B9BD5"/>
<circle cx="222.0" cy="294.3" r="1.8" fill="#5B9BD5"/>
<circle cx="222.1" cy="295.8" r="1.8" fill="#5B9BD5"/>
<circle cx="222.4" cy="297.4" r="1.8" fill="#5B9BD5"/>
<circle cx="222.3" cy="298.7" r="1.8" fill="#5B9BD5"/>
<circle cx="221.6" cy="299.3" r="1.8" fill="#5B9BD5"/>
<circle cx="223.6" cy="290.7" r="1.8" fill="#5B9BD5"/>
<circle cx="223.4" cy="292.8" r="1.8" fill="#5B9BD5"/>
<circle cx="223.5" cy="294.4" r="1.8" fill="#5B9BD5"/>
<circle cx="223.3" cy="296.1" r="1.8" fill="#5B9BD5"/>
<circle cx="223.5" cy="297.7" r="1.8" fill="#5B9BD5"/>
<circle cx="223.3" cy="299.0" r="1.8" fill="#5B9BD5"/>
<circle cx="224.8" cy="288.1" r="1.8" fill="#5B9BD5"/>
<circle cx="225.5" cy="289.4" r="1.8" fill="#5B9BD5"/>
<circle cx="225.2" cy="290.9" r="1.8" fill="#5B9BD5"/>
<circle cx="225.6" cy="293.3" r="1.8" fill="#5B9BD5"/>
<circle cx="225.3" cy="294.5" r="1.8" fill="#5B9BD5"/>
<circle cx="224.9" cy="294.8" r="1.8" fill="#5B9BD5"/>
<circle cx="227.2" cy="287.8" r="1.8" fill="#5B9BD5"/>
<circle cx="226.8" cy="288.9" r="1.8" fill="#5B9BD5"/>
<circle cx="226.8" cy="290.6" r="1.8" fill="#5B9BD5"/>
<circle cx="226.8" cy="292.6" r="1.8" fill="#5B9BD5"/>
<circle cx="226.8" cy="294.3" r="1.8" fill="#5B9BD5"/>
<circle cx="227.0" cy="294.5" r="1.8" fill="#5B9BD5"/>
<circle cx="228.5" cy="286.4" r="1.8" fill="#5B9BD5"/>
<circle cx="228.7" cy="288.4" r="1.8" fill="#5B9BD5"/>
<circle cx="228.4" cy="289.7" r="1.8" fill="#5B9BD5"/>
<circle cx="228.0" cy="291.2" r="1.8" fill="#5B9BD5"/>
<circle cx="228.2" cy="293.1" r="1.8" fill="#5B9BD5"/>
<circle cx="228.1" cy="293.8" r="1.8" fill="#5B9BD5"/>
<circle cx="230.3" cy="286.0" r="1.8" fill="#5B9BD5"/>
<circle cx="230.2" cy="287.9" r="1.8" fill="#5B9BD5"/>
<circle cx="229.7" cy="289.7" r="1.8" fill="#5B9BD5"/>
<circle cx="229.9" cy="290.8" r="1.8" fill="#5B9BD5"/>
<circle cx="229.7" cy="293.0" r="1.8" fill="#5B9BD5"/>
<circle cx="229.8" cy="293.5" r="1.8" fill="#5B9BD5"/>
<circle cx="231.7" cy="285.2" r="1.8" fill="#5B9BD5"/>
<circle cx="231.5" cy="287.2" r="1.8" fill="#5B9BD5"/>
<circle cx="231.7" cy="288.8" r="1.8" fill="#5B9BD5"/>
<circle cx="231.4" cy="290.5" r="1.8" fill="#5B9BD5"/>
<circle cx="232.0" cy="291.9" r="1.8" fill="#5B9BD5"/>
<circle cx="231.7" cy="293.1" r="1.8" fill="#5B9BD5"/>
<circle cx="233.6" cy="282.0" r="1.8" fill="#5B9BD5"/>
<circle cx="233.1" cy="283.7" r="1.8" fill="#5B9BD5"/>
<circle cx="233.6" cy="285.4" r="1.8" fill="#5B9BD5"/>
<circle cx="233.5" cy="286.7" r="1.8" fill="#5B9BD5"/>
<circle cx="233.0" cy="288.7" r="1.8" fill="#5B9BD5"/>
<circle cx="233.1" cy="289.7" r="1.8" fill="#5B9BD5"/>
<circle cx="234.5" cy="281.9" r="1.8" fill="#5B9BD5"/>
<circle cx="234.8" cy="283.3" r="1.8" fill="#5B9BD5"/>
<circle cx="234.6" cy="284.8" r="1.8" fill="#5B9BD5"/>
<circle cx="234.6" cy="286.6" r="1.8" fill="#5B9BD5"/>
<circle cx="234.7" cy="288.4" r="1.8" fill="#5B9BD5"/>
<circle cx="235.1" cy="288.7" r="1.8" fill="#5B9BD5"/>
<circle cx="236.4" cy="281.9" r="1.8" fill="#5B9BD5"/>
<circle cx="236.7" cy="283.1" r="1.8" fill="#5B9BD5"/>
<circle cx="236.0" cy="284.6" r="1.8" fill="#5B9BD5"/>
<circle cx="236.4" cy="286.8" r="1.8" fill="#5B9BD5"/>
<circle cx="236.1" cy="288.1" r="1.8" fill="#5B9BD5"/>
<circle cx="238.3" cy="280.9" r="1.8" fill="#5B9BD5"/>
<circle cx="238.2" cy="282.5" r="1.8" fill="#5B9BD5"/>
<circle cx="237.7" cy="284.3" r="1.8" fill="#5B9BD5"/>
<circle cx="238.0" cy="285.6" r="1.8" fill="#5B9BD5"/>
<circle cx="237.8" cy="287.3" r="1.8" fill="#5B9BD5"/>
<circle cx="239.2" cy="280.0" r="1.8" fill="#5B9BD5"/>
<circle cx="239.5" cy="281.8" r="1.8" fill="#5B9BD5"/>
<circle cx="239.8" cy="283.6" r="1.8" fill="#5B9BD5"/>
<circle cx="239.6" cy="284.9" r="1.8" fill="#5B9BD5"/>
<circle cx="239.7" cy="285.7" r="1.8" fill="#5B9BD5"/>
<circle cx="241.3" cy="277.0" r="1.8" fill="#5B9BD5"/>
<circle cx="241.0" cy="278.7" r="1.8" fill="#5B9BD5"/>
<circle cx="241.3" cy="280.6" r="1.8" fill="#5B9BD5"/>
<circle cx="241.3" cy="282.1" r="1.8" fill="#5B9BD5"/>
<circle cx="241.0" cy="282.9" r="1.8" fill="#5B9BD5"/>
<circle cx="242.7" cy="277.8" r="1.8" fill="#5B9BD5"/>
<circle cx="242.5" cy="279.4" r="1.8" fill="#5B9BD5"/>
<circle cx="243.1" cy="280.8" r="1.8" fill="#5B9BD5"/>
<circle cx="242.8" cy="282.1" r="1.8" fill="#5B9BD5"/>
<circle cx="244.3" cy="278.0" r="1.8" fill="#5B9BD5"/>
<circle cx="244.3" cy="279.7" r="1.8" fill="#5B9BD5"/>
<circle cx="244.3" cy="281.1" r="1.8" fill="#5B9BD5"/>
<circle cx="244.2" cy="281.9" r="1.8" fill="#5B9BD5"/>
<circle cx="246.3" cy="277.1" r="1.8" fill="#5B9BD5"/>
<circle cx="246.1" cy="279.1" r="1.8" fill="#5B9BD5"/>
<circle cx="246.0" cy="280.4" r="1.8" fill="#5B9BD5"/>
<circle cx="246.0" cy="281.5" r="1.8" fill="#5B9BD5"/>
<circle cx="247.7" cy="276.9" r="1.8" fill="#5B9BD5"/>
<circle cx="247.7" cy="278.6" r="1.8" fill="#5B9BD5"/>
<circle cx="247.9" cy="280.5" r="1.8" fill="#5B9BD5"/>
<circle cx="247.6" cy="281.3" r="1.8" fill="#5B9BD5"/>
<circle cx="249.2" cy="274.2" r="1.8" fill="#5B9BD5"/>
<circle cx="249.3" cy="275.9" r="1.8" fill="#5B9BD5"/>
<circle cx="249.1" cy="277.9" r="1.8" fill="#5B9BD5"/>
<circle cx="249.3" cy="278.4" r="1.8" fill="#5B9BD5"/>
<circle cx="251.2" cy="275.6" r="1.8" fill="#5B9BD5"/>
<circle cx="250.6" cy="277.1" r="1.8" fill="#5B9BD5"/>
<circle cx="250.7" cy="278.6" r="1.8" fill="#5B9BD5"/>
<circle cx="252.1" cy="275.8" r="1.8" fill="#5B9BD5"/>
<circle cx="252.3" cy="276.7" r="1.8" fill="#5B9BD5"/>
<circle cx="252.6" cy="278.1" r="1.8" fill="#5B9BD5"/>
<circle cx="254.1" cy="275.5" r="1.8" fill="#5B9BD5"/>
<circle cx="254.0" cy="277.4" r="1.8" fill="#5B9BD5"/>
<circle cx="254.0" cy="278.3" r="1.8" fill="#5B9BD5"/>
<circle cx="170.2" cy="325.3" r="1.8" fill="#5B9BD5"/>
<circle cx="174.1" cy="323.3" r="1.8" fill="#5B9BD5"/>
<circle cx="179.5" cy="318.9" r="1.8" fill="#5B9BD5"/>
<circle cx="182.2" cy="317.8" r="1.8" fill="#5B9BD5"/>
<circle cx="184.0" cy="316.9" r="1.8" fill="#5B9BD5"/>
<circle cx="197.6" cy="307.4" r="1.8" fill="#5B9BD5"/>
<circle cx="200.0" cy="305.8" r="1.8" fill="#5B9BD5"/>
<circle cx="203.9" cy="303.7" r="1.8" fill="#5B9BD5"/>
<circle cx="203.8" cy="311.6" r="1.8" fill="#5B9BD5"/>
<circle cx="212.0" cy="306.2" r="1.8" fill="#5B9BD5"/>
<circle cx="214.1" cy="296.6" r="1.8" fill="#5B9BD5"/>
<circle cx="227.7" cy="286.2" r="1.8" fill="#5B9BD5"/>
<circle cx="246.1" cy="276.2" r="1.8" fill="#5B9BD5"/>
<circle cx="250.2" cy="299.4" r="1.8" fill="#5B9BD5"/>
<circle cx="249.6" cy="292.2" r="1.8" fill="#5B9BD5"/>
<circle cx="252.5" cy="312.4" r="1.8" fill="#5B9BD5"/>
<circle cx="253.3" cy="303.0" r="1.8" fill="#5B9BD5"/>
<circle cx="253.1" cy="310.4" r="1.8" fill="#5B9BD5"/>
<circle cx="253.2" cy="299.0" r="1.8" fill="#5B9BD5"/>
<circle cx="252.0" cy="291.4" r="1.8" fill="#5B9BD5"/>
<circle cx="252.3" cy="282.8" r="1.8" fill="#5B9BD5"/>
<circle cx="249.4" cy="282.4" r="1.8" fill="#5B9BD5"/>
<circle cx="250.4" cy="313.7" r="1.8" fill="#5B9BD5"/>
<circle cx="254.1" cy="291.1" r="1.8" fill="#5B9BD5"/>
<circle cx="251.9" cy="288.4" r="1.8" fill="#5B9BD5"/>
<line x1="42.5" y1="267" x2="42.5" y2="362.0" stroke="#7f7f7f" stroke-width="1.4"/>
<line x1="41.8" y1="361.3" x2="265" y2="361.3" stroke="#6f6f6f" stroke-width="1.4"/>
<text x="34.6" y="364.00" text-anchor="end" class="t">250</text>
<text x="34.6" y="354.57" text-anchor="end" class="t">270</text>
<text x="34.6" y="345.14" text-anchor="end" class="t">290</text>
<text x="34.6" y="335.71" text-anchor="end" class="t">310</text>
<text x="34.6" y="326.28" text-anchor="end" class="t">330</text>
<text x="34.6" y="316.85" text-anchor="end" class="t">350</text>
<text x="34.6" y="307.42" text-anchor="end" class="t">370</text>
<text x="34.6" y="297.99" text-anchor="end" class="t">390</text>
<text x="34.6" y="288.56" text-anchor="end" class="t">410</text>
<text x="34.6" y="279.13" text-anchor="end" class="t">430</text>
<text x="34.6" y="269.70" text-anchor="end" class="t">450</text>
<text x="42.50" y="374.90" text-anchor="middle" class="t">450</text>
<text x="87.00" y="374.90" text-anchor="middle" class="t">500</text>
<text x="131.50" y="374.90" text-anchor="middle" class="t">550</text>
<text x="176.00" y="374.90" text-anchor="middle" class="t">600</text>
<text x="220.50" y="374.90" text-anchor="middle" class="t">650</text>
<text x="265.00" y="374.90" text-anchor="middle" class="t">700</text>
<text x="153.75" y="386.80" text-anchor="middle" class="t">VSUM (V)</text>
<text transform="translate(16.80,314.95) rotate(-90)" text-anchor="middle" class="t">PSUM (W)</text>
<text x="47.5" y="278" class="t" style="font-size:9.05px" xml:space="preserve">PSUM = 1,1443VSUM - 359,24</text>
<text x="45.5" y="358.60" class="lb">(E)</text>
<rect x="313.7" y="274.8" width="224.4" height="43.3" rx="7" ry="7" fill="#d9d9d9" stroke="#a6a6a6" stroke-width="1"/>
<circle cx="322.9" cy="286.4" r="3.6" fill="#4472C4"/>
<text x="337.3" y="290.50" class="lg">49.0 Hz</text>
<circle cx="400.4" cy="286.4" r="3.6" fill="#ED7D31"/>
<text x="414.8" y="290.50" class="lg">49.5 Hz</text>
<circle cx="473.4" cy="286.4" r="3.6" fill="#A5A5A5"/>
<text x="487.8" y="290.50" class="lg">50.0 Hz</text>
<circle cx="322.9" cy="306.5" r="3.6" fill="#FFC000"/>
<text x="337.3" y="310.60" class="lg">50.5 Hz</text>
<circle cx="400.4" cy="306.5" r="3.6" fill="#5B9BD5"/>
<text x="414.8" y="310.60" class="lg">51.0 Hz</text>
<rect x="313.7" y="334.8" width="224.4" height="39.9" rx="7" ry="7" fill="#d9d9d9" stroke="#a6a6a6" stroke-width="1"/>
<text x="318.5" y="351.60" class="lg">(A)</text>
<text x="338.2" y="351.60" class="lg">2.2 KW</text>
<text x="398.8" y="351.60" class="lg">(B)</text>
<text x="418.5" y="351.60" class="lg">1.7 KW</text>
<text x="476.7" y="351.60" class="lg">(C)</text>
<text x="496.6" y="351.60" class="lg">1.3 KW</text>
<text x="318.5" y="367.90" class="lg">(D)</text>
<text x="338.2" y="367.90" class="lg">0.85 KW</text>
<text x="398.8" y="367.90" class="lg">(E)</text>
<text x="418.5" y="367.90" class="lg">0.40 KW</text>
</svg>
</body></html>
